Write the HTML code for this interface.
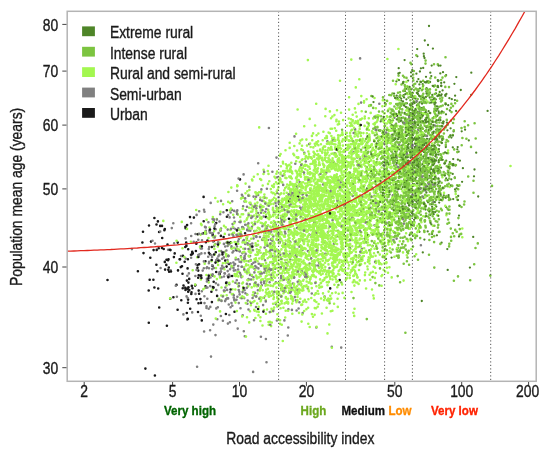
<!DOCTYPE html>
<html><head><meta charset="utf-8"><title>Road accessibility index</title>
<style>html,body{margin:0;padding:0;background:#fff}svg{display:block}</style></head>
<body>
<svg width="550" height="454" viewBox="0 0 550 454" font-family="'Liberation Sans', Arial, sans-serif">
<rect width="550" height="454" fill="#fff"/>
<g fill="none" stroke-width="2.6" stroke-linecap="round">
<path stroke="#1a1a1a" d="M177.7 242.6h0M166.9 325.7h0M225.9 314.0h0M159.1 232.0h0M198.7 290.6h0M180.1 259.3h0M156.4 264.8h0M200.5 275.7h0"/>
<path stroke="#808080" d="M260.1 206.8h0M236.0 274.6h0M263.6 216.5h0M292.9 283.5h0M386.6 222.9h0M184.3 287.6h0M270.8 239.4h0M239.6 294.4h0M257.9 290.3h0M396.6 238.6h0M405.0 159.2h0M333.9 244.0h0M188.0 287.8h0M288.4 309.2h0M309.2 144.1h0M252.0 247.2h0"/>
<path stroke="#a3f750" d="M294.5 213.9h0M314.3 260.4h0M314.8 154.3h0M340.0 269.5h0M243.0 282.5h0M328.2 196.6h0M314.8 143.8h0M330.0 208.4h0M317.2 168.9h0M336.1 177.3h0M329.9 276.7h0M285.8 254.8h0M412.4 153.2h0M427.7 114.6h0M427.5 101.6h0M347.4 205.6h0M337.4 260.1h0M383.0 133.3h0M272.6 272.9h0M217.7 262.1h0M381.9 244.3h0M316.4 302.0h0M300.8 184.0h0M333.2 219.2h0M392.6 196.3h0M340.0 80.8h0M349.3 177.2h0M321.9 313.5h0M376.4 208.6h0M275.0 277.8h0M334.6 169.0h0M318.9 262.2h0M293.3 236.3h0M344.1 192.6h0M285.7 206.1h0M342.3 208.5h0M353.7 214.7h0M305.1 164.9h0M352.7 153.8h0M301.3 304.9h0M281.5 295.7h0M374.6 168.9h0M274.6 258.0h0M361.3 257.5h0M263.6 253.3h0M314.1 199.8h0M262.2 264.3h0M322.7 225.7h0M300.5 227.7h0M289.0 247.2h0M395.4 209.3h0M367.0 181.1h0M403.7 206.6h0M318.7 156.5h0M355.9 228.2h0M328.2 192.3h0M287.4 200.3h0M319.1 163.4h0M267.9 288.9h0M383.7 269.9h0M298.4 214.6h0M298.0 226.5h0M305.8 156.6h0M349.0 246.5h0M326.2 153.8h0M300.4 245.3h0M312.0 239.6h0M347.0 179.1h0M285.8 262.9h0M324.8 219.4h0M333.9 162.7h0M305.8 286.5h0M271.6 243.5h0M315.2 218.2h0M365.4 152.1h0M348.4 144.8h0M260.4 288.3h0M356.7 177.1h0M301.0 250.0h0M313.2 190.9h0M346.7 197.2h0M340.0 145.4h0M330.9 254.5h0M355.6 238.3h0M299.0 170.3h0M329.7 209.7h0M330.1 299.0h0M308.0 172.9h0M351.5 152.5h0M402.6 161.8h0M354.0 218.8h0M300.7 238.5h0M344.4 199.1h0M327.4 235.8h0M329.0 223.4h0M328.0 168.3h0M285.3 199.8h0M289.9 242.6h0M380.2 208.2h0M322.4 239.7h0M343.3 202.2h0M280.6 154.1h0M271.0 227.5h0M343.4 201.9h0M382.6 216.9h0M387.0 180.6h0M323.6 224.6h0M393.7 197.2h0M353.2 211.4h0M305.5 268.6h0M314.1 254.3h0M341.3 187.1h0M303.0 196.8h0M379.7 169.8h0M381.0 189.5h0M220.5 211.9h0M335.4 153.2h0M339.6 184.7h0M290.9 225.6h0M352.6 259.0h0M354.9 235.3h0M370.6 221.0h0M273.0 286.1h0M304.1 174.5h0M322.4 248.4h0M299.0 280.4h0M301.5 249.9h0M359.8 201.8h0M309.2 254.7h0M327.6 260.5h0M347.3 187.7h0M382.1 237.3h0M350.5 167.9h0M306.8 219.7h0M340.3 207.5h0M256.0 296.7h0M361.5 173.7h0M322.8 254.5h0M334.0 268.0h0M290.5 194.1h0M406.1 233.2h0M449.7 187.0h0M323.9 177.4h0M314.8 219.7h0M376.1 229.1h0M389.4 183.5h0M341.3 232.4h0M343.6 159.5h0M382.2 133.0h0M320.9 232.3h0M275.5 178.1h0M285.3 243.9h0M348.3 164.8h0M322.5 217.9h0M364.1 101.1h0M277.0 210.6h0M329.4 155.5h0M385.0 206.4h0M304.9 177.2h0M276.8 250.2h0M396.3 125.9h0M327.6 211.1h0M336.2 130.7h0M338.1 178.0h0M305.4 267.0h0M357.8 222.8h0M265.7 300.0h0M358.8 144.0h0M332.5 139.3h0M302.8 171.7h0M310.3 190.6h0M310.8 230.3h0"/>
<path stroke="#7cc440" d="M367.6 178.4h0M406.3 134.7h0M427.3 172.7h0M435.1 160.5h0M433.2 170.9h0M464.7 127.1h0M414.6 256.2h0M418.4 151.6h0M400.1 108.7h0M372.6 277.1h0M423.5 97.4h0M377.2 234.8h0M402.4 104.2h0M425.7 227.4h0M383.8 200.6h0M403.4 210.0h0M411.2 196.3h0M393.3 173.5h0M404.4 140.7h0M417.1 158.6h0M436.0 153.8h0M428.7 172.2h0M410.0 121.3h0M438.9 113.5h0M443.3 187.9h0M370.5 199.8h0M369.1 106.0h0M411.6 203.0h0M410.3 161.3h0M455.6 191.4h0M413.9 225.6h0M400.5 229.2h0M426.3 131.2h0M424.9 159.3h0M412.8 93.0h0M395.0 187.9h0M423.7 141.2h0M411.3 212.0h0M407.5 157.1h0M383.3 218.7h0M419.6 204.1h0M429.4 178.0h0M420.5 131.5h0M407.0 181.9h0M367.2 137.4h0M444.1 174.9h0M423.1 114.8h0M419.9 191.9h0M397.0 133.9h0M457.1 185.2h0M406.0 130.2h0M393.6 149.3h0M415.5 149.9h0M420.8 125.2h0M407.9 224.8h0M374.9 127.9h0"/>
<path stroke="#4e8528" stroke-width="2.3" d="M430.1 82.0h0M411.1 72.4h0M433.3 162.4h0M430.3 72.7h0M411.1 89.4h0M436.9 235.3h0M425.1 113.0h0M398.8 169.1h0M417.3 112.7h0M449.4 98.2h0M417.5 171.7h0M414.3 184.4h0M431.2 180.9h0M406.2 183.8h0M386.5 174.6h0M442.3 122.9h0M406.3 107.3h0M399.3 176.3h0M417.8 150.9h0M423.9 151.7h0M448.3 209.8h0M404.0 179.7h0M395.9 202.1h0M399.0 167.5h0M412.0 198.4h0M459.9 160.7h0M409.6 87.0h0M446.4 93.9h0M423.9 134.7h0M450.6 128.3h0M405.4 183.4h0M407.5 184.1h0M430.8 147.7h0M421.6 114.9h0M415.0 179.8h0"/>
<path stroke="#1a1a1a" d="M236.6 250.3h0M258.1 309.0h0"/>
<path stroke="#808080" d="M225.9 299.4h0M185.6 238.4h0M247.0 294.5h0M384.4 156.0h0M265.3 211.7h0M197.1 366.7h0M319.3 263.0h0M191.1 257.7h0M173.3 223.3h0M216.3 308.4h0M240.9 256.3h0M254.9 292.9h0M216.7 260.4h0M259.2 250.4h0M342.6 248.8h0M420.9 245.3h0M348.7 147.8h0M188.9 273.4h0M263.1 305.1h0M271.3 231.5h0M348.4 213.0h0M377.3 185.4h0M224.8 290.7h0M264.6 247.5h0"/>
<path stroke="#a3f750" d="M346.0 139.8h0M289.7 197.6h0M300.0 265.7h0M286.7 192.7h0M305.5 230.7h0M359.6 225.6h0M327.9 222.8h0M228.3 255.6h0M318.3 154.3h0M282.3 263.4h0M329.1 247.8h0M370.1 250.6h0M342.8 242.8h0M392.2 221.5h0M395.2 178.5h0M326.9 300.1h0M409.3 170.2h0M354.5 308.8h0M337.1 244.1h0M307.9 245.5h0M388.0 150.0h0M316.4 142.3h0M387.1 185.7h0M324.5 219.8h0M367.7 127.4h0M296.2 254.7h0M340.7 225.5h0M269.9 201.9h0M304.3 223.2h0M306.4 231.3h0M356.6 223.5h0M387.7 191.8h0M310.1 172.2h0M369.4 187.5h0M391.4 241.6h0M349.7 275.3h0M437.1 215.3h0M292.9 239.2h0M341.7 160.7h0M309.7 193.1h0M314.1 156.7h0M324.7 241.2h0M325.1 138.3h0M303.1 188.2h0M314.3 222.8h0M346.3 180.8h0M330.8 163.1h0M406.8 217.6h0M332.4 228.5h0M411.6 181.2h0M348.4 194.2h0M386.3 263.1h0M315.7 282.0h0M301.2 246.3h0M257.8 227.8h0M306.6 265.2h0M309.2 226.6h0M313.8 237.0h0M296.1 253.8h0M349.5 198.2h0M310.5 201.3h0M350.2 215.2h0M259.9 264.0h0M383.5 219.2h0M339.2 236.6h0M388.3 109.9h0M315.9 277.3h0M374.0 173.5h0M405.5 134.8h0M378.2 214.2h0M343.4 253.8h0M405.0 202.0h0M393.3 138.9h0M337.0 266.7h0M250.1 267.2h0M352.8 120.4h0M381.6 189.0h0M290.0 169.6h0M311.1 157.6h0M219.6 242.9h0M332.2 225.8h0M410.1 94.0h0M375.3 212.6h0M350.8 235.1h0M278.3 254.7h0M289.2 231.1h0M274.6 243.2h0M341.4 246.9h0M308.9 207.3h0M372.2 203.5h0M274.2 223.8h0M332.5 161.7h0M348.8 140.8h0M247.1 218.4h0M384.3 173.1h0M355.9 264.7h0M255.4 318.0h0M408.0 241.3h0M345.1 184.0h0M355.4 215.0h0M238.9 235.6h0M271.3 311.6h0M417.8 138.3h0M251.2 266.0h0M317.3 260.5h0M389.5 163.8h0M359.2 198.2h0M342.2 239.9h0M310.3 247.4h0M402.4 140.2h0M349.1 109.6h0M317.8 248.0h0M265.3 243.4h0M382.3 275.0h0M220.2 230.5h0M369.2 205.4h0M357.4 235.0h0M362.9 185.7h0M261.0 191.9h0M254.5 224.4h0M330.0 242.0h0M319.4 267.9h0M335.0 140.1h0M216.8 219.1h0M355.9 240.5h0M297.5 200.7h0M348.7 155.7h0M359.9 191.0h0M271.0 255.5h0M414.9 127.2h0M333.7 227.7h0M366.0 162.4h0M384.9 184.8h0M398.0 185.4h0M314.3 186.3h0M296.3 292.7h0M263.3 201.3h0M258.7 311.9h0M305.0 179.6h0M305.7 193.2h0M285.9 297.1h0M297.5 175.9h0M238.3 286.6h0M333.0 218.6h0M341.8 227.1h0M336.2 230.7h0M256.7 276.9h0M306.8 223.4h0M274.8 265.3h0M318.9 174.7h0M297.3 289.5h0M387.5 229.8h0M362.0 141.0h0M328.9 170.4h0M323.6 164.8h0M288.8 234.5h0M367.9 261.7h0M285.4 219.7h0M293.2 249.5h0M347.8 193.1h0M308.0 185.4h0M348.5 146.4h0M300.2 167.1h0M314.6 194.1h0M287.1 202.2h0M268.1 246.0h0M345.8 209.7h0M329.4 215.3h0M340.3 184.7h0M262.7 264.2h0M286.7 268.5h0M416.2 254.3h0M281.8 324.8h0M294.3 228.8h0M370.9 186.2h0M339.5 259.7h0M302.3 269.7h0M309.0 156.5h0M302.0 185.9h0M256.1 259.8h0M285.2 256.9h0M309.5 266.0h0M357.2 282.6h0M383.0 199.7h0M301.6 321.6h0"/>
<path stroke="#7cc440" d="M409.6 162.6h0M356.8 161.4h0M431.0 184.6h0M367.1 173.4h0M409.5 205.2h0M404.1 184.5h0M398.4 162.2h0M429.2 183.8h0M398.9 188.0h0M378.5 227.0h0M376.5 138.3h0M418.9 190.0h0M384.4 100.2h0M424.2 230.7h0M403.2 82.4h0M429.7 129.5h0M410.7 192.1h0M442.0 100.4h0M433.4 151.7h0M438.1 172.1h0M425.6 206.2h0M412.3 190.0h0M420.1 200.9h0M396.8 249.3h0M416.8 116.5h0M435.4 106.4h0M434.1 117.1h0M387.5 236.2h0M388.1 156.2h0M409.3 116.8h0M420.6 135.0h0M437.3 221.8h0M438.5 192.7h0M418.0 217.7h0M415.2 238.1h0M399.3 220.8h0M411.4 226.7h0M372.7 245.8h0M406.5 77.9h0M409.2 183.0h0M403.3 241.4h0M405.1 86.6h0M418.2 173.5h0M413.2 235.8h0M358.7 227.5h0M409.2 228.8h0M413.5 129.5h0M392.0 189.5h0M392.1 147.6h0M426.0 118.1h0"/>
<path stroke="#4e8528" stroke-width="2.3" d="M447.7 269.9h0M402.5 169.4h0M435.6 177.7h0M445.6 104.3h0M411.6 201.5h0M420.9 141.4h0M434.3 159.4h0M433.4 171.5h0M423.7 198.0h0M416.2 177.4h0M412.1 175.5h0M469.9 267.6h0M426.4 91.6h0M407.8 108.4h0M422.5 97.3h0M387.0 130.0h0M408.1 198.3h0M404.3 134.8h0M415.4 144.0h0M406.8 149.1h0M412.1 122.5h0M412.0 95.2h0M431.2 188.6h0M432.1 234.0h0M410.4 96.8h0M399.8 97.2h0"/>
<path stroke="#1a1a1a" d="M203.6 196.9h0M187.6 268.4h0M183.5 285.5h0M265.9 216.9h0M226.9 216.7h0"/>
<path stroke="#808080" d="M208.7 275.0h0M323.7 242.3h0M290.5 192.1h0M290.4 259.6h0M223.7 267.6h0M357.3 157.5h0M293.6 218.9h0M297.0 228.0h0M273.3 226.5h0M204.0 209.8h0M258.0 213.1h0M409.4 121.0h0M277.2 193.0h0M281.1 288.8h0M209.3 230.8h0M396.3 165.0h0M359.4 255.6h0M235.7 259.4h0M236.7 211.9h0M200.7 248.4h0M353.7 152.0h0M242.2 227.3h0M235.6 320.6h0M280.2 254.8h0M242.4 253.3h0M354.6 191.0h0M214.1 246.1h0M298.8 284.3h0M233.5 251.1h0M272.9 263.9h0M243.8 240.1h0M195.5 293.9h0M272.5 269.3h0"/>
<path stroke="#a3f750" d="M336.7 256.7h0M364.3 211.9h0M365.7 228.3h0M301.0 187.4h0M355.7 230.2h0M262.7 290.2h0M362.7 195.9h0M290.5 193.1h0M358.2 227.8h0M372.0 131.3h0M276.3 211.9h0M318.9 267.4h0M394.1 205.0h0M345.0 156.7h0M360.8 119.6h0M348.8 194.3h0M370.7 272.8h0M303.5 279.8h0M280.1 267.6h0M390.6 239.6h0M379.3 222.3h0M322.0 160.0h0M296.4 224.8h0M372.6 234.6h0M327.7 210.4h0M254.7 310.8h0M303.1 280.7h0M305.2 158.8h0M321.2 214.1h0M303.1 273.1h0M311.0 191.7h0M354.2 192.5h0M338.1 254.4h0M331.2 146.9h0M340.0 233.7h0M308.4 226.4h0M338.0 197.7h0M324.7 187.0h0M394.2 174.9h0M289.3 282.8h0M292.4 265.1h0M399.7 160.4h0M305.3 226.2h0M214.4 248.9h0M351.9 149.7h0M371.4 225.6h0M345.5 254.6h0M301.1 214.6h0M253.3 292.3h0M281.3 258.8h0M356.6 223.5h0M243.1 214.2h0M307.5 216.2h0M354.6 180.5h0M331.9 237.3h0M389.1 205.9h0M337.7 219.0h0M319.9 272.5h0M365.2 191.6h0M417.5 165.8h0M374.4 232.4h0M377.1 225.9h0M400.6 152.6h0M285.1 210.3h0M299.1 269.5h0M313.0 316.7h0M348.3 228.5h0M346.3 185.3h0M338.0 183.5h0M336.4 237.1h0M270.5 246.1h0M357.8 262.2h0M293.9 185.5h0M257.5 221.9h0M311.8 253.9h0M259.8 297.7h0M340.2 208.9h0M332.5 224.4h0M395.2 211.7h0M310.7 204.3h0M326.4 238.0h0M302.9 233.8h0M370.2 189.5h0M328.6 291.6h0M281.4 296.8h0M376.2 115.7h0M341.5 171.0h0M356.2 233.6h0M310.0 204.1h0M339.3 170.1h0M398.6 135.1h0M299.9 265.7h0M320.1 254.3h0M321.1 177.3h0M296.9 266.5h0M240.3 273.7h0M316.3 241.0h0M329.3 198.4h0M398.0 187.4h0M330.8 166.5h0M260.1 179.0h0M331.1 198.1h0M340.1 194.5h0M255.1 199.1h0M317.6 171.6h0M338.6 249.3h0M330.7 247.8h0M361.6 166.9h0M311.3 206.6h0M345.3 224.1h0M289.9 268.5h0M315.3 197.1h0M332.2 178.2h0M312.1 198.6h0M371.2 229.6h0M403.5 158.2h0M303.0 241.2h0M359.3 164.0h0M346.5 222.7h0M320.1 221.3h0M350.4 252.6h0M273.0 209.0h0M295.7 221.2h0M400.5 139.3h0M354.5 143.9h0M322.7 160.6h0M422.8 203.1h0M255.4 192.4h0M339.1 141.1h0M337.8 161.0h0M292.2 189.5h0M262.9 279.4h0M374.8 169.3h0M354.6 209.9h0M350.6 144.3h0M354.1 205.5h0M296.3 267.4h0M346.4 183.0h0M281.9 287.9h0M339.2 162.6h0M321.6 200.1h0M351.8 232.5h0M227.5 241.8h0M298.9 233.6h0M286.3 251.7h0M206.0 232.8h0M350.5 135.9h0M355.4 131.6h0M332.4 215.1h0M301.5 187.4h0M305.7 254.1h0"/>
<path stroke="#7cc440" d="M392.7 201.1h0M439.5 231.8h0M425.7 178.6h0M420.8 214.7h0M416.9 150.2h0M376.4 178.9h0M400.6 165.0h0M390.5 201.0h0M453.9 119.3h0M403.7 208.2h0M439.2 188.2h0M433.0 200.0h0M401.2 213.3h0M373.4 205.6h0M470.2 280.2h0M399.7 208.0h0M415.5 180.6h0M401.0 164.3h0M381.0 116.2h0M395.5 222.0h0M424.0 166.4h0M433.5 212.1h0M407.1 125.0h0M399.7 107.6h0M427.2 200.7h0M395.3 177.6h0M438.7 168.9h0M424.7 125.8h0M405.2 161.4h0M442.5 77.6h0M393.6 163.0h0M389.7 120.1h0M403.8 142.8h0M400.9 146.5h0M426.9 180.2h0M413.3 80.4h0M395.9 207.9h0M409.1 118.6h0M414.6 173.6h0M394.6 242.5h0M407.1 164.5h0M391.0 166.8h0M429.9 185.4h0M391.4 223.5h0M412.1 203.4h0M350.8 177.6h0M394.2 174.6h0M430.0 220.7h0M430.0 154.2h0M420.5 220.2h0M425.9 120.5h0M399.1 131.1h0M394.0 179.2h0M393.2 198.9h0M342.1 129.8h0M386.3 163.8h0M399.5 209.8h0M399.1 117.9h0M373.4 177.2h0M426.2 178.1h0M422.1 144.5h0M401.7 181.9h0M432.1 179.6h0M397.6 105.5h0M425.5 63.6h0"/>
<path stroke="#4e8528" stroke-width="2.3" d="M421.5 146.7h0M376.2 170.9h0M429.0 26.0h0M424.5 134.6h0M414.3 196.7h0M446.1 207.1h0M391.6 140.5h0M426.1 122.4h0M401.7 117.9h0M428.1 202.3h0M421.2 112.6h0M412.8 110.8h0M446.2 178.3h0M407.1 187.3h0M406.7 175.7h0M442.2 140.0h0M426.2 162.3h0M420.8 155.1h0M417.7 203.7h0M443.8 195.3h0M426.0 96.9h0M423.7 171.6h0M418.0 139.8h0M439.7 186.4h0M389.6 194.5h0M394.9 128.0h0M430.8 177.3h0M395.3 205.4h0M377.5 164.2h0M438.3 134.1h0M431.6 198.4h0M399.2 155.0h0M408.8 144.0h0"/>
<path stroke="#1a1a1a" d="M182.5 273.8h0M176.5 284.9h0M205.5 286.2h0M211.4 291.8h0M198.2 277.7h0M284.8 215.2h0"/>
<path stroke="#808080" d="M302.6 207.5h0M237.4 296.8h0M253.9 295.5h0M267.2 226.4h0M241.4 277.3h0M276.3 229.6h0M283.5 205.7h0M206.5 306.2h0M206.1 233.7h0M220.2 214.2h0M301.7 271.0h0M263.9 297.8h0M299.4 302.3h0M233.4 227.9h0M205.8 230.7h0M248.3 280.1h0M322.7 219.8h0M293.9 277.7h0M329.2 161.8h0M280.1 179.3h0M242.8 196.5h0M215.5 335.1h0M302.4 194.5h0M275.1 268.8h0M183.4 314.4h0M236.8 243.7h0M260.9 336.7h0M263.8 224.3h0M336.2 251.0h0"/>
<path stroke="#a3f750" d="M379.3 115.7h0M332.4 265.6h0M329.8 276.5h0M405.7 135.9h0M316.0 293.4h0M267.5 205.3h0M298.6 195.0h0M347.2 166.8h0M316.3 244.6h0M293.9 256.5h0M325.2 155.2h0M355.6 221.8h0M375.8 244.1h0M353.9 215.5h0M231.7 234.1h0M354.3 168.6h0M338.3 137.6h0M332.7 194.2h0M269.8 253.4h0M342.8 205.2h0M313.9 268.6h0M293.6 188.8h0M289.7 147.9h0M336.2 209.2h0M375.7 202.0h0M414.4 205.5h0M314.5 203.8h0M363.6 154.2h0M311.4 193.6h0M266.2 214.5h0M325.1 146.6h0M345.0 218.5h0M338.4 159.1h0M322.8 207.5h0M329.0 209.5h0M330.6 181.5h0M291.2 256.3h0M388.1 242.8h0M313.6 211.4h0M352.3 184.4h0M283.6 245.3h0M341.9 269.3h0M260.5 208.2h0M291.8 289.0h0M328.0 221.1h0M232.9 233.1h0M336.9 219.7h0M403.5 195.3h0M401.8 210.0h0M268.2 209.9h0M372.3 246.5h0M344.7 140.3h0M269.9 269.9h0M289.7 142.7h0M344.6 150.1h0M342.5 178.9h0M410.7 221.1h0M373.8 154.7h0M331.3 248.9h0M334.6 212.6h0M330.0 217.2h0M333.2 226.1h0M325.4 201.9h0M399.7 160.0h0M356.8 135.2h0M291.5 278.3h0M279.6 243.0h0M326.1 249.5h0M302.5 226.1h0M331.3 245.8h0M346.7 240.6h0M288.0 212.1h0M302.2 198.2h0M376.6 122.1h0M330.6 128.8h0M283.0 214.8h0M323.6 182.8h0M325.5 185.4h0M270.2 201.5h0M385.2 271.5h0M310.1 184.6h0M356.5 169.8h0M358.4 215.8h0M373.9 150.0h0M389.6 251.4h0M300.5 140.6h0M281.5 223.6h0M391.5 217.6h0M359.6 196.1h0M270.2 262.4h0M337.2 223.4h0M376.4 132.4h0M373.6 173.3h0M324.5 192.4h0M364.9 155.6h0M310.7 216.1h0M350.0 135.9h0M328.5 148.0h0M390.9 224.3h0M366.5 172.1h0M410.4 166.1h0M206.4 275.0h0M307.0 216.3h0M369.8 158.0h0M368.8 118.3h0M356.6 156.5h0M289.5 164.9h0M286.9 214.6h0M351.5 153.9h0M258.8 232.6h0M278.9 200.8h0M287.0 200.9h0M397.7 230.0h0M255.7 282.2h0M306.3 194.8h0M280.4 280.5h0M292.9 269.6h0M324.6 249.3h0M321.3 245.1h0M271.4 249.1h0M322.7 273.7h0M298.6 199.9h0M442.4 177.3h0M301.7 250.7h0M327.3 167.8h0M327.5 161.5h0M339.7 180.0h0M354.6 233.4h0M271.9 280.0h0M288.7 165.3h0M355.0 132.9h0M358.1 247.0h0M367.5 127.9h0M279.5 251.9h0M321.5 169.4h0M280.9 284.2h0M321.9 242.0h0M361.6 260.9h0M305.4 165.8h0M329.3 167.2h0M338.1 212.0h0M225.9 254.7h0M370.5 160.8h0M360.4 187.4h0M260.2 218.2h0M351.0 151.4h0M423.5 134.2h0M357.6 161.4h0M288.9 207.3h0M279.6 212.2h0M359.0 270.0h0M398.7 131.4h0M359.0 223.3h0M313.6 275.0h0M291.8 178.5h0M287.8 245.7h0M401.6 152.5h0M313.5 256.1h0M339.9 239.3h0M363.2 190.3h0M336.5 119.8h0M271.2 276.7h0M323.0 293.4h0M332.0 252.0h0M366.4 222.5h0"/>
<path stroke="#7cc440" d="M397.7 173.0h0M366.2 214.2h0M389.0 222.2h0M393.6 184.8h0M359.8 246.2h0M386.6 207.8h0M378.2 140.9h0M377.1 159.2h0M408.7 250.7h0M416.3 117.5h0M392.3 179.5h0M388.2 195.1h0M383.0 131.0h0M449.0 137.1h0M392.6 109.8h0M420.5 116.7h0M375.9 178.9h0M458.2 189.2h0M446.7 140.1h0M413.0 165.9h0M417.4 208.9h0M408.0 227.6h0M443.1 138.9h0M405.5 218.3h0M411.3 105.3h0M413.4 164.2h0M434.9 191.6h0M401.9 211.2h0M432.4 191.2h0M438.4 134.8h0M402.4 129.8h0M370.0 146.9h0M423.9 190.2h0M438.9 232.0h0M415.1 117.2h0M416.9 218.0h0M387.1 150.8h0M369.8 220.2h0M356.8 242.8h0M341.3 282.5h0M409.9 185.9h0M364.7 178.6h0M385.9 183.4h0M411.2 129.3h0M436.7 157.5h0M446.0 197.3h0M429.0 254.7h0M421.1 122.3h0M418.3 173.0h0M377.1 228.1h0M415.3 204.5h0M405.9 157.6h0M397.0 198.4h0M451.4 103.9h0M405.4 118.0h0M405.5 159.9h0M405.9 123.6h0M419.1 122.1h0M410.2 151.7h0M440.3 132.1h0M417.4 152.2h0"/>
<path stroke="#4e8528" stroke-width="2.3" d="M441.2 82.9h0M411.0 145.8h0M423.2 136.4h0M434.7 113.0h0M446.1 75.2h0M424.8 40.5h0M399.4 149.4h0M402.3 145.5h0M457.9 159.7h0M396.0 108.6h0M433.7 214.2h0M414.5 125.7h0M427.5 186.3h0M452.1 186.0h0M428.5 141.9h0M435.2 168.4h0M419.4 106.9h0M408.1 80.6h0M410.2 171.8h0M399.5 251.4h0M406.9 217.4h0M410.3 93.3h0M434.9 170.8h0M405.0 91.1h0M421.4 108.2h0M402.4 209.0h0"/>
<path stroke="#1a1a1a" d="M196.5 242.6h0M209.9 254.3h0"/>
<path stroke="#808080" d="M185.6 258.6h0M224.5 273.3h0M336.3 176.5h0M168.1 249.7h0M394.4 117.7h0M301.5 225.0h0M266.5 362.3h0M199.2 211.2h0M229.9 276.3h0M275.5 257.1h0M170.7 270.2h0M299.0 186.1h0M238.8 303.1h0M302.7 313.1h0M271.6 278.3h0M210.1 330.3h0M270.2 232.8h0M243.8 331.3h0M236.5 299.7h0M248.6 261.2h0M276.9 320.5h0M271.2 274.7h0M301.2 249.5h0M366.7 157.2h0M366.0 146.1h0M286.9 264.2h0M253.5 262.8h0M222.9 320.8h0"/>
<path stroke="#a3f750" d="M320.0 218.5h0M416.9 158.8h0M310.6 220.4h0M294.1 194.9h0M361.9 206.7h0M366.8 211.1h0M280.6 268.9h0M310.1 143.5h0M404.0 144.0h0M339.6 153.7h0M406.2 130.2h0M408.5 185.9h0M315.6 235.0h0M345.1 164.5h0M361.5 250.3h0M324.0 192.3h0M320.5 196.0h0M300.3 298.7h0M326.9 209.7h0M312.1 173.5h0M308.9 208.3h0M350.2 219.4h0M336.0 180.2h0M350.9 236.4h0M292.3 249.8h0M344.4 202.8h0M268.9 212.4h0M353.8 174.3h0M322.9 148.0h0M381.6 285.7h0M301.4 239.7h0M353.5 175.5h0M342.4 159.5h0M360.1 228.3h0M331.4 168.9h0M316.4 225.2h0M248.2 286.4h0M265.4 202.3h0M362.7 138.7h0M320.7 264.5h0M324.9 250.0h0M360.5 180.3h0M348.9 140.3h0M322.2 255.8h0M386.7 235.4h0M392.7 138.6h0M369.6 189.4h0M366.1 288.5h0M231.2 248.0h0M398.6 142.9h0M386.9 216.5h0M316.4 286.2h0M343.4 221.3h0M330.5 211.6h0M329.2 193.1h0M399.1 129.6h0M342.1 284.4h0M319.1 273.3h0M273.4 268.8h0M317.0 143.9h0M342.9 161.8h0M334.4 115.1h0M354.4 169.5h0M343.1 199.6h0M358.4 182.1h0M335.9 249.5h0M313.8 198.7h0M282.6 280.3h0M352.1 190.8h0M252.3 211.5h0M330.5 180.7h0M389.8 163.0h0M350.6 261.8h0M342.9 227.4h0M330.9 164.4h0M372.6 215.1h0M300.2 175.6h0M278.6 232.4h0M314.2 231.0h0M249.4 190.0h0M334.4 163.4h0M242.7 252.2h0M304.4 252.9h0M351.1 165.7h0M405.1 180.9h0M301.4 149.4h0M268.1 225.3h0M415.7 175.8h0M345.4 183.1h0M339.3 201.5h0M324.7 278.0h0M353.1 259.9h0M340.5 249.8h0M295.0 203.9h0M355.9 199.9h0M406.7 189.1h0M291.1 197.4h0M176.6 240.8h0M221.3 300.4h0M299.4 206.4h0M321.5 181.6h0M272.2 247.0h0M371.5 201.7h0M256.8 311.5h0M224.4 269.2h0M328.4 282.2h0M314.2 221.9h0M314.1 276.2h0M406.0 127.1h0M317.1 230.7h0M276.4 287.6h0M328.9 281.8h0M291.8 297.4h0M272.1 185.7h0M383.7 136.9h0M336.2 169.2h0M317.7 291.0h0M295.0 292.0h0M348.6 198.5h0M346.0 191.9h0M300.3 190.5h0M394.4 256.8h0M322.2 267.9h0M206.6 219.7h0M288.8 208.1h0M285.8 298.1h0M407.1 86.3h0M355.1 271.3h0M360.2 144.0h0M416.5 213.4h0M392.3 183.1h0M387.2 189.9h0M391.6 188.9h0M228.4 192.0h0M364.8 116.6h0M362.1 140.7h0M304.7 214.8h0M326.7 185.5h0M224.9 251.8h0M304.8 234.7h0M326.5 154.8h0M314.6 196.5h0M313.6 151.9h0M302.9 187.2h0M317.5 259.7h0M299.9 201.1h0M323.5 231.5h0M350.6 226.7h0M231.3 187.6h0M255.9 258.4h0M362.9 179.8h0M345.1 137.4h0M351.4 157.9h0M334.4 189.4h0M298.4 264.7h0M311.5 248.7h0M285.5 278.5h0M293.5 204.2h0M273.5 268.2h0M373.3 178.5h0M352.0 220.3h0M334.1 137.9h0"/>
<path stroke="#7cc440" d="M421.2 188.3h0M413.2 116.7h0M401.7 203.8h0M459.7 234.5h0M410.8 137.3h0M365.1 193.6h0M415.7 137.0h0M413.6 101.4h0M407.5 257.5h0M454.2 236.3h0M424.4 183.8h0M420.0 119.6h0M400.9 247.9h0M412.2 164.9h0M435.6 117.2h0M419.5 109.2h0M408.6 172.9h0M380.4 130.4h0M399.7 173.0h0M453.0 106.1h0M438.4 181.7h0M424.2 142.5h0M407.0 146.9h0M407.7 122.3h0M371.8 241.1h0M396.5 184.7h0M403.9 183.1h0M405.5 147.5h0M382.9 176.1h0M423.4 197.3h0M370.2 186.2h0M413.2 127.0h0M443.4 197.1h0M401.5 154.2h0M387.1 143.2h0M379.5 201.2h0M418.3 165.9h0M422.1 172.1h0M426.8 169.0h0M378.7 205.1h0M441.1 155.0h0M403.5 169.1h0M423.3 143.0h0M412.7 174.6h0M404.6 210.9h0M381.4 119.5h0M442.3 97.7h0M406.0 152.2h0M381.4 234.1h0M414.7 215.5h0M415.1 130.9h0M368.9 162.0h0M384.9 152.5h0M435.9 178.1h0M394.4 200.9h0M389.6 222.7h0M414.1 132.2h0M397.6 133.0h0M363.5 159.4h0M433.6 152.0h0M428.5 118.2h0M402.9 217.5h0M392.0 151.7h0M434.0 86.4h0M434.4 162.3h0M430.5 148.3h0"/>
<path stroke="#4e8528" stroke-width="2.3" d="M436.3 206.6h0M414.3 112.9h0M435.9 110.9h0M411.9 137.6h0M399.1 218.7h0M402.4 141.1h0M407.7 157.2h0M426.4 158.4h0M418.3 138.4h0M398.0 180.8h0M437.4 96.0h0M435.7 149.6h0M424.9 135.6h0M422.4 183.1h0M411.3 176.8h0M416.9 105.4h0M424.3 145.0h0M420.7 143.8h0M404.3 213.4h0M457.7 147.1h0M412.3 128.2h0M435.4 156.2h0M438.8 131.8h0M390.2 182.8h0M415.0 112.1h0M446.2 160.7h0M421.8 301.0h0M411.9 213.1h0M434.9 98.6h0"/>
<path stroke="#1a1a1a" d="M236.8 249.8h0M200.4 299.1h0M296.4 215.3h0M149.0 225.5h0M343.8 234.8h0M213.7 281.8h0M156.7 249.9h0M166.5 259.7h0M143.5 253.1h0"/>
<path stroke="#808080" d="M281.1 278.1h0M255.7 284.7h0M257.7 286.0h0M255.3 262.0h0M407.2 211.1h0M287.3 264.9h0M361.9 248.9h0M298.6 308.5h0M250.6 204.2h0M200.6 246.0h0M221.1 251.1h0M409.3 214.7h0M230.6 307.2h0M360.1 58.4h0M261.0 232.0h0M267.6 245.6h0M225.4 287.5h0M256.2 236.4h0M282.8 290.8h0M174.1 243.2h0M237.7 250.2h0M237.0 246.5h0M411.0 129.8h0"/>
<path stroke="#a3f750" d="M329.8 211.8h0M416.7 169.9h0M287.5 196.8h0M334.0 260.9h0M269.2 271.7h0M357.4 240.5h0M313.9 227.3h0M333.9 200.7h0M279.8 234.4h0M282.3 240.7h0M334.6 164.1h0M380.7 195.2h0M355.1 273.2h0M320.2 200.2h0M388.3 121.5h0M359.7 129.0h0M339.9 189.2h0M293.8 233.1h0M309.3 166.7h0M302.1 290.6h0M357.6 155.4h0M314.0 270.5h0M403.4 103.7h0M326.9 143.7h0M332.3 205.6h0M328.9 259.7h0M308.1 199.1h0M316.6 206.5h0M376.1 174.9h0M309.7 247.0h0M383.4 239.9h0M402.5 191.3h0M354.9 234.5h0M284.6 303.4h0M341.7 204.2h0M297.3 188.4h0M317.5 246.4h0M317.4 218.3h0M331.5 153.7h0M344.7 208.0h0M322.7 280.9h0M322.5 177.4h0M411.0 226.2h0M342.9 145.6h0M344.1 226.6h0M346.2 204.7h0M305.3 208.0h0M397.2 108.3h0M267.9 236.1h0M291.4 193.4h0M322.2 152.8h0M319.6 224.1h0M375.9 162.6h0M397.2 208.9h0M304.5 271.9h0M200.9 279.4h0M312.7 199.1h0M298.3 157.4h0M282.4 198.8h0M249.5 202.8h0M343.6 218.3h0M384.0 185.9h0M251.7 287.4h0M345.4 228.3h0M365.9 250.8h0M255.2 284.3h0M272.9 265.2h0M335.7 247.5h0M321.1 287.1h0M320.2 216.3h0M320.9 144.2h0M347.7 208.0h0M324.1 228.3h0M326.4 247.0h0M347.8 166.6h0M315.3 154.2h0M330.6 199.9h0M316.6 205.4h0M371.9 169.9h0M306.3 256.9h0M362.1 198.4h0M316.7 247.3h0M376.7 181.4h0M352.8 176.8h0M344.8 160.8h0M326.1 226.5h0M291.0 256.4h0M384.8 152.9h0M259.2 127.4h0M335.4 276.9h0M267.7 251.8h0M257.9 254.4h0M308.3 151.5h0M297.5 243.6h0M363.3 225.7h0M321.3 197.6h0M349.1 141.0h0M291.8 275.6h0M282.8 341.0h0M299.3 241.1h0M327.7 167.7h0M315.9 269.8h0M355.7 213.5h0M366.9 229.8h0M290.5 276.5h0M309.9 174.5h0M264.8 270.1h0M313.3 210.5h0M384.3 126.3h0M348.9 205.3h0M280.1 320.2h0M314.4 239.2h0M325.2 153.6h0M406.2 151.2h0M333.1 231.4h0M309.9 198.7h0M215.3 198.0h0M375.9 108.3h0M211.6 261.1h0M290.7 253.2h0M291.4 214.9h0M358.7 255.5h0M307.4 241.5h0M369.1 169.3h0M305.1 209.0h0M328.9 245.7h0M332.2 187.9h0M369.2 188.6h0M329.6 225.4h0M375.4 201.7h0M309.3 224.8h0M376.2 148.3h0M287.3 244.5h0M209.5 227.5h0M348.6 230.1h0M325.4 188.5h0M197.3 257.3h0M304.0 243.9h0M355.1 130.5h0M345.8 255.5h0M318.2 259.0h0M375.2 164.4h0M334.4 175.2h0M391.2 168.3h0M361.1 260.3h0M396.1 169.8h0M351.0 119.2h0M337.4 254.3h0M289.7 219.1h0M323.4 264.9h0M273.9 284.2h0M357.6 123.3h0M200.0 246.9h0M303.3 214.6h0M347.5 173.6h0M297.5 251.4h0"/>
<path stroke="#7cc440" d="M377.2 203.3h0M408.2 155.2h0M410.6 94.0h0M428.6 189.9h0M405.5 220.3h0M415.8 152.0h0M381.4 187.8h0M439.7 126.2h0M425.4 225.8h0M425.2 184.7h0M432.5 162.1h0M409.8 198.0h0M425.1 173.7h0M398.6 75.6h0M490.3 275.6h0M419.4 178.8h0M396.7 223.3h0M394.8 113.5h0M401.7 133.0h0M435.2 179.4h0M412.8 138.8h0M387.9 150.5h0M371.0 151.9h0M436.2 149.4h0M427.8 158.9h0M424.0 139.1h0M361.2 232.2h0M408.1 253.2h0M387.1 199.9h0M416.6 198.5h0M431.2 173.9h0M440.8 195.7h0M396.7 185.3h0M441.6 182.8h0M415.9 206.4h0M428.2 216.6h0M405.8 163.8h0M404.8 174.2h0M402.2 168.4h0M429.8 92.6h0M436.2 189.0h0M413.5 122.8h0M398.1 162.7h0M416.9 161.7h0M411.5 240.3h0M431.3 159.0h0M415.2 161.2h0M420.1 143.4h0M429.3 199.9h0M370.7 203.2h0M432.0 165.3h0M428.2 132.2h0M405.9 160.7h0M427.4 93.6h0M448.1 219.5h0M403.4 122.9h0M418.0 259.8h0M401.7 202.9h0M391.3 138.7h0M414.8 190.9h0M432.4 102.1h0M407.0 167.2h0M377.8 137.4h0M383.3 192.8h0M418.8 173.8h0M448.1 153.1h0M413.1 196.6h0M440.3 117.6h0M398.2 248.1h0M403.4 197.1h0M427.9 189.1h0M418.3 191.2h0M418.6 108.3h0M403.0 165.0h0M434.9 101.8h0M400.2 95.2h0M407.5 128.7h0M410.2 152.1h0M370.8 105.4h0M441.9 174.9h0"/>
<path stroke="#4e8528" stroke-width="2.3" d="M424.9 171.0h0M396.4 114.0h0M428.6 111.2h0M420.4 157.5h0M424.3 204.3h0M419.0 164.2h0M413.8 162.0h0M427.5 178.9h0M420.7 116.6h0M429.7 126.8h0M445.3 95.0h0M440.5 65.6h0M426.5 93.5h0M426.6 148.3h0M442.4 126.4h0M424.7 149.3h0M441.1 167.7h0M439.5 190.2h0M418.8 113.7h0"/>
<path stroke="#1a1a1a" d="M137.9 271.2h0M162.0 248.0h0"/>
<path stroke="#808080" d="M237.3 210.4h0M354.4 148.3h0M264.1 272.6h0M418.1 130.1h0M261.0 212.8h0M227.7 271.1h0M281.1 276.1h0M404.9 175.0h0M265.0 260.2h0M383.2 209.7h0M231.5 267.3h0M210.3 306.9h0M217.8 307.3h0M299.4 246.7h0M320.6 173.8h0M240.9 275.4h0M272.4 256.1h0M311.8 293.5h0M229.3 315.0h0M210.2 286.1h0M265.7 232.6h0M268.9 128.0h0M306.3 199.2h0M311.7 236.7h0M256.7 245.5h0M195.5 234.0h0M287.8 335.5h0M239.8 251.5h0"/>
<path stroke="#a3f750" d="M272.9 270.1h0M340.6 205.5h0M293.8 190.0h0M322.2 199.0h0M331.6 217.3h0M400.0 132.5h0M201.6 225.1h0M330.8 271.9h0M353.9 207.8h0M253.1 267.2h0M269.3 274.6h0M334.8 128.3h0M265.8 276.3h0M315.4 251.5h0M255.0 203.8h0M376.2 170.2h0M354.4 285.6h0M327.8 200.5h0M365.2 240.8h0M329.1 221.9h0M320.4 150.8h0M263.7 258.3h0M299.3 212.1h0M415.8 157.1h0M337.8 179.6h0M380.6 177.5h0M357.6 211.1h0M231.9 294.2h0M279.0 183.4h0M393.5 204.8h0M294.3 191.6h0M324.2 208.1h0M311.7 195.0h0M352.0 230.8h0M342.7 225.1h0M321.0 210.4h0M274.7 259.6h0M292.1 173.1h0M441.5 158.2h0M302.3 314.5h0M362.7 220.0h0M425.3 152.9h0M297.6 174.4h0M365.4 239.0h0M333.3 270.0h0M323.9 203.6h0M350.1 186.0h0M379.5 162.4h0M387.4 59.0h0M325.5 157.5h0M389.0 130.0h0M318.2 240.1h0M311.3 249.1h0M387.2 127.8h0M292.3 173.5h0M281.5 263.9h0M366.1 203.5h0M261.0 280.5h0M382.0 197.8h0M295.1 249.3h0M329.3 215.2h0M366.8 252.6h0M320.3 215.4h0M310.1 255.7h0M383.1 140.3h0M353.6 178.1h0M248.4 216.5h0M210.8 274.9h0M294.8 200.8h0M267.0 275.5h0M348.1 178.0h0M299.7 224.7h0M353.5 158.5h0M395.4 155.3h0M285.7 310.8h0M304.2 311.0h0M388.9 183.5h0M328.6 270.6h0M290.6 183.8h0M380.3 198.8h0M280.6 308.2h0M308.0 268.7h0M293.4 153.9h0M308.3 230.2h0M240.9 231.7h0M331.0 198.9h0M263.5 200.7h0M218.9 298.7h0M408.2 113.6h0M367.0 195.7h0M388.4 212.7h0M312.3 140.2h0M279.8 273.3h0M367.0 218.8h0M313.0 175.9h0M343.2 163.8h0M374.0 253.2h0M346.3 236.3h0M395.9 222.9h0M370.0 193.2h0M348.2 149.4h0M359.8 280.4h0M380.4 183.0h0M328.2 239.4h0M282.6 216.1h0M182.5 248.2h0M367.3 221.9h0M347.3 275.1h0M272.1 291.6h0M339.8 204.8h0M276.1 199.0h0M367.7 145.6h0M406.4 225.2h0M360.2 139.3h0M321.3 177.3h0M316.6 204.0h0M334.7 193.6h0M291.0 190.1h0M292.0 201.4h0M360.7 162.4h0M360.3 181.8h0M278.5 319.2h0M272.9 209.7h0M335.4 243.4h0M345.2 205.2h0M345.7 210.5h0M391.5 150.9h0M348.2 214.2h0M417.9 209.9h0M321.5 233.8h0M303.6 260.6h0M388.4 206.6h0M315.7 222.6h0M408.1 239.9h0M392.1 198.0h0M354.8 212.3h0M289.3 285.4h0M337.0 149.1h0M372.0 289.5h0M214.8 254.5h0M353.4 312.7h0M291.9 183.7h0M303.2 261.6h0M362.1 118.5h0M406.6 199.5h0M347.8 244.6h0M345.7 272.9h0M258.4 253.0h0M317.8 250.4h0M339.5 217.1h0M258.0 241.0h0M362.4 171.0h0M280.7 203.8h0M294.5 241.6h0M338.1 186.7h0M286.6 286.5h0M321.8 230.4h0M324.7 248.2h0M341.8 156.6h0M337.4 147.4h0"/>
<path stroke="#7cc440" d="M393.7 129.5h0M388.0 173.3h0M396.2 199.5h0M407.0 146.6h0M389.8 140.0h0M427.5 159.2h0M369.3 250.4h0M423.5 123.1h0M410.1 139.2h0M373.2 107.9h0M415.8 190.9h0M426.7 145.2h0M409.5 155.1h0M431.7 209.6h0M461.7 145.2h0M393.7 116.0h0M411.3 145.8h0M415.6 235.6h0M383.7 193.3h0M399.3 204.0h0M429.9 92.9h0M385.4 199.5h0M440.7 142.1h0M385.5 246.0h0M412.0 189.2h0M396.8 146.9h0M414.0 214.5h0M410.8 129.1h0M429.7 148.1h0M390.6 200.0h0M396.0 216.3h0M425.5 155.6h0M416.3 151.2h0M432.1 232.4h0M399.3 131.9h0M377.2 220.3h0M388.4 215.8h0M386.9 195.0h0M449.5 166.7h0M423.1 80.9h0M420.9 156.6h0M396.4 151.6h0M426.9 127.1h0M387.3 173.5h0M407.7 107.9h0M399.8 156.8h0M406.1 200.2h0M393.0 179.7h0M445.5 103.2h0M425.7 169.5h0M401.6 206.9h0M433.3 148.8h0M398.5 120.2h0M336.5 164.1h0M408.6 126.3h0M416.3 208.3h0M424.9 206.3h0M356.9 213.1h0M414.6 178.5h0M419.5 175.7h0M406.6 185.0h0"/>
<path stroke="#4e8528" stroke-width="2.3" d="M444.9 175.5h0M394.8 160.0h0M389.2 234.8h0M405.1 153.4h0M447.7 124.4h0M405.2 138.8h0M400.0 168.3h0M436.7 110.0h0M451.8 99.2h0M401.6 174.0h0M436.1 141.9h0M435.8 147.7h0M426.4 153.3h0M413.4 168.0h0M419.5 161.0h0M371.7 208.2h0M458.8 224.9h0M377.7 206.6h0M436.2 129.7h0M432.1 206.8h0M418.4 153.7h0M409.6 200.2h0M416.8 92.8h0M410.8 157.0h0M487.6 110.9h0M410.4 152.1h0M450.8 185.4h0M406.2 114.4h0M378.9 130.4h0M406.0 163.3h0M410.9 178.8h0M415.5 199.9h0M409.9 104.4h0M414.8 138.1h0M441.2 85.7h0M380.1 180.6h0"/>
<path stroke="#1a1a1a" d="M159.2 307.5h0M148.8 322.8h0M212.7 275.4h0M156.5 224.5h0M339.7 280.1h0M188.4 282.6h0M219.7 273.9h0"/>
<path stroke="#808080" d="M201.9 248.5h0M303.0 193.7h0M301.2 209.8h0M241.2 235.0h0M286.0 254.9h0M244.5 201.5h0M318.1 265.5h0M248.4 223.4h0M216.3 290.0h0M202.7 270.6h0M275.9 282.3h0M431.4 158.9h0M221.0 228.6h0M213.9 268.0h0M288.7 229.7h0M285.8 263.0h0M385.0 138.3h0M305.3 272.8h0M327.4 141.2h0M245.2 244.0h0M296.2 188.7h0M281.1 296.4h0M239.5 222.0h0"/>
<path stroke="#a3f750" d="M350.2 244.1h0M298.9 259.3h0M299.9 241.5h0M354.9 186.2h0M276.5 228.0h0M356.1 122.6h0M271.1 222.6h0M292.2 246.0h0M354.1 200.8h0M403.3 171.9h0M317.5 271.5h0M318.5 225.8h0M323.7 191.5h0M337.1 194.9h0M376.8 248.6h0M294.5 191.7h0M282.5 201.7h0M266.2 284.4h0M274.2 197.8h0M342.2 195.7h0M301.5 254.6h0M305.6 211.5h0M305.2 193.2h0M270.7 279.6h0M208.4 241.4h0M269.5 215.4h0M342.4 249.3h0M288.0 245.1h0M265.1 223.5h0M337.8 170.7h0M324.7 196.1h0M301.3 256.2h0M297.0 212.8h0M243.3 197.7h0M334.9 179.9h0M336.8 198.4h0M393.8 144.6h0M332.9 250.8h0M373.2 118.4h0M290.0 184.7h0M235.3 289.5h0M380.1 210.2h0M397.8 186.3h0M265.6 203.6h0M393.3 180.4h0M290.8 176.6h0M385.0 208.6h0M359.9 174.7h0M432.4 197.7h0M329.8 205.2h0M286.3 228.9h0M296.5 274.6h0M322.6 253.1h0M380.0 200.7h0M290.7 242.3h0M320.9 158.1h0M305.7 221.9h0M348.6 165.6h0M317.0 170.5h0M268.7 236.7h0M344.9 229.2h0M243.0 290.1h0M317.4 187.1h0M283.2 276.2h0M324.3 279.7h0M290.9 177.7h0M357.9 219.9h0M256.7 286.3h0M399.8 241.2h0M339.1 124.0h0M261.4 210.1h0M357.8 215.1h0M315.1 200.4h0M241.2 257.4h0M252.4 205.7h0M232.9 226.7h0M329.5 165.2h0M308.0 214.7h0M347.7 183.3h0M295.3 217.0h0M364.9 220.0h0M283.7 207.7h0M334.0 162.2h0M319.9 271.3h0M256.0 208.6h0M425.4 180.1h0M254.8 259.1h0M355.9 224.7h0M247.0 317.2h0M378.0 178.9h0M313.3 147.4h0M253.2 224.7h0M375.8 192.9h0M273.9 297.3h0M354.0 153.0h0M323.1 238.5h0M309.1 193.0h0M278.7 243.0h0M347.6 234.7h0M317.4 183.7h0M322.0 194.6h0M321.3 172.3h0M265.0 242.3h0M239.0 271.8h0M329.3 241.7h0M350.7 227.0h0M347.8 195.9h0M337.4 221.9h0M355.1 171.6h0M282.2 259.3h0M349.3 221.4h0M304.2 248.1h0M410.9 155.5h0M273.5 258.1h0M290.2 261.4h0M334.2 163.3h0M357.3 228.1h0M314.0 192.8h0M349.8 239.2h0M341.6 172.7h0M403.1 164.7h0M311.2 191.3h0M417.1 188.2h0M290.7 189.2h0M247.9 269.5h0M347.3 253.3h0M396.5 99.3h0M384.6 113.2h0M360.3 264.5h0M336.4 121.3h0M317.4 183.5h0M363.0 176.8h0M319.8 233.4h0M364.8 172.2h0M328.7 182.9h0M320.1 149.5h0M301.0 247.2h0M287.4 206.0h0M377.9 243.2h0M337.6 298.8h0M342.2 261.1h0M348.1 174.2h0M330.3 278.9h0M266.9 232.8h0M244.3 251.9h0M276.9 268.1h0M300.9 272.0h0M373.5 124.0h0M313.8 210.7h0M295.3 190.3h0M368.1 213.0h0M304.5 204.5h0M328.8 193.5h0M299.8 171.5h0M337.8 161.8h0M307.8 198.7h0M333.1 234.9h0M391.4 140.4h0M352.0 183.1h0M260.8 210.7h0M269.3 181.3h0M321.1 259.2h0M333.0 258.3h0M303.2 226.2h0M302.8 217.7h0M312.7 225.1h0M269.5 279.0h0M432.1 128.4h0M315.7 246.5h0M391.7 223.4h0M345.3 162.3h0M335.7 292.6h0M276.1 260.9h0M232.2 266.9h0M344.4 200.5h0M253.9 236.3h0M331.6 141.2h0"/>
<path stroke="#7cc440" d="M368.7 157.1h0M405.1 186.1h0M395.2 182.1h0M412.6 177.2h0M417.8 116.1h0M418.7 105.5h0M371.5 178.5h0M404.5 103.8h0M391.4 151.3h0M424.5 102.5h0M393.3 201.0h0M411.7 108.8h0M411.0 223.8h0M401.1 128.7h0M427.7 165.5h0M367.2 222.3h0M377.8 194.4h0M407.7 139.9h0M415.4 126.0h0M406.9 173.0h0M440.4 154.5h0M442.2 200.3h0M376.5 201.9h0M398.6 255.5h0M435.6 166.5h0M396.4 196.2h0M435.1 138.1h0M419.1 165.9h0M372.0 215.8h0M393.4 134.9h0M425.2 184.6h0M408.1 168.7h0M420.4 138.6h0M426.3 102.9h0M436.1 148.5h0M404.2 221.5h0M418.2 150.3h0M437.5 128.7h0M393.5 174.0h0M419.0 224.1h0M431.0 124.3h0M405.0 119.0h0M426.5 89.1h0M448.3 196.6h0M394.4 106.5h0M390.9 143.3h0M420.5 193.2h0M377.5 173.0h0M449.4 206.5h0M415.8 228.4h0M408.5 193.3h0M378.5 232.6h0M433.3 208.7h0M377.6 233.7h0M451.2 240.7h0M421.1 199.8h0M375.5 127.2h0M391.5 159.2h0"/>
<path stroke="#4e8528" stroke-width="2.3" d="M396.7 95.7h0M413.4 173.5h0M418.8 145.1h0M443.3 188.2h0M437.8 168.4h0M408.0 195.7h0M417.2 49.1h0M419.5 102.5h0M410.3 215.6h0M433.4 85.9h0M429.5 175.9h0M429.7 97.5h0M409.0 209.3h0M417.9 112.1h0M445.8 147.0h0M404.8 142.4h0M419.1 95.7h0M404.3 161.9h0M376.5 130.0h0M425.1 119.9h0M392.5 154.3h0M389.6 204.1h0"/>
<path stroke="#1a1a1a" d="M107.5 280.0h0M229.8 243.3h0M216.2 272.0h0M198.2 270.6h0M199.1 264.3h0M198.5 303.3h0M229.1 264.0h0"/>
<path stroke="#808080" d="M253.6 196.6h0M305.8 161.5h0M239.0 286.0h0M208.2 256.8h0M250.8 260.0h0M265.8 270.7h0M273.1 294.6h0M318.1 228.4h0M365.6 222.5h0M238.3 228.2h0M307.8 288.5h0M323.2 184.5h0M213.3 324.6h0M218.6 233.1h0M193.7 241.7h0M291.9 309.9h0M253.5 238.5h0M237.1 190.8h0M353.4 206.7h0M370.7 207.8h0M397.8 189.2h0M282.8 216.6h0M294.8 297.1h0M290.9 291.6h0"/>
<path stroke="#a3f750" d="M343.1 151.5h0M290.1 211.8h0M377.4 224.3h0M315.7 293.3h0M274.5 250.7h0M339.0 158.2h0M361.7 236.0h0M354.1 269.7h0M377.7 217.5h0M321.6 188.3h0M208.5 238.0h0M366.3 212.4h0M394.4 149.0h0M421.3 156.3h0M341.6 216.4h0M297.1 272.2h0M287.2 184.5h0M403.7 192.9h0M336.5 168.2h0M315.8 257.3h0M321.1 282.8h0M305.4 264.0h0M294.1 249.9h0M313.2 173.8h0M277.4 217.3h0M337.4 256.6h0M357.7 148.2h0M309.7 327.0h0M296.4 218.9h0M394.7 126.8h0M421.4 222.2h0M265.8 227.2h0M286.3 200.7h0M342.1 261.9h0M370.5 224.5h0M258.7 220.5h0M314.8 266.9h0M368.7 195.6h0M218.3 300.2h0M288.4 293.0h0M299.5 276.6h0M291.9 265.3h0M336.8 255.0h0M384.5 238.2h0M332.4 116.5h0M354.7 221.6h0M371.2 169.4h0M369.6 263.5h0M341.0 112.7h0M292.7 203.2h0M349.4 213.2h0M345.8 279.8h0M243.3 248.8h0M382.9 195.5h0M326.0 260.4h0M332.5 250.1h0M263.5 206.8h0M314.8 169.5h0M216.7 261.7h0M337.9 181.3h0M323.8 223.5h0M313.3 217.6h0M255.6 245.5h0M269.1 219.3h0M355.9 251.9h0M347.9 212.7h0M346.6 223.4h0M326.6 191.6h0M353.6 250.4h0M192.7 270.3h0M254.2 215.6h0M328.4 213.6h0M364.1 197.3h0M343.4 220.3h0M326.2 209.2h0M273.2 216.1h0M300.6 232.5h0M325.0 246.3h0M355.8 206.8h0M388.6 174.4h0M308.8 241.6h0M367.0 194.9h0M363.5 227.0h0M212.6 289.4h0M296.0 202.1h0M392.3 220.4h0M323.0 170.8h0M349.4 177.4h0M322.7 237.0h0M360.6 165.6h0M329.8 224.1h0M332.6 270.8h0M364.9 280.4h0M286.3 250.9h0M333.6 140.2h0M315.6 246.8h0M303.0 301.5h0M292.8 216.6h0M309.0 269.5h0M292.5 254.6h0M356.9 275.2h0M326.3 161.3h0M284.5 175.1h0M358.7 148.5h0M280.6 222.5h0M325.2 215.3h0M276.9 236.2h0M346.2 259.5h0M260.7 252.7h0M349.4 209.5h0M299.4 174.1h0M340.9 187.0h0M333.5 197.4h0M282.1 262.5h0M356.5 257.2h0M278.4 210.0h0M302.0 246.9h0M351.0 164.3h0M357.7 178.7h0M326.7 253.9h0M309.5 222.0h0M326.3 235.2h0M282.7 253.5h0M298.7 288.8h0M413.9 167.4h0M273.4 275.2h0M347.7 219.0h0M335.3 235.8h0M339.7 254.8h0M387.8 206.5h0M428.9 124.7h0M281.2 193.4h0M263.9 310.0h0M332.6 231.4h0M354.4 145.4h0M356.6 154.0h0M312.2 261.4h0M341.0 236.5h0M256.4 211.1h0M292.9 253.7h0M343.8 177.2h0M354.6 198.7h0M269.3 291.9h0M355.0 145.3h0M285.2 317.5h0M299.6 196.9h0M237.2 186.3h0M298.3 259.2h0M357.5 171.1h0M257.4 293.5h0M270.2 226.6h0M375.8 213.1h0M414.3 151.9h0M323.4 258.3h0M360.7 208.9h0M277.6 263.0h0M312.8 205.0h0M278.6 212.3h0M284.1 246.3h0M313.5 198.8h0M389.6 108.6h0M341.7 211.2h0M386.5 192.2h0M352.0 215.9h0M323.6 195.4h0M310.7 277.4h0M372.2 150.4h0M291.0 211.5h0M248.5 194.8h0M382.6 220.3h0M343.1 174.8h0M240.2 216.9h0M333.9 262.2h0M384.0 222.2h0M323.6 175.3h0"/>
<path stroke="#7cc440" d="M405.1 134.8h0M446.8 119.9h0M385.1 207.8h0M381.6 136.8h0M434.1 193.0h0M427.1 135.7h0M403.3 202.5h0M396.1 153.3h0M364.8 161.3h0M400.4 196.9h0M402.8 164.6h0M377.1 154.7h0M410.2 141.4h0M423.4 158.3h0M406.5 166.5h0M404.7 85.1h0M435.5 182.7h0M400.3 126.7h0M382.5 196.4h0M382.5 143.9h0M449.0 164.6h0M422.5 171.5h0M449.3 243.7h0M400.9 226.5h0M419.1 150.6h0M412.9 164.5h0M418.4 128.0h0M396.9 236.1h0M406.2 147.1h0M429.8 171.3h0M376.5 188.2h0M403.7 138.3h0M447.4 223.8h0M420.5 219.5h0M420.7 151.6h0M451.8 164.4h0M443.9 133.5h0M428.9 120.8h0M398.4 257.8h0M402.0 148.5h0M411.2 128.3h0M414.3 222.1h0M415.9 175.8h0M387.8 216.6h0M438.8 160.9h0M468.2 176.5h0M398.4 222.1h0M415.9 110.2h0M388.3 182.2h0M418.5 148.9h0M398.0 212.7h0M338.4 285.0h0M384.2 230.4h0M400.8 195.5h0M403.2 198.5h0M383.2 189.9h0M398.5 132.7h0M417.0 235.9h0M383.4 133.1h0M419.4 185.8h0"/>
<path stroke="#4e8528" stroke-width="2.3" d="M404.1 105.5h0M454.8 177.5h0M439.6 199.8h0M429.1 210.9h0M408.5 148.4h0M432.7 162.9h0M407.0 124.7h0M426.6 88.2h0M375.1 216.6h0M412.9 139.2h0M418.8 198.4h0M415.2 143.3h0M432.5 209.3h0M415.3 193.2h0M441.9 143.0h0M411.2 224.8h0M439.4 170.4h0M405.7 106.8h0M446.9 122.6h0M437.5 115.6h0M438.5 120.0h0"/>
<path stroke="#1a1a1a" d="M216.2 223.0h0M157.9 221.4h0M186.9 280.6h0M212.5 265.9h0M179.6 259.3h0M215.8 252.2h0M185.6 228.2h0"/>
<path stroke="#808080" d="M250.1 256.1h0M266.5 280.6h0M329.5 268.0h0M232.7 234.5h0M213.9 221.1h0M374.4 195.7h0M187.2 319.6h0M252.3 243.5h0M160.6 268.0h0M219.6 260.7h0M240.5 308.3h0M403.8 223.7h0M212.8 275.2h0M288.0 282.3h0M212.4 235.6h0M212.2 265.2h0M241.6 266.7h0M309.1 234.7h0M414.2 124.5h0M230.1 292.3h0M204.5 303.1h0"/>
<path stroke="#a3f750" d="M332.3 138.2h0M358.7 257.6h0M260.7 222.7h0M283.9 270.5h0M327.4 244.2h0M322.4 196.7h0M301.8 170.3h0M326.9 138.1h0M326.2 187.7h0M247.1 273.4h0M395.4 192.1h0M330.3 176.8h0M251.0 211.8h0M307.4 192.3h0M329.6 187.2h0M262.3 206.2h0M370.7 189.8h0M347.7 210.2h0M288.6 197.1h0M335.4 262.2h0M334.2 214.7h0M364.0 155.2h0M345.4 256.2h0M297.5 270.8h0M288.1 302.4h0M377.8 230.6h0M370.0 211.2h0M233.0 294.0h0M303.2 186.8h0M314.9 245.7h0M322.5 239.5h0M288.1 310.8h0M411.1 107.7h0M263.0 297.8h0M358.9 196.6h0M288.0 202.4h0M276.8 228.4h0M293.1 198.2h0M314.9 178.2h0M316.0 172.2h0M308.3 276.6h0M321.2 266.3h0M356.2 265.2h0M317.3 222.6h0M366.2 191.1h0M400.7 147.2h0M325.9 199.2h0M325.0 225.7h0M406.8 255.3h0M351.0 209.1h0M308.4 180.9h0M334.8 206.3h0M386.8 205.8h0M262.5 325.5h0M417.4 107.1h0M337.8 124.5h0M373.6 157.3h0M315.6 223.1h0M314.8 308.1h0M294.8 195.4h0M332.0 149.6h0M317.2 252.8h0M234.7 274.1h0M353.7 165.4h0M335.3 261.4h0M408.2 182.4h0M322.2 238.1h0M200.6 234.6h0M371.1 183.6h0M296.8 251.0h0M343.1 164.1h0M345.9 195.6h0M383.3 172.4h0M364.7 252.2h0M292.3 313.8h0M335.2 147.4h0M298.7 180.0h0M342.9 232.4h0M355.5 282.2h0M321.4 254.3h0M364.1 178.2h0M301.3 239.4h0M287.6 246.3h0M317.6 186.4h0M376.3 181.1h0M388.7 182.1h0M404.6 177.9h0M349.1 97.2h0M318.0 230.0h0M287.6 170.5h0M372.8 271.9h0M399.1 132.3h0M294.5 206.9h0M302.0 145.7h0M212.9 222.1h0M389.7 180.7h0M301.9 164.0h0M342.9 219.7h0M322.2 227.9h0M277.1 171.6h0M296.1 258.3h0M301.9 171.6h0M288.9 238.3h0M332.6 279.5h0M313.6 224.1h0M380.1 152.0h0M276.9 231.8h0M334.3 256.2h0M384.0 219.3h0M308.5 178.4h0M291.0 264.0h0M310.8 283.5h0M293.4 186.5h0M410.7 144.2h0M306.9 220.0h0M291.9 247.2h0M275.9 260.2h0M306.6 278.3h0M292.8 225.9h0M386.9 170.7h0M334.8 178.6h0M273.5 261.7h0M392.1 177.7h0M346.7 148.2h0M252.7 295.1h0M238.3 276.4h0M293.8 252.2h0M320.2 156.0h0M392.2 146.6h0M376.1 216.7h0M330.6 181.9h0M307.0 268.0h0M309.5 196.4h0M304.7 225.6h0M291.2 214.4h0M240.6 237.7h0M284.8 246.6h0M328.5 264.4h0M285.7 240.6h0M336.2 227.4h0M317.6 207.9h0M318.6 159.7h0M320.8 231.3h0M354.1 171.6h0M368.8 156.3h0M292.1 250.2h0M356.2 230.0h0M305.5 257.7h0M336.7 205.4h0M378.1 194.0h0M214.1 231.2h0M315.3 222.0h0M356.0 273.7h0M322.2 224.6h0M254.6 259.4h0M405.0 149.8h0M279.6 228.2h0M297.0 206.5h0M377.4 233.3h0M313.9 226.2h0M356.6 152.2h0M360.4 225.3h0M348.7 189.5h0M318.3 190.6h0M349.4 174.7h0M294.4 271.1h0M317.8 214.8h0M299.2 261.1h0M341.9 265.2h0M309.5 180.1h0M446.4 215.3h0M296.0 178.3h0M350.5 248.9h0"/>
<path stroke="#7cc440" d="M406.3 218.1h0M338.1 230.7h0M361.5 188.1h0M384.2 250.6h0M414.0 118.6h0M419.1 151.2h0M392.6 188.5h0M448.8 183.7h0M434.0 64.3h0M405.3 124.5h0M391.9 114.2h0M445.4 161.6h0M419.7 183.0h0M439.1 167.1h0M417.7 144.7h0M403.0 196.4h0M399.0 197.1h0M395.4 142.7h0M404.8 204.1h0M439.4 170.9h0M426.9 177.8h0M392.5 146.0h0M419.9 199.7h0M375.7 192.5h0M407.4 126.8h0M389.0 223.9h0M379.4 196.7h0M411.9 122.9h0M413.8 96.6h0M440.2 192.9h0M391.3 186.6h0M375.7 226.0h0M417.6 90.6h0M413.6 167.7h0M401.5 184.3h0M391.9 208.7h0M435.4 205.1h0M375.5 199.2h0M449.0 87.1h0M375.0 215.3h0M412.3 206.1h0M423.7 176.0h0M386.8 153.2h0M407.8 210.7h0M414.8 165.2h0M421.6 116.3h0M446.8 166.2h0M410.7 151.1h0M404.0 214.7h0M432.4 154.1h0M411.6 195.8h0M432.9 189.5h0M426.8 188.7h0M384.8 159.7h0M404.7 141.3h0"/>
<path stroke="#4e8528" stroke-width="2.3" d="M434.8 139.4h0M439.7 91.9h0M434.1 163.7h0M419.7 121.9h0M405.3 119.3h0M404.8 167.3h0M377.9 235.7h0M419.4 163.4h0M432.6 135.2h0M432.5 132.6h0M417.4 56.3h0M422.3 108.2h0M432.7 211.9h0M427.5 146.9h0M439.9 159.8h0M403.7 95.1h0M404.1 175.2h0M405.2 208.6h0M389.4 179.0h0M406.3 88.8h0M392.2 204.1h0M430.9 173.2h0M440.0 185.8h0M435.8 99.4h0M422.9 86.3h0M415.0 96.6h0M418.4 158.6h0M422.5 89.4h0M424.7 162.8h0M437.5 185.1h0M399.3 185.3h0"/>
<path stroke="#1a1a1a" d="M211.8 247.0h0M241.1 235.5h0M185.3 247.0h0M234.5 311.7h0M203.5 233.2h0M201.9 246.2h0M191.8 285.9h0M197.5 265.1h0M174.7 253.4h0M188.5 287.2h0M178.0 270.4h0"/>
<path stroke="#808080" d="M309.6 263.6h0M246.9 239.1h0M305.3 219.4h0M250.2 274.8h0M341.2 347.6h0M215.2 224.3h0M388.1 207.7h0M288.3 327.5h0M242.0 266.8h0M252.6 298.0h0M332.5 220.2h0M232.0 210.0h0M310.2 189.1h0M307.9 251.1h0M266.9 188.7h0M256.4 208.2h0M247.4 303.7h0M277.1 293.6h0M268.9 268.5h0M235.1 264.0h0"/>
<path stroke="#a3f750" d="M361.2 165.1h0M314.3 254.2h0M301.5 261.9h0M336.8 183.5h0M319.3 287.8h0M290.7 170.2h0M422.5 134.8h0M381.9 138.5h0M305.6 249.1h0M308.3 230.0h0M316.4 237.7h0M371.1 249.3h0M297.3 191.7h0M296.5 302.3h0M342.2 186.2h0M294.7 257.3h0M288.2 278.2h0M216.0 268.1h0M313.5 243.9h0M313.2 204.0h0M282.0 204.6h0M322.1 267.8h0M298.0 158.0h0M361.9 238.7h0M261.2 179.9h0M292.0 171.5h0M359.7 159.8h0M268.0 183.9h0M336.3 149.8h0M278.9 260.1h0M406.1 110.5h0M293.3 274.6h0M405.0 195.6h0M319.7 229.1h0M254.2 286.1h0M401.1 216.2h0M346.2 239.1h0M315.1 214.4h0M410.8 132.1h0M363.0 156.7h0M294.5 230.9h0M273.6 186.9h0M316.8 191.2h0M358.2 145.5h0M383.8 214.3h0M325.3 150.3h0M328.0 209.6h0M309.0 182.0h0M325.3 203.2h0M273.9 212.5h0M249.3 195.8h0M292.1 202.7h0M239.4 229.8h0M387.6 117.0h0M417.6 218.1h0M345.5 196.2h0M335.2 140.9h0M350.2 185.6h0M402.8 212.5h0M329.4 223.4h0M294.6 273.8h0M243.7 228.9h0M323.0 227.4h0M349.1 172.2h0M270.8 243.7h0M391.2 140.8h0M304.1 286.1h0M352.8 267.7h0M372.7 157.9h0M297.0 191.7h0M347.5 256.2h0M374.5 98.0h0M327.0 179.4h0M301.5 190.5h0M240.5 297.9h0M375.0 123.0h0M296.6 177.4h0M323.3 280.2h0M289.9 244.9h0M296.7 223.1h0M354.2 315.9h0M360.8 246.5h0M307.8 173.6h0M301.4 168.0h0M351.0 194.4h0M345.8 206.9h0M296.4 289.4h0M365.6 234.8h0M353.9 148.6h0M411.0 188.0h0M237.3 283.8h0M324.8 159.4h0M432.5 159.4h0M361.4 243.1h0M339.9 233.2h0M353.1 161.8h0M274.3 292.2h0M414.5 234.4h0M367.6 237.3h0M355.0 255.7h0M361.7 218.4h0M289.1 200.3h0M409.9 228.8h0M291.7 219.9h0M346.3 219.6h0M327.7 199.4h0M324.1 257.2h0M308.3 210.9h0M412.4 185.2h0M358.5 151.4h0M426.7 140.5h0M253.1 209.5h0M383.4 198.1h0M335.7 219.4h0M333.1 230.6h0M418.8 144.6h0M241.7 214.3h0M390.1 224.3h0M305.0 266.9h0M372.5 132.9h0M282.3 209.7h0M314.6 261.8h0M374.2 210.9h0M323.2 164.5h0M308.9 291.2h0M340.8 267.1h0M308.7 178.0h0M322.6 195.1h0M290.5 202.2h0M297.5 190.4h0M341.0 178.9h0M377.9 115.3h0M350.5 272.6h0M247.3 191.2h0M402.1 225.8h0M260.6 217.9h0M330.1 245.1h0M375.7 144.6h0M423.5 185.1h0M375.7 260.9h0M309.7 172.9h0M320.2 190.5h0M326.1 274.2h0M309.1 220.3h0M277.6 268.0h0M357.9 189.0h0M277.4 275.1h0M381.2 219.6h0M296.2 240.5h0M363.9 252.6h0M358.4 133.6h0M327.7 152.6h0M341.7 226.4h0M351.2 138.1h0M273.8 241.7h0M385.6 196.2h0M434.9 112.4h0M398.2 168.3h0M325.7 183.2h0M422.0 196.5h0M283.7 220.2h0M335.6 251.8h0M333.5 254.6h0M314.6 191.1h0M421.6 132.8h0M302.6 229.5h0M250.0 311.2h0M364.2 243.0h0M315.3 162.6h0M382.0 200.2h0M297.1 150.5h0M364.7 118.5h0M319.1 162.4h0M345.0 254.1h0M274.2 225.6h0M283.2 225.4h0M358.5 155.2h0"/>
<path stroke="#7cc440" d="M384.8 169.0h0M407.0 188.8h0M451.5 112.1h0M420.9 220.3h0M432.4 121.2h0M422.7 146.7h0M389.9 237.4h0M432.6 155.2h0M411.0 163.2h0M379.9 171.5h0M379.6 174.5h0M420.4 147.4h0M428.5 81.4h0M398.7 168.1h0M402.8 247.6h0M399.4 187.4h0M391.4 126.3h0M380.0 164.0h0M429.5 181.9h0M414.5 195.9h0M371.0 187.0h0M386.8 160.9h0M439.4 199.5h0M435.3 175.9h0M423.8 166.0h0M387.6 197.1h0M401.4 181.3h0M407.3 211.0h0M450.1 135.8h0M402.9 96.0h0M409.7 91.7h0M421.2 202.6h0M473.5 192.8h0M447.9 170.8h0M410.6 211.6h0M359.3 261.1h0M417.7 115.7h0M432.4 202.5h0M437.2 130.2h0M353.3 183.9h0M390.1 160.3h0M376.3 234.1h0M434.5 108.9h0M403.7 263.7h0M408.5 97.6h0M403.4 165.6h0M431.7 161.4h0M384.3 206.2h0M430.0 89.4h0M422.4 150.5h0M390.4 120.9h0M403.3 229.6h0M366.4 242.4h0M412.2 216.3h0M429.1 161.2h0M438.5 179.3h0M406.4 184.7h0"/>
<path stroke="#4e8528" stroke-width="2.3" d="M439.3 145.6h0M451.4 137.6h0M397.4 171.1h0M416.6 201.8h0M419.4 84.4h0M410.7 93.8h0M445.5 95.9h0M441.2 159.8h0M449.8 162.1h0M392.4 180.2h0M442.7 197.6h0M413.7 184.5h0M394.3 114.6h0M373.5 102.1h0M416.1 157.9h0M388.5 182.2h0M431.7 149.9h0M434.6 104.4h0M426.0 119.6h0M441.6 242.7h0M456.6 188.3h0M421.9 139.0h0"/>
<path stroke="#1a1a1a" d="M205.4 261.3h0M157.4 271.3h0M191.5 292.2h0M186.8 313.0h0M396.9 115.6h0M182.0 266.3h0M185.5 290.0h0M168.5 259.3h0"/>
<path stroke="#808080" d="M256.4 236.9h0M186.6 296.4h0M261.8 285.3h0M203.9 261.4h0M248.6 230.5h0M210.6 232.8h0M238.2 266.1h0M243.6 174.4h0M291.5 195.5h0M236.8 280.2h0M316.3 327.5h0M238.8 239.2h0M281.1 258.8h0M304.3 152.7h0M288.5 279.4h0M269.3 268.6h0M224.9 273.5h0M283.8 279.8h0M265.5 229.7h0M294.5 136.4h0M249.8 284.2h0M196.6 269.9h0M269.8 312.1h0M302.7 249.8h0M334.5 153.6h0"/>
<path stroke="#a3f750" d="M372.4 170.9h0M282.0 273.4h0M387.7 141.2h0M264.6 253.2h0M311.1 188.5h0M261.2 272.3h0M364.9 275.1h0M333.1 181.6h0M390.6 225.3h0M327.3 206.2h0M316.5 218.5h0M411.7 178.3h0M387.0 116.3h0M226.4 256.5h0M355.4 198.2h0M275.0 283.5h0M389.1 142.8h0M336.3 276.0h0M259.9 290.6h0M324.6 234.6h0M235.9 276.1h0M355.6 242.0h0M348.2 262.6h0M284.4 235.5h0M353.8 280.3h0M398.5 198.4h0M333.0 240.7h0M445.3 205.9h0M292.7 184.2h0M382.8 100.2h0M320.9 232.2h0M384.5 208.9h0M313.8 170.4h0M369.6 105.2h0M328.1 204.9h0M298.9 239.6h0M240.5 220.9h0M356.2 168.7h0M310.4 279.1h0M283.1 163.5h0M273.1 303.7h0M220.0 277.4h0M297.9 233.3h0M280.8 257.3h0M377.0 164.1h0M380.2 164.6h0M370.9 255.5h0M397.1 248.0h0M334.5 224.2h0M389.2 203.2h0M307.3 183.3h0M352.8 282.3h0M420.9 132.5h0M339.1 195.9h0M385.9 161.5h0M356.3 215.1h0M277.0 228.7h0M371.1 256.7h0M307.8 276.7h0M314.5 295.0h0M339.9 184.8h0M369.3 222.4h0M321.5 169.9h0M382.4 202.6h0M307.5 170.6h0M357.2 151.9h0M346.6 245.3h0M281.1 239.0h0M317.7 238.0h0M331.3 188.5h0M385.1 193.0h0M381.4 184.2h0M340.4 214.2h0M284.2 244.8h0M385.8 143.7h0M334.9 217.5h0M294.5 192.2h0M288.6 231.7h0M309.8 168.7h0M287.0 265.0h0M285.4 177.9h0M349.2 222.3h0M232.5 289.3h0M331.0 188.9h0M400.2 219.5h0M407.5 189.5h0M283.5 214.8h0M338.4 232.5h0M360.3 140.9h0M415.4 111.1h0M309.3 200.5h0M382.6 179.2h0M353.8 208.2h0M438.8 94.4h0M395.7 166.6h0M298.9 274.4h0M268.7 324.8h0M370.6 212.4h0M332.0 202.0h0M298.6 211.4h0M317.0 227.1h0M283.4 278.0h0M306.2 156.4h0M392.4 158.5h0M408.9 131.9h0M396.9 251.4h0M331.4 142.4h0M281.7 300.9h0M305.3 216.7h0M283.5 243.1h0M310.5 157.4h0M284.7 198.3h0M368.6 148.3h0M392.2 220.6h0M338.7 270.9h0M333.0 213.4h0M319.8 263.0h0M327.8 177.0h0M318.8 219.9h0M313.2 161.5h0M360.4 203.6h0M316.4 256.6h0M327.3 162.3h0M301.4 193.1h0M329.7 195.7h0M334.4 257.1h0M307.6 211.8h0M333.3 273.0h0M316.1 232.9h0M267.2 243.4h0M412.7 151.9h0M367.8 174.3h0M303.8 243.2h0M250.1 249.3h0M333.8 246.6h0M346.4 139.1h0M286.4 202.3h0M386.7 166.6h0M353.7 178.2h0M382.4 106.2h0M419.6 153.8h0M405.5 140.2h0M326.6 136.0h0M237.5 272.1h0M353.8 258.3h0M240.8 247.0h0M308.2 206.3h0M281.0 261.7h0M306.6 231.9h0M284.1 288.6h0M248.9 279.7h0M345.8 209.3h0M277.0 207.5h0M339.8 224.0h0M289.3 261.9h0M349.4 216.9h0M383.8 200.7h0M301.1 252.8h0M370.3 217.0h0M304.9 235.4h0M218.1 265.0h0M315.5 256.5h0M325.3 200.9h0M308.6 205.8h0M362.7 143.3h0"/>
<path stroke="#7cc440" d="M425.0 173.6h0M430.9 99.8h0M383.4 152.5h0M393.1 156.7h0M387.0 162.8h0M403.4 159.7h0M433.2 121.9h0M378.6 148.9h0M399.3 223.5h0M391.9 157.7h0M398.7 203.4h0M394.0 205.4h0M370.8 180.1h0M387.8 149.1h0M386.2 176.6h0M407.3 199.2h0M386.5 139.4h0M398.8 134.0h0M429.6 102.7h0M419.6 202.1h0M422.5 168.2h0M421.6 182.4h0M329.6 303.2h0M394.3 219.8h0M407.6 132.0h0M417.7 104.5h0M431.5 191.2h0M358.3 177.7h0M376.5 210.7h0M379.8 187.6h0M420.5 130.0h0M399.1 119.4h0M374.1 242.7h0M393.5 153.9h0M399.1 136.2h0M409.1 127.9h0M452.8 135.0h0M394.1 114.4h0M432.5 96.6h0M410.4 233.4h0M425.3 216.6h0M398.9 227.9h0M400.8 167.1h0M406.3 151.4h0M397.6 182.1h0M397.1 192.0h0M440.9 106.3h0M377.2 172.8h0M399.8 135.1h0M461.2 233.9h0M397.5 134.7h0M394.7 148.8h0M415.7 205.0h0"/>
<path stroke="#4e8528" stroke-width="2.3" d="M434.5 146.8h0M426.0 76.8h0M425.4 177.1h0M419.9 166.0h0M410.4 171.7h0M419.5 231.8h0M399.7 72.8h0M454.4 83.8h0M425.0 220.5h0M425.2 130.8h0M448.3 172.4h0M432.4 149.6h0M412.5 157.4h0M391.6 128.0h0M439.7 181.3h0M397.3 160.6h0M474.5 169.5h0M422.8 252.4h0M414.7 121.5h0M404.7 209.8h0M415.0 179.1h0M431.0 129.2h0M425.5 160.6h0M448.6 195.1h0M429.2 145.1h0M465.1 129.7h0M396.4 81.4h0M415.2 200.6h0M459.0 236.5h0M438.6 183.2h0M425.5 209.5h0M408.1 201.7h0M414.6 103.0h0M451.3 179.3h0M396.1 123.6h0M426.2 216.1h0"/>
<path stroke="#1a1a1a" d="M168.3 269.8h0M169.1 271.7h0M195.9 251.0h0M213.8 241.1h0M217.1 295.9h0M230.6 289.5h0M177.6 309.8h0M187.3 288.8h0M198.4 256.9h0M208.8 276.0h0M220.9 235.9h0"/>
<path stroke="#808080" d="M278.3 240.3h0M290.6 204.5h0M242.4 227.1h0M216.2 260.2h0M176.9 296.8h0M340.3 202.2h0M419.2 111.7h0M408.7 190.1h0M313.2 232.2h0M299.7 182.0h0M247.0 206.8h0M242.7 315.3h0M251.9 264.3h0M248.5 309.5h0M415.0 172.1h0M263.5 254.7h0M232.2 201.2h0M131.9 249.1h0M258.7 263.8h0"/>
<path stroke="#a3f750" d="M322.8 233.5h0M379.5 179.2h0M286.8 254.4h0M346.7 132.9h0M337.1 156.2h0M337.5 178.8h0M351.3 140.8h0M410.8 200.3h0M300.4 217.6h0M356.1 260.0h0M304.4 228.2h0M322.2 151.8h0M237.2 185.4h0M322.7 237.6h0M383.0 255.9h0M276.9 264.2h0M313.4 193.4h0M313.4 161.9h0M398.5 114.3h0M369.9 105.4h0M256.3 213.6h0M362.7 208.9h0M349.8 249.7h0M283.5 293.2h0M354.1 275.6h0M318.0 193.2h0M340.2 135.6h0M378.8 208.9h0M340.2 236.3h0M320.6 187.2h0M350.2 232.7h0M422.1 207.8h0M330.8 226.6h0M387.4 140.4h0M297.6 211.0h0M293.3 290.3h0M429.8 172.3h0M350.8 166.4h0M371.4 178.5h0M350.7 210.5h0M320.3 185.1h0M319.0 156.7h0M377.1 248.2h0M261.5 279.6h0M400.3 210.9h0M373.3 295.5h0M284.7 273.1h0M312.1 229.8h0M418.1 124.6h0M302.2 304.6h0M351.6 155.1h0M300.2 184.0h0M413.2 159.4h0M261.8 207.4h0M361.8 225.5h0M354.8 129.3h0M275.3 214.5h0M364.3 153.4h0M302.4 226.4h0M310.7 249.7h0M372.3 207.7h0M326.2 222.9h0M376.1 165.2h0M267.3 268.6h0M332.2 248.2h0M355.0 242.4h0M359.4 176.3h0M312.0 265.1h0M279.7 177.7h0M342.6 292.9h0M270.6 269.4h0M268.8 233.7h0M293.6 186.8h0M317.0 158.6h0M234.8 275.7h0M252.4 266.6h0M390.5 130.8h0M327.3 190.2h0M262.0 259.1h0M282.2 205.7h0M337.8 139.6h0M287.9 201.7h0M315.5 203.1h0M360.9 136.0h0M315.6 238.6h0M383.0 135.8h0M332.9 202.9h0M258.5 315.2h0M376.7 220.2h0M351.8 215.7h0M283.4 219.7h0M306.4 187.3h0M306.5 285.3h0M294.6 244.1h0M366.4 147.4h0M313.2 272.3h0M276.4 227.1h0M340.4 252.1h0M338.9 222.9h0M318.5 180.8h0M342.3 163.1h0M286.7 256.3h0M303.9 268.1h0M294.2 155.3h0M262.7 185.5h0M291.7 202.2h0M437.4 214.9h0M276.6 233.6h0M332.9 212.4h0M414.3 167.9h0M303.8 208.4h0M284.8 229.3h0M328.6 228.4h0M388.5 157.8h0M396.6 108.8h0M365.5 202.3h0M338.7 202.5h0M311.4 178.3h0M335.7 156.7h0M312.5 236.7h0M379.3 263.9h0M416.6 133.8h0M335.4 267.1h0M307.6 177.2h0M379.6 213.9h0M252.0 179.5h0M368.1 211.2h0M277.3 298.0h0M342.9 139.4h0M348.8 203.3h0M362.9 211.7h0M324.1 219.8h0M386.3 182.3h0M344.4 192.6h0M336.3 187.7h0M244.9 200.9h0M287.0 272.4h0M369.7 182.4h0M308.0 179.7h0M385.9 170.0h0M346.8 161.7h0M279.3 252.8h0M371.6 178.0h0M311.3 298.0h0M310.7 147.0h0M395.8 145.9h0M362.0 181.2h0M181.8 221.9h0M352.7 258.1h0M282.3 265.7h0M317.4 195.4h0M391.2 218.1h0M416.9 186.0h0M402.2 215.4h0M301.5 184.3h0M320.7 235.6h0M326.0 183.8h0M365.5 152.9h0M339.1 167.9h0M334.8 180.7h0M249.3 241.0h0M297.0 171.9h0M299.6 143.4h0"/>
<path stroke="#7cc440" d="M415.6 158.5h0M417.9 152.8h0M389.8 183.9h0M441.0 101.4h0M380.8 192.3h0M410.9 92.8h0M425.6 60.6h0M411.4 197.8h0M390.3 217.0h0M421.7 158.7h0M438.1 173.3h0M438.6 130.9h0M383.4 234.0h0M440.4 158.3h0M425.3 160.1h0M401.5 84.5h0M432.1 139.0h0M432.7 163.2h0M404.7 113.7h0M393.9 232.0h0M420.0 167.4h0M409.5 218.6h0M418.6 174.2h0M447.0 109.0h0M387.6 171.9h0M405.1 183.2h0M408.7 138.4h0M423.6 183.2h0M401.5 140.3h0M433.0 162.2h0M407.2 119.5h0M419.1 121.3h0M394.4 125.5h0M429.8 119.8h0M365.8 111.7h0M387.1 100.9h0M395.9 168.1h0M406.5 155.6h0M418.1 115.3h0M376.2 205.6h0M409.3 210.5h0M398.0 136.4h0M396.4 196.8h0M408.4 192.4h0M375.2 155.3h0M412.0 178.5h0M407.8 110.2h0M416.9 162.6h0M426.1 213.5h0M452.8 233.3h0M367.4 142.5h0M405.4 146.1h0M394.8 114.1h0M433.1 158.5h0M421.1 99.1h0M403.0 136.2h0M424.4 109.1h0M408.3 202.2h0M445.5 127.5h0M416.4 149.6h0M425.7 135.8h0M416.6 160.2h0M406.3 121.0h0M409.7 162.7h0M382.6 221.2h0"/>
<path stroke="#4e8528" stroke-width="2.3" d="M411.3 189.1h0M432.9 48.6h0M399.0 137.6h0M432.4 213.3h0M392.2 134.6h0M452.8 147.3h0M430.8 159.4h0M420.5 160.3h0M430.9 127.4h0M413.5 170.7h0M407.6 134.7h0M412.3 112.9h0M432.4 121.9h0M438.9 151.4h0M408.1 144.8h0M455.1 95.7h0M426.0 162.9h0M422.7 84.2h0M424.7 189.3h0M381.9 145.2h0M406.4 99.3h0M406.9 213.9h0M454.9 100.1h0M424.2 143.3h0M410.3 218.5h0M405.4 192.4h0M409.5 127.3h0M458.3 185.9h0M426.2 186.3h0"/>
<path stroke="#1a1a1a" d="M207.4 240.6h0M182.7 288.2h0M164.4 230.2h0M188.2 249.3h0M198.7 275.2h0"/>
<path stroke="#808080" d="M204.5 211.7h0M374.5 225.3h0M235.4 229.0h0M226.7 282.4h0M293.8 211.5h0M320.3 216.7h0M229.1 274.5h0M362.0 220.0h0M227.6 245.9h0M215.7 229.3h0M220.9 316.0h0M247.2 229.5h0M215.5 244.0h0M208.4 222.3h0M258.1 195.0h0M213.1 241.6h0M392.9 195.4h0M246.7 287.9h0M244.8 336.3h0M415.2 147.9h0M265.3 203.5h0M220.9 268.6h0M251.3 218.0h0M209.0 268.3h0M358.7 165.2h0M405.8 206.7h0M272.4 171.8h0M244.8 258.5h0M235.6 248.8h0"/>
<path stroke="#a3f750" d="M316.8 233.2h0M237.9 214.8h0M271.6 222.8h0M351.9 213.9h0M337.5 181.2h0M386.7 190.8h0M401.4 218.7h0M379.8 240.2h0M276.4 217.4h0M384.6 123.1h0M316.7 193.5h0M390.1 206.1h0M298.1 263.7h0M389.1 121.6h0M404.8 151.7h0M329.3 324.5h0M327.5 214.4h0M259.3 258.5h0M259.7 274.2h0M388.4 164.6h0M295.3 198.3h0M373.4 230.4h0M352.1 139.1h0M321.3 219.8h0M365.4 159.0h0M351.5 220.3h0M385.1 141.2h0M390.8 103.3h0M337.5 224.3h0M333.9 230.0h0M310.5 227.1h0M266.0 262.8h0M383.2 216.1h0M265.9 313.8h0M331.4 202.0h0M322.9 163.6h0M300.2 193.6h0M340.1 224.2h0M280.7 268.5h0M363.8 256.0h0M295.9 196.1h0M294.0 287.4h0M337.1 194.3h0M346.1 214.6h0M292.4 252.4h0M333.8 218.0h0M343.1 264.3h0M369.8 228.8h0M300.5 281.6h0M332.3 160.4h0M425.4 197.2h0M333.5 206.9h0M318.6 185.3h0M382.1 235.5h0M342.6 191.5h0M388.1 229.1h0M315.1 125.5h0M373.2 154.3h0M350.5 226.7h0M306.4 274.2h0M334.2 144.2h0M302.6 159.2h0M347.6 196.6h0M328.7 197.6h0M322.7 232.7h0M339.4 211.5h0M321.0 264.4h0M333.4 266.0h0M235.7 242.4h0M335.4 149.1h0M339.0 166.9h0M333.5 165.1h0M277.8 222.1h0M318.8 193.6h0M310.2 218.5h0M334.5 251.5h0M341.1 207.7h0M337.3 193.9h0M300.4 290.1h0M273.8 211.5h0M342.3 246.1h0M333.1 255.6h0M267.3 270.4h0M333.5 255.0h0M348.0 200.6h0M300.8 202.4h0M346.9 260.8h0M336.2 267.0h0M286.2 199.6h0M365.0 263.2h0M263.9 256.1h0M307.8 236.4h0M280.6 228.6h0M318.0 217.1h0M271.1 326.1h0M269.7 202.7h0M276.6 249.3h0M358.5 232.6h0M400.6 209.7h0M281.5 221.0h0M329.0 162.1h0M290.5 234.3h0M324.0 205.3h0M343.6 213.7h0M298.0 212.7h0M333.5 180.7h0M331.2 298.6h0M308.3 323.7h0M330.4 238.1h0M321.0 274.8h0M427.6 143.2h0M274.8 267.1h0M306.1 229.6h0M330.9 216.0h0M321.8 188.4h0M321.0 250.7h0M331.5 196.3h0M403.6 280.6h0M237.4 213.7h0M294.2 237.6h0M297.4 300.3h0M346.2 145.0h0M368.1 163.0h0M327.5 285.2h0M323.8 190.5h0M265.8 222.2h0M295.3 259.1h0M318.1 179.7h0M360.7 225.3h0M326.9 136.9h0M373.7 209.4h0M347.9 165.9h0M301.7 247.6h0M223.1 204.3h0M313.3 264.0h0M226.6 285.4h0M375.7 179.9h0M362.0 218.9h0M267.8 293.7h0M336.5 196.6h0M265.9 292.3h0M389.9 229.4h0M315.9 244.3h0M272.1 239.9h0M303.1 288.2h0M325.8 243.5h0M296.3 177.8h0M298.5 228.9h0M283.3 266.0h0M380.2 214.8h0M278.8 291.8h0M323.6 205.5h0M319.0 228.7h0M364.4 229.6h0M386.9 267.8h0M329.9 133.2h0M303.3 226.3h0M329.8 187.2h0M264.1 197.2h0M247.4 236.7h0M296.8 263.6h0M357.7 213.5h0M258.9 277.4h0M323.9 237.7h0M348.5 195.8h0M268.5 173.9h0"/>
<path stroke="#7cc440" d="M418.3 104.4h0M369.6 194.6h0M392.3 216.8h0M422.6 142.3h0M412.2 200.7h0M434.9 186.6h0M402.0 103.6h0M410.3 136.5h0M374.9 135.3h0M408.7 197.3h0M430.7 210.0h0M414.8 207.0h0M403.5 173.0h0M441.2 80.0h0M401.3 223.6h0M427.2 161.9h0M405.4 332.8h0M439.2 198.3h0M464.5 201.5h0M395.0 214.1h0M353.3 143.6h0M389.5 119.8h0M438.9 211.6h0M406.3 195.2h0M412.0 116.1h0M413.7 191.1h0M397.1 188.3h0M406.8 216.9h0M379.2 143.4h0M386.9 134.5h0M407.8 183.5h0M421.6 117.4h0M446.0 197.3h0M390.3 207.1h0M416.7 190.4h0M430.2 113.0h0M415.3 127.6h0M412.2 172.8h0M436.6 196.8h0M437.1 166.1h0M434.6 99.1h0M424.4 231.9h0M434.3 267.6h0M371.0 105.0h0M445.5 173.5h0M391.1 95.3h0M364.9 178.5h0M381.4 177.5h0M390.2 214.7h0M404.8 160.5h0M410.4 100.2h0M366.9 129.4h0M361.3 175.4h0M393.3 200.0h0M425.8 167.8h0M423.3 93.7h0M414.0 191.7h0M359.3 214.5h0M411.3 103.4h0M439.6 118.2h0M407.3 114.8h0M369.2 185.3h0M437.5 86.7h0M431.7 97.0h0"/>
<path stroke="#4e8528" stroke-width="2.3" d="M438.9 112.8h0M427.0 138.8h0M381.5 136.6h0M410.6 157.8h0M389.5 190.7h0M441.6 94.4h0M409.6 235.1h0M385.7 212.2h0M462.9 168.2h0M410.7 153.5h0M406.4 172.9h0M395.8 187.6h0M393.5 200.9h0M449.5 168.5h0M442.7 159.8h0M396.1 195.1h0M384.9 103.2h0M409.4 185.4h0M419.0 137.9h0M429.2 150.0h0M401.3 120.4h0M453.2 164.3h0M430.3 215.0h0"/>
<path stroke="#1a1a1a" d="M166.3 264.9h0M245.1 233.2h0M222.5 254.4h0"/>
<path stroke="#808080" d="M250.2 244.6h0M237.7 328.6h0M272.3 240.6h0M277.4 306.3h0M362.0 196.5h0M239.0 283.2h0M275.8 224.9h0M274.7 230.0h0M264.9 197.8h0M247.7 300.6h0M276.5 157.6h0M260.5 273.4h0M223.9 243.9h0M329.9 226.4h0M223.8 252.4h0M253.5 277.3h0M187.3 275.7h0M265.0 266.0h0M206.9 278.9h0M275.5 202.9h0M331.8 346.8h0M282.6 175.8h0M239.3 291.7h0M175.8 285.7h0M423.8 162.4h0"/>
<path stroke="#a3f750" d="M287.1 209.7h0M312.5 271.0h0M368.7 217.8h0M344.1 233.3h0M328.3 298.6h0M356.4 143.4h0M277.0 208.5h0M364.2 204.4h0M325.9 219.5h0M340.2 155.3h0M357.5 220.4h0M306.7 281.5h0M348.7 118.6h0M369.4 223.6h0M297.0 211.9h0M268.2 266.5h0M375.8 164.4h0M234.1 247.7h0M355.7 151.6h0M215.2 236.1h0M348.9 157.5h0M332.8 222.5h0M324.0 300.1h0M341.2 177.8h0M290.3 168.6h0M318.5 255.3h0M285.9 269.6h0M433.7 182.8h0M325.3 243.2h0M351.8 202.4h0M328.1 201.7h0M357.2 197.5h0M395.3 228.0h0M310.0 188.6h0M357.8 203.9h0M426.0 99.7h0M382.4 174.4h0M373.7 205.7h0M305.3 178.6h0M357.9 165.1h0M253.1 250.0h0M326.5 154.0h0M335.2 188.0h0M317.1 232.8h0M349.5 229.4h0M349.9 244.6h0M355.8 246.4h0M345.9 194.3h0M333.1 182.2h0M288.0 298.7h0M328.0 161.5h0M325.4 237.6h0M286.0 215.9h0M345.5 190.1h0M413.0 197.8h0M345.2 201.2h0M337.8 199.7h0M343.4 230.2h0M256.7 255.0h0M394.2 168.6h0M330.5 224.7h0M349.4 152.9h0M365.2 236.2h0M356.5 206.2h0M260.6 301.2h0M331.0 118.2h0M297.3 222.8h0M224.0 225.9h0M343.2 261.2h0M387.3 148.4h0M365.0 157.2h0M363.3 219.0h0M304.8 166.0h0M409.9 217.7h0M351.5 238.2h0M326.5 255.2h0M368.3 236.1h0M280.6 231.7h0M313.2 162.1h0M380.3 221.5h0M328.1 271.9h0M323.9 167.2h0M336.3 257.1h0M315.1 206.0h0M269.4 200.5h0M357.3 203.8h0M282.2 220.0h0M384.4 176.4h0M305.1 204.0h0M273.4 262.3h0M323.8 235.3h0M269.6 244.8h0M308.0 166.6h0M388.0 180.9h0M256.3 192.7h0M366.8 178.9h0M398.4 49.0h0M323.5 218.0h0M319.8 164.9h0M301.5 234.1h0M348.2 145.9h0M274.8 272.4h0M187.0 228.9h0M311.9 248.5h0M434.8 208.2h0M288.9 211.5h0M315.6 161.8h0M349.0 265.4h0M237.4 248.8h0M266.1 244.9h0M434.8 184.6h0M377.5 164.3h0M281.8 224.2h0M313.5 228.6h0M221.5 287.5h0M310.2 180.6h0M350.8 162.0h0M390.4 225.3h0M354.9 108.4h0M281.2 290.1h0M279.8 155.8h0M298.9 239.4h0M351.9 229.0h0M327.8 143.7h0M318.4 212.0h0M328.9 217.3h0M274.3 272.3h0M271.2 248.1h0M405.5 159.9h0M377.2 162.9h0M313.2 190.6h0M307.2 204.0h0M288.3 278.2h0M328.1 300.7h0M390.0 248.2h0M307.3 255.6h0M369.9 209.5h0M331.0 230.9h0M315.9 252.8h0M366.9 233.0h0M367.8 159.3h0M319.4 201.6h0M303.1 182.3h0M342.3 184.5h0M267.9 279.4h0M274.5 176.7h0M288.4 235.7h0M314.2 270.6h0M296.9 212.5h0M318.7 236.0h0M322.4 201.5h0M389.3 159.4h0M384.1 113.3h0M393.9 155.3h0M355.5 227.8h0M351.3 144.1h0M346.3 244.3h0M312.8 234.9h0M307.7 200.2h0M250.0 301.8h0M314.6 314.8h0M285.6 263.7h0M398.9 163.0h0M382.6 196.1h0M273.5 309.5h0M294.8 186.2h0M300.3 197.9h0M258.3 233.7h0M323.0 257.6h0M334.3 176.4h0"/>
<path stroke="#7cc440" d="M401.2 230.6h0M457.5 199.7h0M403.8 210.8h0M390.4 173.3h0M410.2 170.9h0M434.8 161.3h0M375.4 283.1h0M436.1 132.4h0M429.4 214.5h0M408.5 150.5h0M395.2 236.0h0M401.6 155.2h0M416.6 197.3h0M414.6 207.1h0M405.3 207.6h0M418.8 180.9h0M449.0 222.8h0M407.3 208.8h0M381.6 146.5h0M433.8 169.1h0M428.9 208.6h0M398.5 216.6h0M423.2 181.3h0M400.4 155.9h0M424.1 189.3h0M411.7 233.6h0M423.3 108.7h0M406.6 187.1h0M369.4 139.4h0M425.5 131.5h0M397.6 210.0h0M439.9 171.7h0M420.3 81.7h0M447.6 186.3h0M427.3 90.7h0M387.6 218.5h0M435.4 114.3h0M432.9 204.3h0M410.5 88.5h0M422.6 143.2h0M423.5 140.7h0M391.8 224.9h0M420.9 96.6h0M492.0 185.9h0M391.3 191.2h0M438.2 136.2h0M415.3 113.5h0M386.9 228.9h0M436.0 126.2h0M409.1 264.8h0M409.4 216.2h0M446.7 213.6h0M404.9 88.9h0M426.4 129.9h0M417.3 142.7h0M445.1 186.2h0M425.5 152.5h0M401.3 189.0h0M373.4 189.5h0M402.8 186.8h0M421.9 145.3h0M407.2 124.4h0M387.4 232.5h0"/>
<path stroke="#4e8528" stroke-width="2.3" d="M418.6 91.0h0M425.9 166.0h0M407.0 103.3h0M409.9 128.6h0M399.0 134.4h0M438.9 160.1h0M364.6 238.7h0M451.0 120.7h0M435.5 122.0h0M366.9 188.3h0M402.6 162.9h0M391.6 257.6h0M400.6 121.1h0M431.9 135.8h0M367.6 136.1h0M423.9 151.9h0M438.1 81.2h0M429.4 211.7h0M414.2 199.4h0M416.6 101.8h0M422.8 115.8h0M423.6 166.7h0M414.3 115.3h0M401.2 100.6h0M412.4 163.4h0M414.5 160.2h0"/>
<path stroke="#1a1a1a" d="M164.8 261.9h0M226.6 266.6h0M187.9 302.7h0M225.2 260.6h0M145.4 368.6h0M190.2 308.8h0M201.8 320.4h0M154.9 375.5h0M205.9 242.3h0"/>
<path stroke="#808080" d="M247.9 244.7h0M360.0 230.8h0M409.9 163.2h0M260.1 206.6h0M244.6 290.2h0M221.5 300.9h0M251.9 275.8h0M325.3 253.7h0M261.1 282.6h0M254.0 206.9h0M315.6 265.6h0M228.3 255.9h0M247.4 224.7h0M208.8 249.1h0M288.6 211.9h0M300.9 216.2h0M379.3 103.7h0M297.2 186.3h0M315.6 231.4h0M171.8 228.1h0M243.1 206.3h0M303.7 240.3h0M355.1 129.3h0M234.7 221.8h0M425.4 190.4h0M360.2 158.2h0"/>
<path stroke="#a3f750" d="M340.2 176.0h0M351.3 157.0h0M360.2 202.7h0M302.2 139.5h0M292.2 303.6h0M447.4 152.9h0M269.8 256.6h0M354.5 207.8h0M367.3 162.8h0M363.5 200.1h0M275.0 211.7h0M256.7 216.0h0M303.2 249.3h0M361.8 250.1h0M317.6 192.6h0M328.4 157.7h0M321.6 204.8h0M393.5 187.2h0M327.1 212.8h0M371.3 196.1h0M356.5 193.1h0M311.9 242.9h0M323.0 235.4h0M355.8 228.8h0M374.4 168.3h0M318.4 188.5h0M356.3 149.5h0M373.7 161.0h0M359.4 189.4h0M257.0 205.7h0M387.8 154.3h0M333.0 263.3h0M347.8 179.9h0M349.9 184.5h0M315.5 183.5h0M290.1 281.0h0M261.6 257.4h0M325.5 219.9h0M356.2 215.4h0M333.3 214.0h0M425.4 205.0h0M357.3 277.3h0M357.1 262.3h0M351.7 233.1h0M370.0 175.7h0M350.4 230.9h0M370.1 252.3h0M301.5 236.4h0M356.0 140.2h0M314.8 174.3h0M280.3 178.9h0M341.9 221.2h0M378.2 184.7h0M359.7 210.0h0M317.6 195.9h0M367.2 122.5h0M384.5 263.4h0M349.8 136.3h0M416.4 205.7h0M319.7 217.7h0M335.5 144.5h0M317.2 155.0h0M299.2 264.6h0M302.3 187.7h0M276.6 208.6h0M255.8 218.5h0M366.4 176.9h0M363.7 187.7h0M307.4 179.8h0M310.4 225.5h0M361.9 144.3h0M392.2 214.4h0M367.4 236.1h0M285.6 253.3h0M385.1 203.9h0M244.2 270.3h0M225.5 263.1h0M363.2 252.8h0M271.3 253.6h0M347.5 196.4h0M247.6 270.3h0M357.1 204.9h0M279.4 295.1h0M358.5 103.9h0M420.6 141.9h0M343.2 158.8h0M334.2 166.9h0M293.4 194.0h0M295.4 290.5h0M279.9 194.5h0M231.0 208.5h0M338.9 233.6h0M214.7 244.5h0M330.8 311.3h0M300.1 251.8h0M360.2 220.0h0M339.8 218.5h0M285.2 199.3h0M330.6 206.2h0M381.9 144.9h0M380.6 187.4h0M352.3 246.3h0M303.7 197.6h0M286.6 269.9h0M390.6 179.8h0M332.6 191.1h0M330.7 186.1h0M287.7 171.2h0M389.9 103.4h0M321.2 229.4h0M201.0 223.9h0M248.0 244.8h0M319.8 273.1h0M379.7 152.9h0M250.9 215.7h0M222.9 263.2h0M291.3 192.0h0M330.6 254.9h0M246.0 336.6h0M307.7 206.7h0M332.0 263.5h0M328.8 235.7h0M354.2 181.4h0M316.9 238.4h0M306.5 186.0h0M288.4 272.7h0M249.2 228.8h0M368.9 130.0h0M328.5 199.5h0M263.7 213.0h0M278.4 187.4h0M349.7 206.5h0M355.4 240.1h0M338.4 252.9h0M337.5 248.6h0M381.7 189.7h0M357.1 228.6h0M360.3 263.8h0M338.8 143.0h0M368.5 199.7h0M328.8 246.4h0M320.4 215.0h0M291.7 215.8h0M397.7 233.0h0M330.6 214.6h0M371.3 165.4h0M279.1 202.5h0M339.7 202.8h0M363.9 191.3h0M321.8 225.0h0M376.7 223.4h0M368.2 259.8h0M312.4 271.1h0M353.0 234.9h0M330.5 196.4h0M388.7 154.1h0M424.4 123.4h0M344.7 227.6h0M260.4 317.3h0M313.5 160.9h0M295.9 198.3h0M380.8 158.6h0M372.7 200.4h0M302.3 229.9h0M348.0 201.6h0M251.8 222.7h0M343.0 271.0h0M340.9 242.4h0M381.5 276.1h0M279.3 285.6h0M368.7 257.3h0M352.8 217.8h0M284.0 290.8h0"/>
<path stroke="#7cc440" d="M422.3 132.5h0M395.0 214.4h0M378.4 185.8h0M426.8 142.5h0M438.7 141.6h0M395.3 144.6h0M386.7 133.9h0M422.0 179.4h0M387.8 135.2h0M360.2 166.2h0M442.7 105.5h0M459.8 229.1h0M424.9 207.6h0M433.5 196.9h0M418.2 136.3h0M415.2 83.7h0M419.0 197.4h0M429.2 201.2h0M396.1 199.7h0M366.9 167.2h0M390.7 116.5h0M352.3 187.7h0M404.7 236.9h0M437.8 144.6h0M438.1 152.0h0M403.4 165.7h0M383.1 162.0h0M424.8 175.7h0M383.8 196.4h0M452.2 185.9h0M386.7 173.4h0M408.4 183.7h0M397.7 104.6h0M473.5 180.8h0M433.2 118.0h0M366.0 150.1h0M379.6 139.7h0M457.1 100.8h0M400.8 184.5h0M398.2 103.8h0M386.3 181.9h0M392.9 120.2h0M409.8 178.9h0M384.5 205.3h0M434.9 151.7h0M399.3 172.2h0M438.2 193.6h0M411.4 142.3h0M398.5 172.5h0M410.9 127.2h0M433.9 153.3h0M428.1 210.1h0M401.9 112.6h0M464.1 204.5h0M420.3 160.1h0"/>
<path stroke="#4e8528" stroke-width="2.3" d="M428.0 189.2h0M420.8 122.3h0M428.6 171.3h0M430.0 113.1h0M410.6 175.7h0M431.7 187.7h0M386.0 258.9h0M420.3 172.9h0M384.7 181.7h0M411.1 76.3h0M421.0 154.5h0M447.7 180.2h0M431.8 137.7h0M424.6 101.9h0M374.5 116.6h0M408.9 133.2h0M445.4 197.6h0M427.0 117.5h0M462.1 181.8h0M424.5 58.0h0M421.6 173.6h0M410.6 120.7h0M441.3 189.6h0M417.9 94.1h0"/>
<path stroke="#1a1a1a" d="M173.4 297.2h0M181.3 300.3h0M195.2 285.0h0M191.3 294.0h0M162.2 238.0h0M163.7 249.0h0"/>
<path stroke="#808080" d="M234.5 300.4h0M238.1 241.4h0M232.6 224.1h0M352.3 218.1h0M234.0 217.5h0M253.1 371.9h0M262.5 210.3h0M294.3 247.3h0M233.5 236.3h0M422.7 196.6h0M230.0 269.3h0M221.0 200.9h0M250.0 275.0h0M340.7 182.2h0M284.2 209.9h0M314.3 222.8h0M285.4 233.5h0M214.6 226.2h0M281.0 218.0h0M289.4 241.0h0M315.4 283.0h0M243.0 241.3h0"/>
<path stroke="#a3f750" d="M329.2 206.3h0M289.6 251.5h0M331.4 136.0h0M390.8 228.5h0M295.7 170.7h0M319.3 221.3h0M343.0 270.8h0M338.5 165.3h0M311.1 197.0h0M316.4 219.1h0M346.8 212.1h0M398.4 203.5h0M221.2 295.5h0M402.7 170.7h0M388.2 240.3h0M436.1 170.9h0M388.6 206.6h0M362.7 256.6h0M347.4 237.2h0M330.4 164.1h0M346.5 236.2h0M339.8 147.9h0M311.0 206.4h0M357.7 140.3h0M339.7 253.7h0M294.0 263.9h0M351.9 252.3h0M312.0 234.4h0M294.3 146.0h0M274.1 307.5h0M397.6 236.1h0M332.6 168.1h0M294.9 261.9h0M254.8 221.7h0M374.1 206.0h0M328.7 158.9h0M411.4 197.8h0M280.6 174.2h0M380.2 153.7h0M419.0 228.1h0M322.3 189.8h0M230.4 230.0h0M266.3 237.5h0M262.1 239.9h0M420.9 227.4h0M364.7 152.0h0M347.2 221.0h0M291.4 233.0h0M392.1 149.7h0M316.1 308.3h0M309.2 213.9h0M351.3 207.2h0M320.3 208.4h0M375.8 196.6h0M302.3 269.1h0M353.1 205.1h0M374.4 183.3h0M372.9 256.6h0M251.9 275.1h0M288.9 288.4h0M363.9 214.7h0M389.7 137.9h0M234.2 223.2h0M277.4 217.3h0M376.9 201.1h0M303.8 230.8h0M370.0 225.3h0M242.2 316.4h0M302.8 167.9h0M352.7 218.7h0M299.1 191.6h0M344.2 230.1h0M302.0 273.4h0M323.1 244.3h0M314.1 231.5h0M344.8 221.2h0M329.1 165.4h0M347.4 156.5h0M396.8 207.6h0M325.0 152.6h0M300.0 229.7h0M316.1 200.3h0M246.2 264.3h0M365.4 181.6h0M301.4 254.7h0M394.1 158.7h0M337.7 159.8h0M329.6 235.3h0M329.6 185.7h0M378.2 230.2h0M328.0 181.9h0M302.8 224.9h0M325.3 236.7h0M301.2 200.0h0M290.9 295.8h0M259.1 192.3h0M264.4 194.6h0M338.5 151.6h0M362.8 177.8h0M347.0 256.3h0M382.0 222.5h0M323.8 146.6h0M325.5 171.8h0M297.7 294.5h0M292.2 220.3h0M350.5 207.9h0M332.6 158.2h0M265.5 285.7h0M312.0 199.2h0M383.0 233.0h0M292.1 272.6h0M304.2 126.3h0M312.0 178.2h0M232.9 281.5h0M332.8 163.6h0M353.1 186.5h0M355.1 169.1h0M369.7 140.5h0M326.8 169.5h0M358.5 242.7h0M291.9 296.7h0M277.8 227.0h0M395.7 84.2h0M354.8 158.8h0M293.5 265.8h0M412.0 222.4h0M344.2 238.9h0M252.4 180.5h0M289.8 227.0h0M304.5 262.8h0M259.3 228.3h0M319.8 176.9h0M303.7 235.4h0M260.6 288.1h0M403.1 175.6h0M368.8 207.8h0M384.6 242.8h0M425.1 220.8h0M357.4 231.0h0M332.3 226.3h0M248.6 255.9h0M306.7 165.2h0M339.9 209.8h0M217.8 201.6h0M213.4 237.3h0M272.8 280.1h0M327.2 169.0h0M338.1 147.7h0M316.0 187.5h0M319.2 285.4h0M366.5 197.4h0M387.2 196.1h0M234.7 242.0h0M323.9 240.9h0M292.9 207.0h0M290.0 206.1h0M343.2 202.7h0M322.2 232.9h0M287.6 277.4h0M224.8 233.9h0M261.3 217.3h0M377.5 120.4h0M313.7 236.9h0M261.7 265.5h0M315.3 145.8h0M339.4 274.8h0M348.8 176.5h0M297.2 234.9h0M277.5 301.9h0M367.8 239.8h0M309.2 200.3h0M284.7 227.6h0M296.1 133.7h0M323.9 270.0h0M291.1 298.6h0M278.5 257.3h0M318.6 304.0h0"/>
<path stroke="#7cc440" d="M448.2 174.2h0M381.8 163.3h0M411.3 162.5h0M361.3 212.1h0M398.2 202.4h0M409.0 111.3h0M440.5 129.1h0M382.4 207.5h0M394.2 232.4h0M421.8 122.3h0M422.6 146.4h0M386.9 250.2h0M419.3 206.3h0M425.9 147.9h0M422.5 191.2h0M406.7 192.0h0M410.5 62.9h0M395.9 210.5h0M389.3 95.0h0M440.8 188.9h0M443.3 121.7h0M405.0 120.6h0M373.3 128.7h0M382.6 111.5h0M416.2 190.2h0M396.8 150.6h0M402.2 109.4h0M425.7 206.3h0M396.5 184.9h0M418.3 190.1h0M421.8 90.2h0M375.9 209.1h0M398.2 185.7h0M394.8 161.4h0M419.0 172.7h0M471.0 146.9h0M393.6 173.8h0M388.7 234.9h0M410.2 108.9h0M400.1 132.1h0M414.2 102.0h0M355.8 255.5h0M405.4 146.0h0M383.0 97.4h0M413.3 162.2h0M399.1 111.4h0M393.9 146.8h0M399.7 107.8h0M398.3 118.0h0M396.6 141.5h0M441.5 126.1h0M430.5 177.2h0M361.1 209.6h0M419.6 205.5h0M409.1 204.0h0M419.6 183.2h0M389.1 241.4h0M399.2 233.8h0"/>
<path stroke="#4e8528" stroke-width="2.3" d="M431.3 76.1h0M411.5 97.0h0M455.3 165.5h0M426.4 127.2h0M426.9 165.6h0M419.9 88.4h0M429.5 157.9h0M404.1 97.4h0M440.4 120.2h0M441.0 199.9h0M420.0 113.3h0M413.8 139.6h0M417.7 147.3h0M422.2 103.6h0M447.4 130.3h0M419.9 71.5h0M414.1 219.8h0M375.3 181.5h0M436.1 154.8h0M424.5 204.1h0M420.1 188.5h0M438.1 87.2h0M422.4 164.2h0M412.6 104.1h0"/>
<path stroke="#1a1a1a" d="M165.1 269.6h0M298.0 196.8h0M168.8 267.5h0M167.5 244.6h0M150.3 257.8h0M288.9 218.8h0M153.6 250.1h0M208.2 280.5h0M201.2 275.5h0M187.6 289.1h0M214.0 254.5h0M192.5 288.3h0M184.7 261.8h0M171.0 271.5h0M188.1 299.6h0"/>
<path stroke="#808080" d="M252.7 250.2h0M278.8 203.5h0M241.3 235.5h0M276.6 229.7h0M327.9 232.2h0M210.7 202.9h0M295.8 255.5h0M224.0 276.5h0M245.4 293.2h0M239.6 261.8h0M237.2 235.5h0M202.2 233.7h0M204.4 296.3h0M227.1 289.9h0M225.1 301.1h0M295.8 300.2h0M245.2 224.8h0M262.0 200.7h0M212.6 219.1h0M270.4 250.2h0M246.5 271.8h0M269.8 251.5h0M266.0 267.5h0M297.7 281.7h0"/>
<path stroke="#a3f750" d="M304.8 299.9h0M404.5 189.8h0M265.9 238.1h0M301.5 201.3h0M283.6 199.8h0M335.1 206.1h0M378.6 237.2h0M380.8 188.1h0M320.4 236.8h0M309.3 211.8h0M320.1 279.4h0M249.2 207.7h0M330.5 213.6h0M342.3 225.9h0M242.3 283.5h0M266.8 240.5h0M367.9 141.5h0M350.5 205.3h0M290.2 222.0h0M318.7 244.5h0M366.3 237.4h0M294.4 245.6h0M308.4 264.5h0M278.4 254.5h0M328.1 181.3h0M373.9 192.4h0M363.0 147.6h0M300.5 275.2h0M302.2 224.6h0M341.3 187.8h0M329.4 301.3h0M336.5 220.2h0M244.6 221.5h0M333.1 266.3h0M295.2 214.6h0M345.8 176.2h0M296.1 188.9h0M293.5 184.6h0M341.1 241.6h0M347.7 211.9h0M304.3 209.8h0M382.2 171.5h0M295.1 184.4h0M304.5 241.5h0M344.1 230.9h0M315.1 178.9h0M376.0 189.5h0M367.8 152.2h0M345.7 221.1h0M296.4 293.4h0M296.9 172.8h0M361.5 214.7h0M345.2 230.2h0M315.5 209.8h0M289.3 176.6h0M407.8 94.2h0M311.1 258.9h0M377.4 204.5h0M376.2 206.1h0M250.1 246.7h0M302.6 210.1h0M361.1 243.5h0M328.4 204.7h0M338.0 221.4h0M311.9 314.1h0M256.9 278.5h0M274.1 250.2h0M247.4 294.8h0M296.2 161.2h0M314.4 266.6h0M365.6 197.5h0M312.7 232.5h0M351.0 123.4h0M374.9 153.6h0M296.7 242.5h0M314.6 176.4h0M318.3 217.4h0M305.5 187.3h0M365.2 146.2h0M388.3 225.9h0M286.5 254.8h0M281.0 210.9h0M305.1 183.5h0M380.3 196.3h0M345.1 269.2h0M366.9 133.3h0M350.6 201.6h0M385.1 227.7h0M405.6 176.5h0M382.0 151.1h0M274.1 260.9h0M349.7 251.5h0M330.7 148.0h0M423.2 216.3h0M408.9 192.5h0M387.1 137.3h0M302.5 287.4h0M323.0 188.4h0M293.7 277.1h0M312.8 216.1h0M312.3 234.8h0M296.6 244.1h0M403.8 137.7h0M362.2 187.0h0M324.7 204.5h0M314.2 201.2h0M306.3 206.5h0M275.1 222.1h0M321.0 201.4h0M335.2 180.7h0M329.7 171.5h0M361.3 151.7h0M316.4 189.4h0M341.3 209.7h0M364.5 200.8h0M371.1 145.5h0M284.1 217.7h0M321.1 270.2h0M270.4 285.5h0M305.3 169.2h0M336.8 174.3h0M306.2 177.0h0M337.5 264.8h0M273.3 259.3h0M310.7 181.5h0M377.7 156.8h0M345.5 223.4h0M328.5 142.0h0M362.7 206.6h0M368.8 212.6h0M372.7 148.4h0M363.3 216.9h0M332.4 310.7h0M241.0 198.6h0M411.5 161.4h0M295.1 251.9h0M337.6 202.4h0M277.9 300.6h0M295.1 260.6h0M329.9 111.4h0M351.1 258.8h0M340.5 202.9h0M387.5 167.1h0M396.8 182.9h0M314.5 165.6h0M347.0 278.2h0M234.1 232.9h0M334.9 185.6h0M346.7 243.9h0M386.6 210.0h0M356.5 155.0h0M246.0 265.4h0M229.8 210.3h0M385.3 105.5h0M302.0 220.2h0M322.7 216.6h0M369.0 199.1h0M357.2 176.6h0M343.5 236.3h0M363.4 133.1h0M356.7 116.6h0M299.5 292.7h0"/>
<path stroke="#7cc440" d="M393.0 178.3h0M395.3 210.9h0M387.2 137.1h0M413.2 98.2h0M438.9 219.3h0M448.1 141.2h0M420.1 127.8h0M440.0 190.6h0M413.0 246.6h0M407.4 228.0h0M396.2 135.5h0M402.6 149.8h0M409.1 109.7h0M408.2 161.1h0M381.4 158.4h0M378.0 252.3h0M385.7 177.6h0M420.6 165.3h0M370.7 176.7h0M417.7 99.1h0M392.3 111.0h0M348.9 249.0h0M401.0 182.2h0M411.6 119.0h0M403.9 159.9h0M418.2 175.4h0M427.5 91.7h0M454.8 178.0h0M416.9 150.3h0M430.2 157.8h0M402.8 157.7h0M391.4 109.6h0M401.9 148.2h0M376.6 225.7h0M434.0 152.3h0M412.9 111.0h0M412.9 210.7h0M423.9 202.5h0M384.1 168.5h0M428.9 120.1h0M442.9 198.7h0M436.7 210.7h0M404.2 167.6h0M406.7 195.4h0M363.9 186.2h0M420.8 176.1h0M474.6 123.3h0M396.2 147.8h0M403.1 153.4h0M398.5 234.1h0M427.5 82.0h0M379.7 235.4h0M426.2 157.2h0M389.6 236.1h0M412.0 168.6h0M450.5 173.0h0M436.2 137.2h0M413.6 84.6h0M393.4 148.7h0M420.2 227.4h0M436.6 120.3h0M405.8 187.3h0M409.8 115.5h0"/>
<path stroke="#4e8528" stroke-width="2.3" d="M453.2 199.1h0M411.4 169.7h0M446.7 153.2h0M414.2 162.5h0M432.1 160.1h0M365.4 147.9h0M453.2 159.1h0M473.2 236.9h0M416.4 139.4h0M410.5 178.1h0M418.0 125.1h0M395.6 114.9h0M438.4 191.6h0M409.0 129.6h0M404.6 60.1h0M441.0 95.7h0M412.8 201.9h0M435.0 152.3h0M405.7 157.2h0M408.9 123.4h0M438.6 95.5h0M436.1 160.5h0M380.7 121.4h0"/>
<path stroke="#1a1a1a" d="M182.9 255.9h0M186.2 242.6h0M185.4 226.8h0M197.5 267.8h0"/>
<path stroke="#808080" d="M277.3 177.3h0M192.2 312.4h0M245.1 248.8h0M245.7 210.3h0M337.4 200.7h0M311.2 258.3h0M244.2 298.1h0M245.2 198.4h0M333.1 161.5h0M259.9 237.0h0M227.7 275.7h0M213.8 219.4h0M256.0 307.0h0M268.8 205.8h0M244.1 259.6h0M227.7 229.6h0M228.1 215.0h0M412.6 194.7h0M251.1 303.2h0M219.4 272.2h0M155.0 243.5h0M266.3 209.0h0M248.0 226.4h0M426.9 136.0h0M220.7 230.5h0M241.8 298.3h0M268.5 270.6h0M254.4 272.4h0M324.6 296.6h0M212.6 274.2h0M410.1 161.8h0M416.6 101.0h0"/>
<path stroke="#a3f750" d="M365.1 232.9h0M279.6 304.4h0M361.1 264.2h0M428.8 195.2h0M389.8 158.5h0M361.3 96.1h0M350.3 147.1h0M411.6 140.2h0M355.6 151.1h0M352.7 149.2h0M345.5 196.9h0M263.6 169.7h0M371.4 186.3h0M318.4 293.8h0M373.8 298.4h0M289.1 185.5h0M313.4 256.0h0M288.4 194.5h0M261.5 218.6h0M429.7 167.5h0M382.6 174.8h0M351.5 292.0h0M336.3 175.6h0M324.7 183.9h0M364.0 102.6h0M344.8 200.1h0M410.1 131.4h0M420.6 173.5h0M297.1 250.3h0M330.7 195.0h0M359.0 221.4h0M329.0 194.8h0M310.2 196.0h0M320.1 211.0h0M292.2 245.7h0M343.1 120.1h0M260.6 247.4h0M311.0 206.2h0M260.4 197.6h0M352.0 129.8h0M350.7 209.6h0M383.0 183.8h0M306.3 276.0h0M334.5 183.1h0M390.9 141.3h0M368.8 146.4h0M354.6 256.2h0M316.8 214.2h0M313.3 240.1h0M330.5 202.3h0M351.5 228.8h0M266.6 198.1h0M357.5 221.0h0M368.0 146.4h0M336.3 259.0h0M325.1 269.7h0M371.2 165.9h0M322.4 236.6h0M317.0 222.6h0M375.1 267.7h0M330.2 166.9h0M313.9 229.7h0M364.7 141.4h0M318.8 158.4h0M327.5 167.8h0M307.0 145.6h0M386.1 151.8h0M409.8 168.9h0M309.7 118.9h0M249.5 251.2h0M257.2 303.5h0M345.8 170.7h0M360.7 222.6h0M300.4 214.3h0M317.9 214.7h0M286.8 165.5h0M386.8 217.7h0M368.8 125.6h0M300.4 264.3h0M390.7 126.5h0M295.6 266.8h0M398.3 229.9h0M275.8 235.2h0M364.6 125.9h0M331.9 347.7h0M295.4 260.7h0M279.8 181.3h0M359.1 200.7h0M333.9 189.5h0M393.2 190.6h0M357.7 210.2h0M304.9 210.5h0M390.1 205.8h0M333.5 206.6h0M278.6 201.1h0M350.1 132.9h0M377.6 222.3h0M338.1 135.4h0M349.1 183.1h0M327.6 271.1h0M339.1 183.9h0M198.0 234.1h0M263.9 255.1h0M282.7 210.6h0M308.4 299.3h0M348.6 211.5h0M302.9 150.2h0M354.4 148.0h0M419.5 134.7h0M326.9 182.7h0M242.8 208.8h0M395.0 215.3h0M248.4 270.4h0M348.7 227.7h0M267.0 309.5h0M411.3 249.1h0M322.7 140.2h0M318.7 165.1h0M377.9 118.8h0M295.6 270.3h0M290.9 166.9h0M296.5 257.1h0M351.0 214.1h0M309.0 208.2h0M286.0 203.5h0M403.1 126.7h0M343.5 187.5h0M413.9 154.3h0M327.0 208.9h0M385.1 180.4h0M367.7 269.3h0M334.9 140.1h0M282.5 287.8h0M355.0 234.9h0M283.6 269.3h0M259.2 215.4h0M370.7 112.9h0M327.3 192.3h0M342.2 158.0h0M394.2 193.1h0M337.8 177.2h0M326.7 170.2h0M340.7 196.2h0M385.1 223.4h0M333.0 153.5h0M316.6 135.2h0M355.7 112.5h0M324.7 233.5h0M308.4 289.5h0M367.3 158.1h0M420.6 153.3h0M286.6 287.0h0M416.8 131.5h0M254.3 283.8h0M322.5 271.3h0M318.5 192.1h0M348.1 191.3h0M313.8 228.1h0M386.5 214.3h0M325.1 262.7h0M306.3 302.0h0M313.4 265.8h0M262.7 231.6h0"/>
<path stroke="#7cc440" d="M420.1 116.8h0M412.2 149.4h0M397.4 181.5h0M412.9 154.2h0M443.5 153.4h0M431.3 138.4h0M387.1 189.5h0M461.5 128.1h0M394.1 165.6h0M386.9 234.5h0M413.5 86.6h0M429.2 94.0h0M408.6 165.2h0M418.8 212.9h0M421.4 218.6h0M379.3 285.4h0M430.9 152.7h0M406.6 147.2h0M416.3 164.0h0M406.5 152.2h0M402.2 244.1h0M404.5 214.1h0M432.5 132.9h0M371.4 96.0h0M415.6 124.2h0M421.6 137.4h0M387.0 143.1h0M394.1 115.0h0M356.1 234.8h0M403.0 228.9h0M425.1 194.7h0M420.0 198.8h0M407.2 141.6h0M455.1 103.3h0M423.0 171.2h0M405.2 215.9h0M389.6 218.0h0M468.1 125.2h0M394.3 237.1h0M474.2 264.2h0M429.2 123.4h0M419.3 140.9h0M413.9 154.8h0M391.0 252.5h0M361.1 149.8h0M401.1 223.5h0M392.6 249.5h0M445.9 142.5h0M395.1 191.2h0M404.4 168.4h0M388.4 163.4h0M385.0 125.8h0M411.1 143.4h0M411.7 138.1h0M383.3 119.1h0M434.4 145.8h0M415.8 215.5h0M401.9 139.9h0"/>
<path stroke="#4e8528" stroke-width="2.3" d="M411.6 155.8h0M401.8 131.8h0M436.7 120.6h0M392.8 126.1h0M430.7 128.3h0M395.2 151.4h0M413.0 119.2h0M415.0 123.0h0M382.5 187.1h0M423.7 53.7h0M371.0 171.2h0M391.8 125.2h0M471.2 94.8h0M424.4 166.7h0M415.3 154.0h0M446.0 114.3h0M401.6 157.6h0M401.2 98.6h0M409.0 125.7h0M407.9 178.7h0M453.0 165.4h0M418.2 122.5h0M391.8 158.2h0M397.3 97.9h0M412.0 201.1h0M398.7 68.2h0M424.4 239.6h0M430.8 154.3h0M402.9 83.2h0M415.6 207.6h0"/>
<path stroke="#1a1a1a" d="M228.3 277.3h0M173.9 257.1h0M190.0 217.1h0M211.7 260.0h0M237.0 230.4h0M330.2 288.4h0M230.5 242.4h0M336.9 205.4h0"/>
<path stroke="#808080" d="M291.6 287.8h0M433.0 184.6h0M216.9 219.5h0M275.0 223.5h0M249.3 186.9h0M278.6 197.3h0M251.1 279.5h0M242.6 292.1h0M218.1 242.4h0M261.4 189.4h0M375.1 262.0h0M267.0 245.5h0M271.2 269.6h0M267.6 265.8h0M284.4 320.4h0M292.9 196.0h0M393.4 240.0h0M208.7 308.7h0M268.0 240.0h0"/>
<path stroke="#a3f750" d="M264.4 224.0h0M355.4 147.5h0M346.7 199.2h0M383.2 120.8h0M322.2 247.3h0M286.7 245.3h0M280.3 238.6h0M395.4 148.9h0M322.7 190.3h0M401.1 131.6h0M335.3 189.5h0M383.2 243.2h0M334.0 212.8h0M321.9 191.0h0M364.1 229.9h0M343.4 200.4h0M318.4 133.5h0M345.8 173.5h0M341.6 227.2h0M297.9 251.8h0M390.2 167.5h0M387.9 152.7h0M305.7 188.7h0M315.6 217.1h0M296.4 210.2h0M314.7 260.6h0M358.3 189.8h0M341.9 245.4h0M318.2 204.2h0M274.3 231.4h0M272.9 193.2h0M266.0 250.0h0M319.6 199.2h0M287.5 269.3h0M338.3 231.6h0M334.4 276.9h0M296.4 200.3h0M350.7 253.0h0M273.5 299.0h0M349.5 223.7h0M260.0 289.0h0M374.7 234.2h0M343.0 181.9h0M388.1 213.5h0M409.3 210.7h0M391.1 213.4h0M392.7 118.8h0M331.7 213.0h0M217.8 246.4h0M323.4 256.6h0M358.0 165.7h0M363.0 208.6h0M292.1 250.9h0M326.2 243.3h0M318.1 195.9h0M397.5 147.0h0M322.4 191.6h0M386.2 140.7h0M313.5 181.3h0M361.7 227.8h0M299.6 184.9h0M314.8 300.9h0M407.0 110.3h0M344.0 171.5h0M279.6 207.8h0M342.3 175.1h0M349.0 255.9h0M361.2 171.5h0M262.6 264.4h0M313.7 180.2h0M241.0 261.8h0M366.8 216.6h0M321.6 195.0h0M370.7 217.7h0M396.9 215.7h0M286.4 302.4h0M410.6 136.0h0M288.1 255.6h0M340.2 223.2h0M339.3 262.7h0M409.0 173.8h0M288.5 242.1h0M319.2 209.3h0M219.3 251.0h0M294.6 212.8h0M184.4 257.1h0M274.1 184.4h0M317.3 271.4h0M252.2 267.2h0M307.8 256.0h0M343.3 233.6h0M276.4 173.7h0M292.1 266.7h0M396.5 130.2h0M336.7 164.2h0M381.5 264.2h0M260.4 321.0h0M334.6 238.8h0M302.8 288.0h0M340.5 152.1h0M316.6 189.7h0M318.3 202.5h0M400.1 182.8h0M386.2 138.7h0M299.7 168.5h0M279.0 305.1h0M313.2 248.4h0M318.0 201.6h0M363.6 207.7h0M345.0 214.5h0M380.3 144.6h0M266.7 293.9h0M245.5 193.3h0M300.0 289.7h0M303.0 254.3h0M306.3 256.6h0M342.4 245.4h0M375.5 152.3h0M329.5 208.1h0M426.3 166.0h0M253.9 176.8h0M225.7 227.4h0M322.6 176.1h0M353.3 275.9h0M358.0 163.7h0M336.4 184.1h0M338.5 186.6h0M362.3 206.7h0M335.8 240.7h0M320.6 217.1h0M230.1 203.0h0M338.1 197.4h0M333.6 207.0h0M334.7 260.2h0M208.7 282.4h0M385.6 188.8h0M296.5 249.5h0M365.9 176.2h0M369.8 169.5h0M391.7 148.3h0M332.0 128.8h0M307.2 273.8h0M273.6 193.0h0M321.7 177.2h0M300.3 250.9h0M343.1 162.2h0M322.1 195.2h0M380.7 242.5h0M361.6 222.1h0M368.6 205.7h0M239.6 235.0h0M309.7 226.3h0M318.4 145.2h0M287.2 259.8h0M337.9 281.1h0M361.3 214.8h0M303.5 301.8h0M255.6 243.3h0M375.0 141.2h0M438.5 198.7h0M231.7 248.7h0M402.4 126.8h0M320.2 212.7h0M391.8 143.8h0M284.5 254.8h0M265.8 236.7h0M333.2 245.8h0M317.0 235.4h0M246.6 219.7h0M295.2 197.2h0M334.3 249.6h0M364.2 248.2h0M313.1 133.4h0M278.7 227.6h0M311.7 185.2h0M278.0 236.5h0M374.0 203.9h0M296.8 216.0h0M400.8 169.0h0M360.5 234.9h0M235.9 274.8h0M320.6 216.2h0M270.0 252.8h0M360.6 171.7h0M349.8 277.9h0"/>
<path stroke="#7cc440" d="M386.7 146.6h0M393.2 207.5h0M410.3 139.7h0M379.8 184.0h0M359.9 140.4h0M459.4 205.6h0M406.9 216.5h0M416.2 110.4h0M406.7 238.9h0M425.4 188.4h0M380.0 268.4h0M389.2 148.5h0M391.9 173.6h0M432.8 145.8h0M409.6 138.0h0M444.0 129.4h0M425.5 140.0h0M419.7 184.5h0M396.6 205.0h0M416.2 174.4h0M385.7 164.8h0M429.6 162.1h0M369.3 137.5h0M418.2 164.6h0M425.0 150.8h0M411.6 190.3h0M441.4 136.3h0M407.6 208.0h0M419.2 165.6h0M438.6 195.9h0M414.4 180.3h0M401.8 152.6h0M416.3 137.0h0M415.1 98.0h0M427.5 113.9h0M403.3 138.3h0M395.8 198.7h0M429.4 240.0h0M441.9 210.2h0M405.8 227.8h0M425.8 110.2h0M384.2 186.9h0M411.5 94.9h0M438.3 224.9h0M429.9 191.7h0M380.3 185.4h0M377.9 117.3h0M403.2 117.6h0M404.3 154.3h0M416.8 181.0h0M439.5 137.6h0"/>
<path stroke="#4e8528" stroke-width="2.3" d="M403.2 209.4h0M395.1 195.7h0M388.9 164.4h0M410.4 114.3h0M458.2 196.0h0M434.0 102.7h0M423.2 67.9h0M413.0 139.8h0M431.4 224.4h0M410.2 113.1h0M393.5 180.5h0M417.1 81.6h0M430.5 126.8h0M407.8 147.2h0M450.5 135.5h0M408.5 175.2h0M421.8 103.3h0M397.7 147.5h0M400.2 177.3h0M417.6 132.7h0M414.2 167.4h0M435.6 102.8h0M448.2 105.2h0M426.7 152.8h0"/>
<path stroke="#1a1a1a" d="M189.3 290.0h0M214.4 228.6h0M180.8 267.1h0M211.9 302.1h0M197.7 234.2h0"/>
<path stroke="#808080" d="M229.9 322.3h0M230.6 212.5h0M271.4 239.7h0M248.5 279.0h0M181.0 256.1h0M275.3 251.5h0M365.0 222.0h0M270.4 269.9h0M295.4 241.6h0M281.6 219.7h0M244.3 257.8h0M279.9 242.3h0M420.2 188.8h0M284.9 231.7h0M264.2 283.3h0M390.7 136.1h0M264.8 267.0h0M364.7 156.1h0M219.2 299.9h0M285.0 243.9h0M230.6 263.2h0M186.3 244.5h0M274.2 211.7h0M434.4 185.0h0M375.8 203.0h0M233.5 268.1h0M273.3 245.8h0M295.3 163.7h0M223.4 212.3h0M272.2 250.0h0M257.3 216.8h0M296.4 256.4h0"/>
<path stroke="#a3f750" d="M357.3 165.1h0M307.6 231.6h0M289.8 223.4h0M322.9 230.6h0M355.6 210.4h0M309.1 153.9h0M361.8 199.8h0M352.9 144.1h0M305.9 269.9h0M345.0 171.3h0M351.2 188.8h0M279.2 242.9h0M294.1 283.8h0M275.2 194.4h0M279.1 264.5h0M344.9 236.2h0M362.2 220.6h0M369.5 274.7h0M385.6 189.9h0M328.6 179.5h0M314.4 220.4h0M290.0 276.0h0M366.4 176.2h0M196.2 210.0h0M391.5 177.3h0M246.4 261.0h0M277.2 306.3h0M283.3 228.3h0M429.1 158.8h0M297.9 292.6h0M277.6 189.8h0M303.2 204.6h0M348.3 173.7h0M327.7 171.5h0M303.2 219.5h0M334.7 192.2h0M373.1 233.3h0M311.8 288.1h0M370.0 179.7h0M300.8 226.6h0M291.6 231.9h0M269.6 217.4h0M287.0 202.1h0M369.1 226.3h0M343.4 212.8h0M346.4 181.8h0M259.3 250.3h0M342.2 190.2h0M371.9 144.4h0M344.9 185.2h0M321.2 197.6h0M401.1 173.5h0M352.0 269.9h0M366.6 99.2h0M323.4 227.5h0M269.9 321.9h0M349.0 206.8h0M334.0 167.5h0M311.3 178.1h0M288.7 246.2h0M316.6 234.9h0M327.8 238.1h0M283.4 256.3h0M345.0 207.6h0M387.0 253.9h0M375.8 146.3h0M336.5 166.1h0M235.8 257.8h0M335.6 194.7h0M308.1 158.5h0M371.1 160.2h0M272.5 246.7h0M386.4 192.0h0M341.8 134.6h0M286.4 214.8h0M319.9 180.9h0M364.0 159.7h0M333.5 274.0h0M250.3 252.8h0M268.2 212.8h0M312.1 163.7h0M302.7 235.7h0M367.3 191.8h0M375.6 151.1h0M383.8 205.1h0M399.0 161.7h0M332.8 179.0h0M377.4 126.7h0M346.2 157.7h0M333.3 179.7h0M308.6 282.7h0M388.9 122.2h0M376.8 236.2h0M285.6 253.6h0M374.1 171.5h0M266.1 231.0h0M283.1 206.9h0M362.8 181.8h0M360.1 195.0h0M391.7 202.3h0M377.1 188.6h0M242.0 260.0h0M374.6 199.7h0M266.9 280.1h0M416.7 182.6h0M336.5 281.9h0M298.7 283.7h0M332.1 293.3h0M333.1 160.9h0M311.9 251.1h0M393.9 196.5h0M281.5 200.6h0M285.9 286.1h0M395.7 157.5h0M275.6 201.0h0M273.5 187.0h0M318.0 196.0h0M317.3 205.4h0M315.3 214.5h0M289.3 275.2h0M392.8 188.4h0M406.7 143.0h0M301.8 160.1h0M321.1 298.5h0M278.2 255.8h0M364.2 221.0h0M277.5 319.0h0M388.9 130.9h0M382.4 240.0h0M258.7 306.8h0M314.1 152.7h0M288.0 282.2h0M417.6 211.9h0M302.7 212.2h0M337.4 218.9h0M324.5 271.4h0M224.3 291.7h0M308.1 270.1h0M284.1 265.7h0M407.9 167.0h0M377.2 155.9h0M333.2 258.9h0M331.9 236.7h0M358.0 123.7h0M297.7 198.7h0M356.9 195.6h0M237.0 274.3h0M299.6 255.5h0M390.5 187.0h0M388.5 121.3h0M352.5 232.4h0M314.1 235.9h0M348.3 162.4h0M258.3 252.7h0M333.7 241.7h0M313.8 250.8h0M327.7 251.5h0M353.3 219.8h0M270.4 204.2h0M260.7 192.3h0"/>
<path stroke="#7cc440" d="M392.6 171.8h0M418.4 195.4h0M392.8 139.6h0M359.6 265.2h0M419.1 192.6h0M416.2 171.1h0M407.9 131.5h0M455.9 165.1h0M376.0 184.5h0M369.5 227.7h0M424.8 221.6h0M399.8 186.1h0M349.7 192.6h0M364.7 230.1h0M419.8 108.2h0M388.7 218.3h0M349.6 219.5h0M417.6 119.6h0M383.4 133.9h0M401.5 130.7h0M436.6 122.8h0M407.1 123.5h0M408.6 185.1h0M376.7 162.2h0M430.4 221.5h0M408.7 195.4h0M409.3 135.0h0M409.2 222.2h0M386.3 150.7h0M429.0 127.5h0M412.2 113.2h0M390.7 112.8h0M392.5 93.5h0M400.4 118.5h0M411.5 64.2h0M433.6 151.8h0M409.5 192.3h0M367.8 175.6h0M401.1 105.7h0M406.0 103.3h0M374.1 169.6h0M395.5 232.9h0M373.1 217.4h0M399.8 103.2h0M434.3 98.6h0M416.1 154.0h0M432.8 154.8h0M449.4 213.6h0M415.0 217.2h0M412.3 122.8h0M392.6 137.3h0M420.6 144.4h0M410.3 190.5h0M422.1 109.5h0M430.4 78.2h0M361.1 172.7h0M418.3 155.3h0M414.6 184.7h0M405.6 185.7h0M432.9 231.0h0M417.4 89.5h0M426.2 149.7h0M400.0 92.3h0M430.9 167.0h0M392.9 174.2h0M432.0 175.8h0M410.2 202.6h0M402.5 226.1h0"/>
<path stroke="#4e8528" stroke-width="2.3" d="M420.6 128.3h0M459.6 205.8h0M409.8 109.4h0M432.0 182.4h0M452.7 173.9h0M410.9 197.3h0M450.4 199.4h0M408.4 129.9h0M418.3 149.4h0M408.0 217.1h0M434.3 161.0h0M436.7 115.8h0M438.7 162.3h0M417.8 169.3h0M411.8 147.7h0M428.0 45.0h0M436.4 138.6h0M394.1 93.6h0M424.9 82.2h0M441.3 86.0h0M433.2 169.8h0M433.5 133.1h0"/>
<path stroke="#1a1a1a" d="M212.9 287.1h0M187.1 225.1h0M143.0 231.8h0M196.3 243.7h0M160.2 225.9h0M154.4 218.0h0"/>
<path stroke="#808080" d="M384.2 165.5h0M263.6 237.9h0M264.5 230.9h0M282.1 224.2h0M270.2 324.7h0M433.7 202.0h0M270.3 243.6h0M239.9 233.7h0M326.0 190.7h0M258.4 268.4h0M281.6 207.1h0M235.4 270.2h0M338.2 180.7h0M209.1 261.8h0M191.2 236.0h0M205.0 226.9h0M214.7 237.4h0M248.4 195.8h0M239.3 250.7h0M276.1 256.8h0M333.4 140.2h0M232.5 252.5h0M198.3 255.0h0"/>
<path stroke="#a3f750" d="M343.5 255.7h0M339.9 237.7h0M330.1 183.8h0M342.6 134.3h0M299.9 252.1h0M425.2 113.8h0M404.7 179.3h0M311.9 275.4h0M247.4 280.1h0M249.2 256.6h0M396.0 184.1h0M344.5 206.1h0M216.9 279.1h0M383.7 221.6h0M296.6 157.3h0M383.8 156.2h0M346.0 215.4h0M244.1 267.2h0M312.0 219.5h0M276.7 191.5h0M286.4 215.2h0M389.8 212.0h0M286.2 288.1h0M271.5 192.3h0M383.0 144.0h0M296.9 286.2h0M305.6 190.1h0M350.9 183.2h0M270.0 247.5h0M336.8 259.9h0M379.1 201.7h0M271.8 322.5h0M299.8 162.0h0M320.4 204.8h0M251.5 208.1h0M223.3 295.8h0M257.7 174.3h0M252.7 302.3h0M318.8 216.7h0M318.1 232.5h0M334.9 205.2h0M305.5 222.9h0M340.1 189.8h0M282.6 263.3h0M226.3 254.0h0M300.7 259.5h0M300.9 223.8h0M212.9 217.0h0M337.4 186.3h0M276.3 257.5h0M401.4 151.9h0M319.8 227.1h0M268.3 266.3h0M354.5 201.7h0M313.3 212.1h0M260.7 297.4h0M344.2 257.0h0M300.9 176.7h0M243.9 242.2h0M277.4 314.2h0M344.5 297.9h0M289.5 238.1h0M432.4 136.5h0M311.8 242.2h0M325.4 258.1h0M323.9 257.3h0M308.0 208.7h0M290.8 285.7h0M354.2 226.5h0M352.8 159.0h0M285.1 171.8h0M330.4 187.4h0M326.5 200.3h0M315.5 171.8h0M388.7 138.6h0M412.9 192.8h0M361.1 141.8h0M293.6 275.7h0M349.5 247.4h0M344.4 261.3h0M332.5 166.1h0M377.2 229.0h0M390.0 230.7h0M307.9 244.2h0M405.1 190.0h0M335.4 226.0h0M381.1 197.9h0M358.7 168.2h0M384.3 226.7h0M266.2 252.1h0M292.1 267.7h0M315.6 198.4h0M373.9 162.1h0M355.1 169.9h0M289.1 187.7h0M281.2 215.8h0M287.2 299.4h0M315.8 184.3h0M341.9 238.0h0M397.3 185.8h0M368.3 228.2h0M301.9 226.2h0M510.5 166.0h0M325.0 185.4h0M409.5 155.0h0M295.9 233.2h0M362.4 191.6h0M351.5 239.9h0M354.1 127.7h0M349.6 200.0h0M297.0 252.1h0M295.5 294.2h0M335.3 204.1h0M284.0 288.9h0M371.6 156.6h0M355.9 176.0h0M347.1 206.5h0M307.4 210.0h0M417.3 232.2h0M294.2 210.2h0M326.5 276.9h0M359.7 244.2h0M342.8 270.3h0M366.5 168.8h0M304.9 206.0h0M356.3 244.2h0M334.0 206.6h0M330.9 186.1h0M296.8 182.2h0M376.4 200.5h0M317.3 228.2h0M312.9 274.8h0M238.3 233.7h0M287.1 201.4h0M316.3 218.0h0M390.0 162.3h0M322.6 220.8h0M397.6 79.5h0M304.7 207.6h0M332.1 165.9h0M391.3 147.9h0M243.1 287.1h0M403.0 252.4h0M355.2 147.1h0M270.7 216.7h0M322.6 197.4h0M347.2 125.7h0M373.3 182.5h0M355.9 194.4h0M330.6 258.3h0M345.4 186.1h0M279.3 283.0h0M326.0 178.7h0M330.7 182.6h0M375.3 191.2h0M280.6 181.3h0M332.2 161.6h0M386.8 189.5h0"/>
<path stroke="#7cc440" d="M435.1 148.5h0M424.4 173.2h0M372.6 156.0h0M435.2 77.5h0M407.8 171.4h0M406.8 93.1h0M345.5 150.3h0M445.5 57.2h0M456.5 197.2h0M408.6 89.4h0M410.3 150.1h0M396.7 158.2h0M458.0 276.4h0M411.4 232.6h0M406.9 225.9h0M441.3 113.3h0M411.3 174.9h0M383.2 157.8h0M394.2 96.0h0M390.2 204.0h0M397.8 194.3h0M445.8 145.1h0M453.9 280.7h0M434.2 111.4h0M403.0 197.6h0M440.0 189.9h0M405.8 142.7h0M407.2 251.9h0M410.2 189.9h0M447.5 208.6h0M395.6 168.9h0M437.8 64.4h0M422.2 121.1h0M430.5 186.4h0M399.2 181.6h0M430.9 148.1h0M411.9 142.9h0M388.4 133.9h0M384.0 153.1h0M431.7 213.6h0M391.1 179.9h0M418.4 149.3h0M436.7 170.9h0M417.0 192.3h0M417.1 137.9h0M403.3 90.9h0M418.0 164.7h0M405.0 89.6h0M406.4 207.7h0M374.2 176.8h0M477.8 243.4h0M419.4 198.4h0M428.6 132.9h0M393.2 160.8h0M400.5 199.9h0M416.3 55.2h0M433.8 186.8h0M402.4 134.4h0M388.6 215.3h0M462.4 138.0h0M374.1 217.9h0M365.9 139.1h0M424.7 220.2h0M397.7 276.1h0M410.5 139.8h0M413.4 149.6h0"/>
<path stroke="#4e8528" stroke-width="2.3" d="M443.0 72.2h0M404.3 182.0h0M438.8 135.0h0M442.6 90.4h0M415.4 98.5h0M423.4 156.4h0M437.2 139.5h0M436.0 93.4h0M457.9 200.1h0M418.8 163.5h0M440.3 73.4h0M395.2 138.7h0M433.8 131.6h0M415.8 143.1h0M447.3 249.1h0M438.2 171.1h0M452.9 135.6h0M456.1 110.9h0M443.5 121.6h0M456.3 77.1h0M427.7 231.4h0M434.9 183.5h0M415.6 172.5h0M387.4 162.0h0M380.1 202.0h0M458.6 151.7h0M405.3 94.2h0M399.2 145.4h0M460.8 90.0h0M410.3 130.3h0M380.6 181.2h0M459.0 215.6h0M395.1 98.0h0M435.2 212.1h0"/>
<path stroke="#1a1a1a" d="M243.6 288.1h0M162.0 225.9h0M336.9 149.4h0M158.2 288.5h0M170.5 250.1h0"/>
<path stroke="#808080" d="M255.3 282.7h0M304.0 172.6h0M308.6 179.9h0M202.0 240.2h0M227.6 263.1h0M288.8 194.4h0M386.1 132.6h0M264.1 171.9h0M366.4 190.0h0M217.3 319.2h0M199.5 254.4h0M337.1 236.0h0M300.3 207.7h0M352.7 195.9h0M218.4 256.2h0M236.5 234.7h0M258.2 284.7h0M199.1 233.8h0M252.0 226.7h0M425.6 186.7h0M395.6 203.9h0M393.7 161.5h0M265.9 339.0h0M208.9 263.3h0M210.5 277.5h0M297.8 290.3h0M227.2 298.2h0M349.8 240.3h0"/>
<path stroke="#a3f750" d="M353.4 174.0h0M333.5 238.4h0M310.8 245.0h0M363.0 177.8h0M363.7 212.3h0M273.2 294.7h0M367.4 224.3h0M362.2 214.2h0M397.6 223.7h0M255.5 254.8h0M379.1 173.0h0M264.0 235.6h0M354.6 136.5h0M384.7 242.9h0M352.1 263.7h0M385.1 220.8h0M378.8 136.6h0M291.3 162.8h0M355.8 87.4h0M324.1 206.7h0M268.8 264.9h0M369.5 136.2h0M254.2 309.8h0M334.7 259.0h0M347.1 214.9h0M313.0 275.2h0M319.6 198.4h0M309.4 200.6h0M378.2 181.3h0M309.8 218.4h0M335.8 251.4h0M444.0 192.9h0M288.8 241.2h0M412.1 181.6h0M327.0 216.0h0M231.5 265.8h0M205.2 233.7h0M266.3 235.6h0M248.0 225.8h0M297.3 199.3h0M287.6 201.0h0M301.1 224.2h0M310.8 237.3h0M326.9 250.2h0M276.5 239.7h0M273.8 228.4h0M296.7 250.0h0M462.3 228.5h0M286.6 279.7h0M364.6 189.8h0M317.7 306.8h0M365.1 159.3h0M322.3 179.4h0M278.9 180.0h0M344.6 167.1h0M359.3 79.2h0M262.2 223.4h0M297.4 254.9h0M301.5 213.7h0M355.9 234.6h0M294.0 285.0h0M321.2 225.8h0M424.4 163.1h0M334.8 178.4h0M347.1 166.3h0M254.4 301.1h0M327.0 219.6h0M276.0 182.3h0M333.9 228.3h0M266.6 281.6h0M337.4 170.1h0M289.5 221.7h0M363.6 204.6h0M360.1 133.0h0M302.5 253.4h0M285.1 250.5h0M393.9 172.7h0M429.5 162.6h0M321.7 215.3h0M277.6 291.5h0M316.5 231.4h0M379.8 138.6h0M340.1 214.6h0M356.7 150.8h0M344.2 150.2h0M310.7 173.0h0M251.2 238.8h0M279.7 233.7h0M293.5 247.6h0M256.8 249.2h0M339.8 143.2h0M309.8 196.9h0M286.5 178.1h0M294.3 235.1h0M325.0 298.0h0M338.1 177.6h0M326.6 307.7h0M333.2 232.9h0M386.7 149.2h0M263.8 266.4h0M241.9 236.1h0M354.5 123.2h0M407.0 169.2h0M316.6 195.5h0M359.3 221.4h0M263.4 239.9h0M260.8 286.2h0M304.2 275.0h0M268.5 322.0h0M246.1 201.6h0M280.6 172.6h0M342.2 268.7h0M298.8 290.5h0M381.4 153.9h0M290.1 225.9h0M333.2 186.7h0M315.1 245.8h0M306.4 309.2h0M282.2 182.4h0M351.3 130.5h0M326.7 277.1h0M326.5 221.8h0M352.7 176.7h0M290.2 189.9h0M346.7 253.8h0M286.6 186.7h0M333.4 191.6h0M368.3 141.6h0M377.4 195.5h0M358.0 231.8h0M304.7 202.4h0M377.2 225.2h0M266.3 254.5h0M397.2 233.1h0M342.3 233.9h0M419.4 173.7h0M360.9 200.3h0M352.8 240.2h0M283.1 171.0h0M349.9 244.1h0M314.4 300.2h0M370.2 216.8h0M270.9 216.8h0M357.9 136.4h0M374.6 248.8h0M336.3 216.0h0M250.3 251.7h0M290.6 276.0h0M410.6 186.3h0M373.6 132.9h0M362.7 206.1h0M348.4 200.9h0M342.0 154.8h0M348.8 179.8h0M338.8 202.2h0M339.6 160.3h0M359.5 197.0h0M305.3 248.6h0M329.7 183.2h0M292.7 271.8h0M341.4 260.5h0M347.5 224.0h0M289.1 269.9h0"/>
<path stroke="#7cc440" d="M418.9 207.5h0M388.8 138.2h0M368.6 123.6h0M423.4 109.9h0M431.2 210.5h0M390.6 230.1h0M385.1 249.1h0M391.2 121.3h0M378.6 203.5h0M396.8 255.8h0M421.8 127.6h0M433.2 145.4h0M420.7 168.9h0M400.5 126.3h0M424.3 123.1h0M388.6 196.7h0M404.6 180.7h0M372.6 234.6h0M428.1 89.7h0M427.7 95.7h0M437.9 227.6h0M412.1 155.0h0M403.2 156.1h0M411.8 114.6h0M421.3 208.5h0M387.5 201.6h0M361.3 205.1h0M408.6 191.2h0M411.5 154.1h0M407.6 178.1h0M355.2 133.5h0M418.6 230.6h0M390.2 116.8h0M388.8 188.0h0M443.7 172.1h0M404.3 77.3h0M399.0 220.3h0M441.7 157.1h0M420.5 211.4h0M411.2 134.8h0M434.5 194.4h0M385.7 104.1h0M435.0 85.6h0M429.3 218.3h0M405.8 193.0h0M398.7 257.2h0M439.9 171.4h0M422.3 128.5h0M353.3 141.2h0M386.1 187.4h0M435.4 198.6h0M423.5 167.7h0M430.5 120.5h0M436.6 150.0h0M433.1 127.0h0M450.8 228.6h0M415.8 168.3h0M420.2 238.1h0M431.2 186.5h0M397.5 207.1h0M408.9 223.1h0M407.8 226.1h0M416.2 145.8h0M420.0 163.0h0M413.2 77.8h0M439.4 122.5h0M422.3 134.6h0M428.4 151.7h0M428.2 182.8h0M415.9 140.2h0M400.2 172.1h0M403.6 142.0h0M390.5 123.2h0M393.6 111.2h0"/>
<path stroke="#4e8528" stroke-width="2.3" d="M443.2 123.5h0M412.2 70.1h0M395.9 184.1h0M373.1 201.2h0M453.6 131.4h0M403.0 101.4h0M429.8 130.0h0M406.4 135.9h0M439.4 136.3h0M430.8 172.8h0M419.7 96.3h0M375.5 117.5h0M382.9 193.0h0M416.6 139.7h0M417.6 93.2h0M395.9 157.1h0M442.3 138.6h0"/>
<path stroke="#1a1a1a" d="M158.7 248.2h0M223.6 237.1h0M208.9 252.8h0M186.4 245.9h0M212.8 234.4h0M203.7 221.2h0M151.0 241.6h0M210.0 229.6h0M263.4 311.6h0"/>
<path stroke="#808080" d="M316.1 232.8h0M273.2 311.1h0M290.2 199.4h0M203.8 268.2h0M259.3 298.8h0M222.1 268.5h0M309.4 234.8h0M361.1 102.6h0M344.5 206.0h0M220.9 271.6h0M332.9 196.9h0M226.5 242.8h0M345.1 218.5h0M212.2 269.1h0M269.6 282.2h0M421.7 176.7h0M206.5 307.9h0M284.1 221.5h0M370.3 214.7h0M205.8 227.4h0M207.3 298.8h0M284.5 291.4h0M211.0 356.6h0M200.8 315.7h0M227.4 260.0h0M275.8 304.1h0M191.1 223.3h0M219.5 221.5h0M278.7 202.0h0M195.9 264.3h0M278.4 233.9h0M187.7 298.0h0M221.6 277.3h0"/>
<path stroke="#a3f750" d="M267.9 285.3h0M307.9 60.1h0M330.3 251.1h0M299.1 241.8h0M260.7 276.2h0M214.5 276.4h0M405.6 152.0h0M312.8 270.9h0M262.1 256.1h0M277.7 251.5h0M362.7 155.9h0M348.2 240.6h0M382.5 197.0h0M220.1 311.4h0M313.8 163.5h0M249.1 272.6h0M292.8 275.0h0M355.2 170.7h0M346.1 166.9h0M375.6 255.8h0M268.8 271.3h0M321.0 205.5h0M347.6 273.3h0M334.4 284.8h0M439.9 165.0h0M287.5 198.6h0M286.4 196.4h0M244.4 261.4h0M344.0 220.7h0M358.1 122.3h0M323.1 209.5h0M348.4 204.0h0M338.3 224.5h0M381.6 209.6h0M334.2 154.6h0M402.4 153.8h0M345.9 183.4h0M268.8 296.6h0M304.1 239.9h0M339.2 225.5h0M344.3 195.5h0M264.1 232.7h0M333.0 197.7h0M353.7 207.4h0M205.1 231.7h0M250.9 305.3h0M390.8 148.2h0M331.4 213.3h0M335.6 208.1h0M322.0 286.8h0M300.1 198.5h0M285.0 213.5h0M289.5 275.7h0M393.2 148.2h0M246.8 240.1h0M327.0 184.1h0M337.8 306.9h0M257.4 202.6h0M358.5 131.6h0M350.8 200.9h0M340.6 199.3h0M351.6 194.6h0M294.1 263.0h0M343.9 231.6h0M301.3 182.6h0M323.3 171.9h0M308.1 307.7h0M340.1 189.6h0M390.1 233.3h0M287.1 201.3h0M314.4 223.5h0M285.5 150.3h0M327.5 333.4h0M285.4 228.1h0M293.0 211.8h0M322.8 260.7h0M343.6 265.8h0M368.8 208.8h0M339.3 236.9h0M352.0 228.7h0M310.0 279.6h0M286.2 206.7h0M382.0 173.2h0M314.9 197.1h0M355.1 143.2h0M303.4 290.3h0M352.4 125.7h0M385.6 135.6h0M315.3 166.4h0M314.4 262.2h0M323.0 216.8h0M257.7 193.4h0M428.2 159.0h0M383.7 121.9h0M364.8 163.1h0M294.8 257.2h0M361.2 182.6h0M329.2 143.3h0M348.4 218.1h0M227.8 261.8h0M382.4 250.7h0M284.2 205.1h0M345.4 253.0h0M335.4 170.1h0M318.5 191.6h0M360.1 260.5h0M273.1 214.7h0M304.3 153.9h0M314.6 233.4h0M342.4 244.6h0M410.3 116.0h0M332.9 187.9h0M393.8 182.1h0M292.8 251.6h0M415.4 96.6h0M289.8 257.9h0M332.3 143.6h0M273.9 242.5h0M289.8 177.3h0M333.2 192.4h0M350.3 126.0h0M277.1 305.6h0M351.8 270.9h0M291.4 247.7h0M287.8 211.2h0M358.8 178.9h0M342.5 135.0h0M341.5 179.4h0M332.6 201.5h0M363.7 221.7h0M411.3 171.5h0M383.2 183.5h0M291.7 210.5h0M385.8 174.0h0M271.9 262.1h0M269.4 257.0h0M297.4 249.0h0M357.8 157.1h0M339.3 187.8h0M284.1 173.8h0M228.7 244.5h0M286.8 254.0h0M238.9 249.6h0M263.7 238.8h0M291.0 223.9h0M330.8 192.8h0M396.0 172.8h0M248.6 213.5h0M293.5 220.4h0M297.6 266.5h0M338.2 225.0h0M416.7 136.0h0M377.2 223.6h0M361.5 202.9h0M298.0 245.1h0M285.8 291.6h0M346.4 195.8h0M442.7 187.8h0M259.6 229.4h0M327.7 166.2h0M400.1 199.0h0M391.2 219.3h0M308.6 259.6h0M334.4 188.0h0"/>
<path stroke="#7cc440" d="M428.2 116.1h0M466.4 138.7h0M438.6 172.7h0M418.9 153.0h0M413.5 179.1h0M413.2 74.5h0M416.3 145.8h0M418.7 141.7h0M413.4 151.1h0M382.0 222.3h0M415.5 152.9h0M404.6 184.2h0M403.7 162.7h0M425.9 89.1h0M428.2 133.5h0M355.0 148.3h0M423.8 187.7h0M430.6 124.2h0M440.4 243.9h0M422.5 95.5h0M360.6 132.9h0M429.1 169.2h0M417.2 156.0h0M428.9 150.8h0M396.4 199.4h0M421.5 109.4h0M420.7 131.0h0M402.4 201.4h0M459.4 185.4h0M410.3 122.7h0M431.1 197.0h0M394.6 129.2h0M350.0 172.7h0M377.4 127.4h0M370.6 215.0h0M424.0 142.1h0M440.3 172.4h0M386.1 223.9h0M414.0 153.1h0M430.8 200.2h0M401.0 137.1h0M437.5 125.9h0M405.4 245.4h0M432.7 216.3h0M391.5 236.9h0M404.0 247.6h0M414.1 90.1h0M419.9 225.9h0M410.5 147.0h0M412.6 126.0h0"/>
<path stroke="#4e8528" stroke-width="2.3" d="M431.1 102.6h0M437.8 80.2h0M461.7 131.3h0M402.0 217.7h0M398.4 73.5h0M418.2 160.6h0M426.7 170.4h0M403.5 81.8h0M388.6 174.7h0M385.2 211.5h0M412.5 213.5h0M424.1 203.5h0M428.9 163.8h0M410.3 139.2h0M411.9 121.8h0M448.6 197.3h0M424.0 162.2h0M426.0 143.1h0M478.2 196.5h0M434.9 176.8h0M393.9 157.6h0M444.3 163.5h0M427.2 148.9h0M420.5 170.8h0M468.8 140.4h0M384.2 176.6h0M399.1 133.1h0M405.9 142.0h0M403.0 187.3h0M382.9 189.6h0M438.6 111.3h0"/>
<path stroke="#1a1a1a" d="M188.2 291.8h0M195.1 285.4h0M154.4 287.5h0M218.1 244.6h0M208.5 278.2h0M192.8 253.2h0M199.1 293.7h0M169.7 249.8h0M289.3 201.0h0M232.1 276.0h0M189.2 278.9h0M218.4 260.6h0M153.4 279.8h0"/>
<path stroke="#808080" d="M254.6 269.0h0M241.9 194.8h0M227.9 323.6h0M428.7 184.0h0M209.8 232.5h0M260.2 199.9h0M330.5 191.1h0M349.7 247.7h0M285.5 268.1h0M215.9 283.3h0M207.5 287.5h0M196.6 214.9h0M262.5 239.5h0M434.7 125.5h0M250.3 230.8h0M228.8 304.5h0M195.4 276.0h0M201.8 291.3h0M238.7 290.1h0M212.1 256.9h0M226.4 250.5h0M228.5 256.1h0M294.2 277.4h0M403.0 219.3h0M258.2 163.3h0M289.3 205.5h0M248.5 249.0h0M198.3 239.7h0M397.9 167.0h0M306.8 195.5h0"/>
<path stroke="#a3f750" d="M338.9 121.6h0M342.0 165.5h0M422.7 87.7h0M249.2 322.4h0M265.4 229.1h0M220.4 229.6h0M338.9 158.8h0M316.3 239.2h0M369.7 183.2h0M286.7 198.5h0M330.8 238.7h0M390.1 135.8h0M295.7 270.3h0M291.1 289.8h0M330.0 195.5h0M346.4 257.5h0M379.8 254.6h0M363.6 152.3h0M378.9 213.5h0M298.7 184.4h0M395.7 204.1h0M352.9 208.6h0M364.9 163.0h0M271.8 238.6h0M290.0 192.2h0M368.6 139.3h0M307.0 226.1h0M393.0 231.0h0M314.9 269.3h0M360.6 133.4h0M253.3 235.0h0M349.2 254.2h0M282.9 161.9h0M408.9 186.5h0M297.0 180.3h0M349.0 248.7h0M248.6 268.9h0M346.2 183.7h0M307.5 215.9h0M339.3 262.4h0M287.2 166.6h0M391.6 237.4h0M365.5 195.2h0M339.8 232.1h0M357.5 277.4h0M251.8 228.6h0M282.1 245.8h0M331.7 254.1h0M418.5 193.7h0M360.8 197.5h0M288.2 239.5h0M292.9 273.0h0M346.1 149.8h0M422.5 132.9h0M256.5 194.8h0M340.2 162.5h0M324.1 237.3h0M327.7 260.9h0M316.0 190.7h0M242.5 242.5h0M345.8 242.1h0M339.5 194.1h0M366.6 202.1h0M381.8 242.5h0M297.6 109.5h0M397.3 204.2h0M371.6 197.0h0M338.0 181.8h0M378.8 261.9h0M308.9 196.4h0M269.6 234.3h0M317.3 151.0h0M245.8 242.6h0M380.8 219.2h0M331.4 216.6h0M325.1 158.1h0M274.9 247.1h0M275.0 255.3h0M340.2 151.5h0M415.9 141.8h0M330.3 180.6h0M365.2 207.4h0M273.4 203.9h0M397.8 154.8h0M392.8 213.1h0M375.2 225.7h0M226.7 295.3h0M306.7 272.5h0M432.9 225.7h0M281.7 303.4h0M241.0 233.5h0M321.7 172.1h0M249.2 251.4h0M324.4 165.8h0M291.7 232.9h0M397.0 126.7h0M297.1 231.8h0M283.9 193.5h0M358.6 283.9h0M374.8 277.9h0M398.9 145.8h0M271.3 255.8h0M352.4 163.9h0M383.3 143.5h0M280.7 203.3h0M345.9 175.6h0M330.0 149.6h0M284.9 288.6h0M361.4 185.4h0M292.9 301.1h0M285.2 188.1h0M297.1 300.4h0M343.2 197.3h0M287.6 206.3h0M371.1 232.8h0M326.8 242.5h0M233.2 214.8h0M301.1 254.1h0M314.0 269.4h0M289.2 171.2h0M359.8 124.7h0M316.3 193.7h0M345.5 207.1h0M359.8 126.5h0M421.7 148.8h0M271.1 295.7h0M285.6 247.8h0M382.0 147.9h0M287.8 226.6h0M326.8 271.4h0M303.0 229.9h0M365.7 230.4h0M359.2 173.5h0M418.0 231.1h0M391.8 130.5h0M281.2 301.2h0M370.0 167.1h0M332.1 188.1h0M342.4 214.5h0M288.9 257.0h0M325.2 191.3h0M385.4 255.6h0M362.5 260.3h0M251.1 252.5h0M376.9 144.9h0M345.5 259.8h0M373.7 266.7h0M309.2 228.5h0M300.5 282.0h0M404.1 201.2h0M462.3 237.2h0M336.0 236.8h0M320.2 262.0h0M325.1 241.0h0M417.3 225.9h0M370.0 245.1h0"/>
<path stroke="#7cc440" d="M418.8 202.8h0M382.9 202.0h0M395.3 196.4h0M393.0 202.4h0M417.1 122.2h0M400.3 153.6h0M415.4 204.2h0M430.9 151.5h0M411.9 109.9h0M418.4 112.8h0M409.8 170.5h0M395.2 235.9h0M350.6 234.6h0M434.2 236.1h0M397.9 149.1h0M418.8 122.6h0M423.2 85.5h0M397.7 235.4h0M421.7 144.4h0M399.3 206.8h0M455.2 229.9h0M432.6 118.4h0M415.7 157.3h0M406.1 175.2h0M404.1 192.7h0M475.7 138.5h0M448.4 167.6h0M404.4 184.6h0M376.1 191.2h0M395.1 130.7h0M413.6 204.3h0M397.6 229.5h0M395.8 124.2h0M368.3 151.7h0M445.3 86.9h0M386.3 136.7h0M355.1 178.6h0M408.8 177.4h0M389.8 213.4h0M409.2 191.5h0M454.2 149.4h0M412.8 170.4h0M393.3 127.7h0M403.9 139.7h0M418.7 116.6h0M408.9 202.9h0M445.5 180.3h0M352.9 262.2h0M387.1 185.8h0M392.9 155.0h0M418.3 89.6h0M402.8 237.8h0M399.4 222.0h0M418.4 188.2h0M404.9 152.3h0M453.8 130.4h0M401.3 151.1h0M387.6 129.8h0M422.7 141.2h0M396.1 223.0h0"/>
<path stroke="#4e8528" stroke-width="2.3" d="M414.5 110.7h0M444.2 82.3h0M437.2 197.1h0M398.0 139.2h0M399.1 174.1h0M404.5 170.9h0M410.0 180.1h0M396.0 155.5h0M420.2 169.1h0M410.5 152.1h0M455.0 189.3h0M416.7 138.9h0M434.5 145.7h0M418.4 167.0h0M438.2 154.6h0M445.0 163.4h0M421.5 148.3h0M474.0 176.3h0M439.2 95.3h0M416.4 73.7h0M396.5 163.0h0M436.6 140.6h0M438.7 65.7h0M372.7 96.5h0M420.3 197.4h0M433.3 125.1h0M429.4 139.1h0M440.8 158.8h0"/>
<path stroke="#1a1a1a" d="M185.4 287.9h0M196.6 299.3h0M187.9 259.2h0M142.4 242.5h0"/>
<path stroke="#808080" d="M297.9 271.6h0M222.8 296.5h0M231.5 303.1h0M299.8 228.7h0M204.1 331.5h0M341.6 226.2h0M422.3 176.6h0M264.1 281.6h0M416.1 146.2h0M229.1 234.8h0M296.6 310.5h0M212.7 233.2h0M220.9 271.5h0M206.6 268.1h0M299.1 192.6h0M378.8 211.4h0M375.7 129.9h0M256.3 296.4h0M296.0 214.6h0M264.6 268.8h0M217.3 258.5h0M234.2 210.9h0M232.3 305.7h0"/>
<path stroke="#a3f750" d="M392.1 244.3h0M303.8 200.4h0M324.1 170.5h0M285.0 216.4h0M334.7 216.7h0M354.7 213.6h0M277.5 183.7h0M332.4 262.6h0M421.4 143.3h0M275.8 226.3h0M292.5 200.0h0M407.2 201.2h0M246.3 237.8h0M280.1 323.9h0M312.5 227.2h0M376.8 191.3h0M256.6 230.5h0M313.8 240.1h0M319.1 189.0h0M290.8 214.0h0M327.3 217.6h0M342.9 156.2h0M433.0 136.7h0M297.3 199.0h0M344.5 186.1h0M389.2 192.8h0M300.8 250.1h0M343.6 229.9h0M204.7 263.8h0M300.6 236.0h0M314.3 195.7h0M323.7 233.0h0M298.8 261.3h0M313.5 253.4h0M310.0 249.4h0M355.0 179.3h0M385.8 157.0h0M377.7 144.8h0M387.8 176.3h0M423.9 163.1h0M368.2 195.5h0M333.5 167.2h0M352.6 188.4h0M307.3 211.6h0M321.4 266.6h0M379.8 145.1h0M285.2 171.0h0M380.8 152.2h0M355.8 199.2h0M435.2 117.3h0M300.1 190.4h0M374.6 241.3h0M313.0 276.0h0M281.4 285.2h0M353.5 159.7h0M331.8 233.5h0M290.3 254.5h0M326.0 226.0h0M314.8 224.4h0M372.3 230.5h0M349.3 204.9h0M282.1 234.5h0M364.6 185.3h0M299.5 268.0h0M266.8 239.9h0M373.6 216.9h0M341.1 251.9h0M314.2 188.4h0M325.3 116.2h0M339.8 193.6h0M337.6 178.2h0M281.8 222.6h0M417.8 197.4h0M310.5 164.0h0M355.3 143.9h0M353.7 192.8h0M362.5 140.1h0M283.5 243.4h0M342.2 168.3h0M311.7 216.2h0M280.9 166.3h0M271.9 247.5h0M353.0 162.1h0M329.0 273.1h0M289.1 291.1h0M334.7 191.5h0M357.6 172.5h0M370.1 254.3h0M275.4 258.9h0M395.1 194.1h0M369.7 258.4h0M307.4 237.2h0M306.7 215.5h0M368.9 138.8h0M329.1 244.2h0M371.4 219.0h0M323.0 175.5h0M298.6 268.6h0M274.1 245.2h0M337.0 110.2h0M364.4 178.4h0M355.0 188.0h0M341.2 166.6h0M374.7 124.6h0M370.3 279.8h0M341.2 148.7h0M270.8 189.1h0M313.7 156.0h0M319.5 206.1h0M328.1 180.0h0M388.4 244.5h0M369.4 139.1h0M381.5 142.1h0M314.0 194.3h0M345.4 158.3h0M299.3 239.2h0M301.3 285.5h0M290.6 283.8h0M310.4 269.0h0M359.6 239.6h0M330.7 271.7h0M354.1 144.1h0M250.9 260.7h0M321.9 178.1h0M326.3 192.9h0M334.8 178.3h0M359.1 213.0h0M278.2 215.4h0M404.7 210.7h0M314.2 263.1h0M355.1 249.0h0M245.8 303.1h0M360.5 252.6h0M305.9 201.9h0M315.7 276.8h0M280.8 239.4h0M326.6 223.0h0M328.6 132.6h0M292.0 184.6h0M242.3 296.4h0M273.1 225.3h0M248.7 251.3h0M322.7 265.0h0M281.7 217.6h0M390.4 163.7h0M346.2 238.7h0M322.9 149.6h0M354.1 187.3h0M281.4 249.4h0M351.4 124.2h0M335.5 204.5h0M271.4 200.6h0M368.5 169.7h0M372.1 183.6h0M353.3 225.7h0M342.2 141.4h0M356.6 195.7h0M334.3 140.7h0M325.8 227.9h0M294.3 218.7h0M248.3 265.3h0M410.6 175.2h0M310.3 226.8h0M344.5 219.8h0"/>
<path stroke="#7cc440" d="M372.5 174.9h0M379.9 130.8h0M436.0 89.9h0M428.9 158.8h0M398.1 99.3h0M381.8 206.9h0M412.5 132.4h0M399.8 250.4h0M398.2 205.7h0M420.1 172.9h0M388.5 202.8h0M380.7 148.1h0M415.3 195.3h0M461.5 207.0h0M423.6 170.0h0M427.2 126.1h0M420.0 126.7h0M361.6 258.8h0M417.2 216.5h0M377.7 220.6h0M371.8 155.2h0M440.7 112.5h0M419.3 142.0h0M428.8 94.8h0M428.8 170.8h0M428.6 82.8h0M380.9 152.3h0M418.8 169.6h0M434.4 225.8h0M409.1 138.6h0M427.1 162.4h0M403.9 175.2h0M427.2 174.5h0M402.7 136.3h0M385.4 181.5h0M402.4 130.6h0M424.0 101.8h0M389.7 213.0h0M410.7 114.3h0M409.6 191.1h0M395.8 186.3h0M450.5 163.6h0M421.3 101.8h0M431.3 178.4h0M408.3 188.2h0M403.1 154.3h0M417.7 119.0h0M409.0 210.0h0M429.7 149.7h0M451.0 236.9h0M412.8 114.4h0M420.8 179.9h0M424.2 102.6h0M377.0 248.6h0M409.1 126.3h0M425.3 140.6h0M406.6 122.4h0M401.4 159.6h0M429.4 234.3h0M403.0 212.8h0M402.4 133.5h0M412.1 199.6h0M405.0 170.4h0M448.3 171.1h0M464.7 121.2h0M443.6 112.4h0"/>
<path stroke="#4e8528" stroke-width="2.3" d="M408.1 160.6h0M415.5 108.9h0M425.5 189.6h0M417.1 183.5h0M408.5 209.8h0M445.7 104.2h0M419.7 150.2h0M432.8 100.2h0M411.4 196.8h0M402.8 122.3h0M396.8 119.4h0M393.4 114.7h0M412.2 146.3h0M399.0 80.1h0M457.3 149.3h0M384.5 129.5h0M431.7 145.7h0M376.2 146.7h0M402.9 159.4h0M412.9 186.1h0M425.8 122.1h0M431.1 169.2h0M424.2 98.5h0M438.4 178.4h0M381.6 214.4h0M371.2 154.1h0M433.7 179.0h0M421.0 82.0h0M433.2 165.0h0M383.4 165.4h0"/>
<path stroke="#1a1a1a" d="M226.8 210.3h0M215.5 262.6h0M191.0 254.7h0M240.0 179.4h0M222.5 252.5h0"/>
<path stroke="#808080" d="M339.9 187.3h0M160.2 231.5h0M281.6 224.7h0M305.9 274.5h0M248.7 215.0h0M283.2 184.9h0M237.5 235.5h0M244.3 269.4h0M231.5 246.4h0M255.0 223.8h0M299.1 199.7h0M251.6 246.4h0M289.7 254.5h0M228.1 298.4h0M415.0 147.4h0M265.8 301.4h0M222.1 265.8h0M237.1 213.9h0M234.1 265.2h0M229.3 284.2h0M222.1 258.8h0M268.8 231.5h0M243.2 227.8h0M273.3 236.4h0M326.2 173.0h0M384.4 143.6h0M397.5 156.5h0M223.8 257.4h0M225.2 246.5h0M412.3 146.3h0M280.8 267.2h0M218.2 284.9h0"/>
<path stroke="#a3f750" d="M333.4 230.2h0M365.7 182.5h0M297.5 297.0h0M288.7 235.2h0M335.8 156.4h0M301.3 215.1h0M387.2 148.6h0M294.2 213.2h0M315.1 160.4h0M294.3 234.1h0M396.9 169.0h0M365.7 238.9h0M325.6 254.8h0M396.4 174.1h0M308.1 182.2h0M338.2 145.5h0M260.4 271.8h0M370.4 254.2h0M346.0 133.3h0M340.9 189.9h0M316.1 165.4h0M336.0 176.0h0M308.3 225.3h0M314.2 253.2h0M265.6 266.3h0M324.6 159.9h0M380.7 220.8h0M325.7 174.4h0M434.3 175.0h0M275.8 230.9h0M290.8 284.5h0M292.5 196.2h0M326.6 203.9h0M312.6 243.4h0M381.8 196.8h0M243.7 297.4h0M264.9 225.2h0M267.4 266.3h0M359.5 208.7h0M295.5 287.6h0M242.5 228.9h0M300.0 202.1h0M314.8 200.8h0M311.8 264.1h0M386.4 262.2h0M276.9 275.1h0M346.1 161.0h0M270.8 285.7h0M315.4 179.3h0M367.3 148.0h0M373.8 196.6h0M385.5 119.0h0M359.9 157.2h0M290.1 247.9h0M336.0 216.5h0M277.2 283.0h0M379.7 147.0h0M396.5 149.9h0M205.0 287.9h0M282.9 271.2h0M317.0 192.1h0M284.0 243.3h0M328.7 231.4h0M352.5 201.0h0M324.0 195.1h0M370.9 211.8h0M268.6 295.5h0M370.2 189.6h0M309.7 211.6h0M358.9 198.9h0M359.2 145.9h0M307.2 268.2h0M423.0 113.2h0M343.8 151.9h0M351.4 270.0h0M320.7 178.0h0M295.4 230.8h0M353.8 178.4h0M308.7 192.6h0M315.9 190.9h0M277.2 294.2h0M320.1 229.8h0M334.9 191.7h0M393.0 186.7h0M338.0 191.2h0M290.8 221.6h0M300.9 228.5h0M309.3 240.6h0M297.0 233.8h0M320.5 187.5h0M297.3 260.2h0M311.2 202.4h0M343.4 248.3h0M332.2 143.8h0M330.3 198.3h0M347.0 228.3h0M322.3 157.9h0M249.6 228.0h0M284.1 267.3h0M335.1 255.1h0M360.9 213.4h0M328.2 253.6h0M285.2 287.8h0M303.8 165.7h0M432.1 143.5h0M330.2 242.6h0M314.4 265.2h0M365.4 230.6h0M305.9 255.7h0M315.6 182.7h0M307.6 157.6h0M286.7 302.6h0M417.5 195.5h0M338.3 139.3h0M295.8 184.7h0M290.0 171.8h0M303.5 207.7h0M355.8 225.3h0M345.2 231.4h0M268.4 203.3h0M329.8 159.9h0M344.3 232.0h0M288.2 262.4h0M341.5 180.5h0M291.2 226.4h0M346.5 186.5h0M351.2 184.2h0M337.3 256.0h0M307.1 239.1h0M253.3 279.5h0M270.7 203.9h0M260.6 204.9h0M300.4 211.0h0M393.8 218.0h0M294.9 234.1h0M384.6 257.7h0M273.0 207.8h0M314.2 197.5h0M379.7 143.3h0M402.5 181.7h0M367.4 266.5h0M316.3 209.9h0M382.9 219.7h0M318.8 186.7h0M333.3 225.8h0M351.9 180.7h0M318.7 259.5h0M290.2 182.1h0M389.9 149.5h0M352.5 230.3h0M332.5 273.6h0M297.2 198.3h0M312.6 220.4h0M380.0 263.1h0M386.9 214.9h0M301.4 221.4h0M323.1 216.2h0M311.6 283.5h0M356.9 140.8h0M306.1 198.5h0M354.3 280.5h0M264.8 240.6h0M351.3 59.6h0M367.9 245.2h0M314.7 210.2h0"/>
<path stroke="#7cc440" d="M414.6 150.1h0M446.4 196.0h0M413.2 166.2h0M427.1 195.7h0M404.0 148.8h0M411.0 123.7h0M386.7 160.7h0M410.8 180.0h0M398.5 225.0h0M427.1 176.0h0M407.7 163.5h0M402.4 165.7h0M417.1 132.9h0M386.7 168.7h0M434.8 142.8h0M445.4 76.1h0M394.0 179.2h0M410.1 129.2h0M379.8 234.3h0M419.5 205.7h0M395.3 194.4h0M368.9 208.5h0M419.0 115.7h0M401.5 176.9h0M380.5 241.4h0M373.8 166.8h0M392.3 139.0h0M422.8 150.5h0M434.8 136.7h0M436.1 199.9h0M402.9 144.7h0M419.7 109.8h0M382.7 247.4h0M407.7 171.2h0M449.0 199.9h0M382.4 156.6h0M404.8 175.7h0M423.7 208.9h0M457.3 152.1h0M413.0 223.5h0M397.2 221.6h0M425.1 184.5h0M436.9 109.2h0M343.1 184.9h0M400.5 105.1h0M415.8 200.0h0M415.8 88.6h0M412.8 107.2h0M438.0 186.1h0M410.9 96.1h0M372.2 187.3h0M442.8 136.9h0M426.1 156.1h0M393.6 172.6h0M411.0 173.6h0M413.8 71.0h0M435.9 109.1h0M427.9 168.0h0M404.1 217.1h0"/>
<path stroke="#4e8528" stroke-width="2.3" d="M445.1 152.4h0M420.3 118.1h0M403.9 154.8h0M426.0 82.5h0M416.0 139.8h0M438.3 215.8h0M399.9 171.4h0M415.1 147.2h0M441.9 126.2h0M389.7 225.4h0M425.8 112.2h0M432.3 94.8h0M383.6 117.0h0M413.2 180.9h0M476.2 152.7h0M433.8 98.6h0M425.7 206.2h0M409.3 116.1h0M406.8 180.6h0M439.3 130.1h0M417.6 165.3h0M409.2 189.9h0M384.4 162.5h0M393.8 140.2h0M431.3 204.3h0"/>
<path stroke="#1a1a1a" d="M201.0 302.9h0M236.0 244.3h0M192.2 251.9h0M226.1 282.9h0M187.8 318.9h0M213.6 287.6h0M330.0 213.4h0"/>
<path stroke="#808080" d="M412.6 144.9h0M256.5 267.4h0M285.0 288.0h0M206.9 281.4h0M296.3 219.4h0M409.1 117.0h0M201.4 253.4h0M238.1 269.5h0M255.3 266.0h0M233.8 270.6h0M233.4 262.6h0M240.5 222.1h0M287.7 211.9h0M229.6 217.4h0M252.5 216.6h0M426.4 154.7h0M254.3 231.1h0M255.4 205.8h0M306.7 276.8h0M353.7 133.0h0M256.1 196.8h0M302.6 198.4h0M283.9 253.5h0M262.4 226.3h0M266.8 228.9h0M246.9 283.9h0M371.4 196.8h0"/>
<path stroke="#a3f750" d="M291.4 225.1h0M354.1 189.4h0M437.2 133.6h0M266.0 263.3h0M342.0 157.8h0M334.4 255.8h0M357.8 174.5h0M317.4 230.9h0M323.2 216.0h0M316.5 204.4h0M370.3 186.6h0M375.8 273.0h0M300.9 269.3h0M375.1 231.1h0M349.3 197.2h0M328.5 216.7h0M414.3 223.0h0M336.1 184.9h0M320.7 283.2h0M369.3 134.5h0M267.7 258.3h0M333.3 187.4h0M348.4 147.1h0M274.4 253.4h0M361.7 111.2h0M364.2 215.9h0M377.8 178.2h0M303.4 200.0h0M362.4 160.4h0M284.9 236.6h0M257.6 261.2h0M256.0 275.5h0M325.6 108.9h0M346.8 169.4h0M311.7 220.8h0M355.6 133.6h0M298.9 212.7h0M404.4 134.7h0M349.9 122.8h0M292.4 199.8h0M314.9 198.6h0M373.9 163.2h0M290.3 266.5h0M406.8 174.5h0M333.0 192.9h0M323.1 188.9h0M365.2 272.5h0M320.3 180.1h0M384.1 130.6h0M365.3 214.6h0M326.0 246.0h0M368.4 189.7h0M279.9 207.4h0M385.9 217.9h0M290.5 230.2h0M366.6 149.0h0M286.7 168.3h0M386.1 142.6h0M328.1 272.3h0M377.6 180.5h0M265.4 245.0h0M344.4 171.5h0M384.0 149.1h0M313.9 191.1h0M407.1 125.3h0M414.4 198.0h0M355.1 221.5h0M272.4 234.9h0M390.0 233.3h0M309.4 202.6h0M335.8 279.3h0M385.4 213.5h0M327.6 150.2h0M406.4 81.9h0M399.9 174.5h0M270.7 256.9h0M378.9 235.5h0M267.6 217.9h0M362.0 253.0h0M325.3 245.7h0M324.3 256.7h0M306.3 226.3h0M353.9 174.6h0M330.0 241.8h0M332.5 249.8h0M368.3 186.0h0M373.8 217.3h0M385.4 173.7h0M327.6 203.5h0M355.1 195.2h0M448.1 150.6h0M355.2 266.9h0M343.7 226.9h0M370.3 183.2h0M290.0 200.5h0M368.9 165.1h0M348.5 175.7h0M306.7 185.8h0M280.9 223.5h0M274.4 248.9h0M323.5 235.6h0M195.2 284.6h0M338.7 293.7h0M365.3 166.1h0M352.7 114.8h0M333.5 197.5h0M306.6 270.9h0M347.0 149.7h0M378.6 260.8h0M285.9 164.2h0M416.8 153.8h0M228.2 201.9h0M362.3 258.3h0M348.3 199.0h0M356.6 140.6h0M370.1 173.0h0M306.4 265.4h0M352.5 121.5h0M279.6 204.4h0M267.8 171.0h0M278.9 292.9h0M314.9 167.9h0M356.3 201.9h0M400.0 188.5h0M272.8 199.6h0M293.8 199.0h0M345.8 246.3h0M348.7 181.4h0M249.7 261.1h0M369.3 197.0h0M281.8 285.7h0M318.1 141.4h0M315.8 225.8h0M315.8 164.5h0M308.9 234.7h0M320.3 195.1h0M337.5 199.1h0M332.3 276.1h0M310.5 203.4h0M399.3 100.2h0M348.6 180.0h0M325.5 189.7h0M269.3 214.5h0M303.6 223.8h0M366.0 144.3h0M321.5 214.6h0M363.1 212.0h0M313.8 219.7h0M333.7 177.6h0M332.1 177.7h0M388.9 203.2h0M384.9 137.5h0M334.1 303.7h0M327.8 233.4h0M336.6 257.7h0M337.7 249.9h0M324.3 297.0h0M238.3 243.7h0M311.4 249.1h0M323.4 131.7h0M334.7 213.5h0M292.8 298.7h0M279.6 229.8h0M342.8 186.7h0M389.8 181.4h0M369.4 260.7h0M278.3 271.1h0M373.0 147.8h0M257.3 251.9h0M295.1 193.1h0M363.9 176.8h0"/>
<path stroke="#7cc440" d="M413.0 150.5h0M415.7 218.0h0M408.9 180.0h0M412.2 122.2h0M353.5 298.1h0M363.4 209.4h0M411.5 192.0h0M417.0 147.2h0M399.7 164.5h0M400.6 237.8h0M426.5 162.7h0M367.5 153.3h0M392.5 140.9h0M409.5 91.8h0M430.9 137.9h0M410.5 105.0h0M382.0 157.6h0M421.3 192.8h0M372.1 212.7h0M414.9 158.4h0M392.5 201.5h0M456.7 231.7h0M378.8 155.1h0M432.3 172.9h0M395.3 137.7h0M407.5 141.8h0M398.8 205.6h0M395.1 190.5h0M406.8 214.3h0M425.7 175.9h0M408.8 213.5h0M434.8 94.0h0M400.1 282.2h0M420.3 175.1h0M372.2 173.5h0M436.9 141.7h0M403.6 123.5h0M436.2 167.9h0M397.6 185.4h0M449.5 209.7h0M423.7 161.2h0M416.7 133.1h0M426.9 115.1h0M449.4 198.5h0M449.2 175.6h0M402.0 127.5h0M389.3 149.5h0M404.2 186.9h0M424.6 179.1h0M396.2 104.0h0M376.9 134.5h0M405.1 142.2h0M378.2 238.6h0M393.0 80.7h0M420.3 177.8h0"/>
<path stroke="#4e8528" stroke-width="2.3" d="M421.9 150.9h0M419.2 147.4h0M411.0 126.9h0M406.3 152.4h0M434.9 202.1h0M405.7 127.9h0M427.0 81.3h0M439.2 202.6h0M418.2 200.4h0M442.8 187.9h0M434.6 172.8h0M423.8 189.3h0M414.1 102.4h0M440.6 194.3h0M428.2 158.0h0M428.9 130.2h0M376.7 143.5h0M432.7 85.8h0M438.5 80.6h0M449.8 110.5h0M404.6 112.8h0M423.2 121.4h0M431.7 65.6h0M418.4 79.1h0M413.1 114.1h0M420.9 68.3h0"/>
<path stroke="#1a1a1a" d="M149.7 279.7h0M360.8 125.0h0M192.1 254.2h0"/>
<path stroke="#808080" d="M358.4 165.1h0M244.7 256.1h0M240.7 234.4h0M254.0 320.2h0M276.1 205.9h0M245.6 253.9h0M233.8 295.2h0M290.2 292.8h0M206.3 287.8h0M281.1 222.3h0M231.0 228.9h0M228.6 244.2h0M360.3 251.7h0M305.1 276.7h0M247.2 230.3h0M260.9 265.8h0M219.3 254.9h0M301.2 164.9h0M204.9 253.2h0M387.7 171.1h0M209.2 247.0h0M304.1 230.6h0M247.6 243.4h0"/>
<path stroke="#a3f750" d="M317.5 181.4h0M388.4 172.4h0M391.7 167.1h0M393.7 130.6h0M319.1 187.8h0M292.3 206.8h0M342.3 132.2h0M329.1 194.8h0M338.4 207.1h0M361.1 183.1h0M336.6 240.6h0M313.4 197.1h0M343.8 164.8h0M398.9 204.5h0M296.1 206.1h0M262.3 231.0h0M265.2 296.0h0M384.1 184.3h0M176.4 262.7h0M356.9 231.6h0M296.7 259.6h0M314.5 230.5h0M332.4 195.1h0M404.7 146.4h0M295.5 222.2h0M394.2 211.0h0M352.9 188.9h0M358.6 179.5h0M344.5 211.1h0M336.3 181.2h0M341.5 197.8h0M235.5 302.6h0M285.1 260.2h0M328.8 247.0h0M348.4 268.5h0M362.5 189.1h0M295.8 194.1h0M275.5 302.7h0M360.2 119.5h0M314.7 193.2h0M310.4 220.2h0M358.0 215.2h0M311.7 208.8h0M363.5 164.5h0M415.2 174.8h0M327.1 271.9h0M342.3 270.5h0M386.1 175.0h0M367.9 242.5h0M335.1 205.9h0M350.7 185.6h0M286.8 285.9h0M298.1 213.8h0M361.2 208.7h0M354.8 181.9h0M312.3 252.3h0M300.6 173.9h0M310.4 181.5h0M359.8 171.8h0M314.6 270.7h0M278.6 299.2h0M266.3 289.8h0M345.6 262.2h0M328.7 275.1h0M236.9 311.1h0M363.3 241.5h0M329.7 144.1h0M306.4 139.6h0M276.6 238.8h0M355.6 248.5h0M376.0 262.9h0M273.8 221.1h0M237.3 185.9h0M339.8 154.7h0M263.4 197.4h0M269.9 293.5h0M455.7 194.1h0M378.1 154.1h0M317.8 229.6h0M220.0 276.3h0M437.5 150.3h0M321.4 247.4h0M295.8 262.0h0M265.4 278.3h0M395.4 115.8h0M377.9 188.4h0M274.6 224.1h0M347.2 173.6h0M387.8 211.8h0M374.1 140.1h0M400.8 180.9h0M311.9 135.9h0M313.5 242.3h0M338.4 148.8h0M337.7 207.6h0M298.6 243.1h0M354.0 146.2h0M324.4 173.3h0M317.9 236.5h0M313.0 245.5h0M358.1 172.6h0M310.3 268.1h0M387.7 208.4h0M348.5 246.1h0M397.9 209.3h0M348.5 195.8h0M263.0 238.8h0M279.8 222.2h0M379.8 221.3h0M396.4 177.1h0M305.3 239.2h0M322.8 242.1h0M336.1 154.4h0M368.8 227.6h0M316.2 244.1h0M354.4 142.5h0M351.4 174.8h0M231.4 242.8h0M348.3 193.5h0M268.2 292.8h0M298.4 193.9h0M347.3 227.5h0M268.5 165.7h0M266.5 272.9h0M316.6 326.9h0M241.7 198.1h0M279.4 251.2h0M215.8 318.6h0M292.8 260.0h0M377.9 162.9h0M385.6 171.2h0M350.0 225.7h0M227.4 242.8h0M395.9 172.3h0M343.6 183.2h0M250.5 202.9h0M389.4 267.3h0M242.5 276.6h0M267.6 229.9h0M271.5 308.7h0M264.6 266.5h0M367.0 207.6h0M343.6 166.8h0M391.7 277.4h0M339.4 225.7h0M330.4 244.3h0M340.7 169.9h0M348.5 165.9h0M288.1 303.6h0M284.4 236.8h0M404.4 141.1h0M281.5 287.4h0M326.1 195.8h0M388.8 171.6h0M333.2 232.9h0M325.3 267.1h0M269.2 296.7h0M326.8 282.3h0M343.8 157.9h0M261.1 299.7h0M385.9 151.3h0M326.6 177.3h0M346.9 166.9h0M350.1 175.0h0M322.2 248.3h0"/>
<path stroke="#7cc440" d="M360.8 201.9h0M375.0 117.2h0M387.6 235.5h0M453.1 123.0h0M398.0 92.8h0M380.2 218.4h0M428.3 148.1h0M366.8 319.1h0M397.1 213.3h0M379.0 111.6h0M449.1 246.4h0M399.0 177.9h0M383.6 244.3h0M384.3 174.9h0M413.8 225.1h0M421.3 203.3h0M395.0 132.6h0M401.4 173.8h0M420.8 112.9h0M398.9 121.7h0M387.6 158.1h0M405.9 129.3h0M399.5 96.3h0M410.6 154.5h0M423.3 100.1h0M432.0 237.0h0M375.1 175.2h0M441.0 208.7h0M398.0 251.5h0M384.4 151.3h0M433.9 152.8h0M415.8 117.1h0M440.0 159.2h0M397.7 195.6h0M403.0 141.3h0M403.0 75.8h0M399.9 142.3h0M405.1 196.4h0M445.7 126.5h0M402.7 162.6h0M428.2 189.0h0M418.6 170.6h0M400.9 103.8h0M355.3 222.8h0M429.1 141.0h0M398.7 129.0h0M434.1 242.1h0M347.9 230.5h0M393.6 129.8h0M430.6 135.2h0M437.6 135.2h0M430.2 130.3h0M439.1 106.7h0M411.3 139.1h0M394.5 133.4h0M392.8 159.9h0M419.1 160.1h0M421.9 138.9h0M413.2 210.4h0M406.5 174.5h0M393.5 163.1h0M434.2 218.8h0M458.4 218.1h0M415.9 127.3h0M439.5 131.1h0M434.1 208.9h0M384.0 170.9h0M411.5 122.1h0M394.6 161.6h0"/>
<path stroke="#4e8528" stroke-width="2.3" d="M471.3 72.7h0M416.0 195.7h0M431.0 124.0h0M394.6 131.3h0M395.4 138.9h0M426.4 192.5h0M374.1 141.3h0M403.7 165.8h0M408.0 164.2h0M448.4 167.0h0M413.4 133.8h0M421.6 184.3h0M428.0 121.8h0M368.0 235.0h0M437.0 106.3h0M432.8 161.6h0M416.7 165.7h0M433.8 149.5h0M383.3 132.3h0M415.3 217.8h0M430.5 222.9h0M407.7 203.1h0M441.9 111.5h0M412.9 135.3h0M453.3 164.2h0M402.6 206.4h0"/>
<path stroke="#1a1a1a" d="M168.0 260.2h0M252.4 246.5h0M170.2 298.8h0M201.4 277.9h0M148.7 290.5h0M193.9 217.6h0M227.7 242.5h0M198.0 312.0h0M164.8 229.0h0"/>
<path stroke="#808080" d="M239.9 273.0h0M238.3 259.4h0M234.2 299.4h0M238.6 178.6h0M316.6 250.4h0M292.4 193.1h0M241.1 262.1h0M404.2 123.1h0M407.0 153.8h0M223.9 290.6h0M261.8 273.5h0M211.3 255.0h0M274.4 291.8h0M235.4 282.8h0M233.7 297.6h0M152.5 240.8h0M207.1 267.2h0M399.1 144.6h0M219.0 274.2h0"/>
<path stroke="#a3f750" d="M330.3 295.7h0M366.4 155.0h0M254.7 231.4h0M326.0 250.4h0M273.7 276.9h0M320.7 196.2h0M331.0 147.6h0M336.5 204.6h0M318.3 204.6h0M283.9 236.3h0M371.7 144.6h0M311.8 158.6h0M287.7 241.5h0M324.3 248.9h0M299.0 225.7h0M420.3 199.6h0M392.5 172.3h0M404.9 199.2h0M412.4 185.1h0M316.2 103.8h0M355.2 190.2h0M292.4 275.7h0M283.1 247.1h0M297.5 192.4h0M378.6 196.9h0M344.7 222.8h0M345.0 272.9h0M341.4 168.8h0M229.2 282.9h0M283.4 307.7h0M299.1 253.2h0M330.5 206.4h0M351.8 159.5h0M349.6 153.0h0M398.5 155.7h0M335.3 165.9h0M346.2 138.2h0M309.3 206.6h0M203.3 289.2h0M287.5 265.9h0M356.1 248.3h0M331.1 177.0h0M163.3 220.9h0M325.3 200.6h0M308.1 287.0h0M317.0 182.8h0M322.4 206.4h0M258.2 228.1h0M170.1 298.4h0M297.9 243.8h0M355.6 121.4h0M289.8 255.2h0M309.6 282.1h0M255.2 270.0h0M321.9 204.5h0M309.1 252.4h0M254.2 285.5h0M391.4 173.0h0M293.5 235.8h0M303.4 263.5h0M301.4 284.0h0M379.8 221.0h0M292.8 300.0h0M261.1 232.2h0M323.2 248.3h0M307.1 258.7h0M338.3 273.9h0M381.6 167.5h0M282.4 285.3h0M349.3 162.9h0M281.4 232.2h0M328.2 191.1h0M288.4 188.7h0M300.0 212.6h0M331.1 255.3h0M294.2 253.3h0M304.1 208.7h0M258.1 244.9h0M391.8 122.2h0M314.5 267.7h0M316.0 239.3h0M356.7 152.7h0M313.6 206.6h0M299.0 228.8h0M315.0 235.2h0M328.5 282.1h0M384.0 185.8h0M305.2 199.5h0M391.6 126.9h0M397.5 125.7h0M377.8 172.3h0M285.5 249.7h0M376.4 178.6h0M303.1 213.4h0M190.9 241.8h0M360.0 238.6h0M356.4 238.0h0M302.2 235.5h0M366.5 168.8h0M298.9 291.4h0M332.2 223.8h0M347.2 136.2h0M340.9 234.1h0M433.4 101.2h0M351.4 209.6h0M284.3 190.4h0M299.0 312.9h0M328.5 206.3h0M245.6 183.6h0M358.0 146.9h0M386.9 123.5h0M303.2 192.8h0M350.0 206.7h0M337.3 287.3h0M414.8 185.5h0M340.5 190.3h0M369.2 235.6h0M279.3 294.2h0M354.2 266.7h0M366.1 161.1h0M341.9 240.9h0M269.5 233.2h0M321.6 179.5h0M336.6 194.5h0M245.4 272.0h0M276.5 291.9h0M274.5 211.0h0M279.7 237.0h0M344.8 259.5h0M404.6 152.5h0M305.1 178.3h0M316.8 172.8h0M320.7 235.2h0M358.0 120.9h0M292.7 235.3h0M407.2 131.9h0M272.6 239.1h0M345.4 203.5h0M298.3 186.3h0M407.8 214.5h0M375.6 229.3h0M381.8 183.2h0M362.8 210.7h0M390.5 139.9h0M386.8 178.7h0M388.0 272.7h0M399.1 161.7h0M336.9 235.1h0M355.2 182.9h0M258.4 272.0h0M428.2 168.8h0M399.2 161.6h0M341.1 243.7h0M303.0 237.6h0M263.5 174.0h0M318.0 168.4h0M347.5 237.1h0M277.2 297.1h0"/>
<path stroke="#7cc440" d="M366.4 171.2h0M426.2 154.4h0M407.4 217.3h0M382.7 257.0h0M429.8 198.0h0M410.9 168.0h0M378.8 174.2h0M395.5 178.4h0M413.1 180.1h0M447.4 125.0h0M406.6 223.6h0M422.2 141.7h0M381.8 213.1h0M411.8 132.2h0M408.5 185.8h0M380.9 235.4h0M418.3 140.7h0M389.3 202.2h0M430.3 135.0h0M398.3 245.1h0M401.4 216.4h0M429.5 187.5h0M424.6 155.3h0M442.0 175.1h0M385.1 222.8h0M398.2 210.5h0M379.8 189.8h0M397.9 142.5h0M366.5 190.3h0M400.7 115.1h0M388.0 140.6h0M423.2 169.0h0M380.1 187.6h0M425.8 153.3h0M379.3 148.2h0M415.2 206.0h0M435.7 221.1h0M396.0 125.8h0M399.5 113.1h0M408.4 201.1h0M387.9 111.1h0M423.7 107.2h0M413.0 133.9h0M449.2 178.5h0M407.4 199.5h0M424.6 179.0h0M426.8 170.1h0M419.8 198.8h0M394.1 241.6h0M422.9 128.8h0M439.5 186.1h0M411.8 176.8h0M440.6 154.2h0M410.7 238.9h0M475.5 248.0h0M400.8 135.3h0M430.0 204.2h0M447.2 184.7h0M396.2 201.7h0M436.1 115.9h0M406.9 261.2h0M416.4 189.5h0M376.3 246.4h0M421.4 142.3h0M396.8 227.9h0M359.4 180.1h0M430.4 124.1h0M440.0 98.6h0M415.9 148.7h0M450.9 107.8h0M407.7 86.9h0M412.5 132.7h0M408.2 198.6h0M407.5 177.9h0M405.8 249.5h0M390.8 155.7h0"/>
<path stroke="#4e8528" stroke-width="2.3" d="M416.8 159.6h0M388.9 174.2h0M436.0 138.2h0M407.5 162.6h0M382.7 195.4h0M399.9 211.0h0M410.5 105.5h0M409.0 205.4h0M429.3 188.7h0M437.7 108.7h0M437.8 86.0h0M411.8 137.6h0M405.6 132.2h0M439.1 95.3h0M389.4 192.1h0M399.3 112.3h0M426.1 147.4h0M418.6 188.6h0M398.6 188.9h0M422.8 145.1h0M393.7 210.2h0M404.8 187.0h0M438.9 149.1h0M423.9 56.2h0"/>
</g>
<line x1="278.6" y1="11.3" x2="278.6" y2="381.3" stroke="#444" stroke-width="0.9" stroke-dasharray="1.2 2.3"/>
<line x1="345.5" y1="11.3" x2="345.5" y2="381.3" stroke="#444" stroke-width="0.9" stroke-dasharray="1.2 2.3"/>
<line x1="384.6" y1="11.3" x2="384.6" y2="381.3" stroke="#444" stroke-width="0.9" stroke-dasharray="1.2 2.3"/>
<line x1="412.4" y1="11.3" x2="412.4" y2="381.3" stroke="#444" stroke-width="0.9" stroke-dasharray="1.2 2.3"/>
<line x1="490.7" y1="11.3" x2="490.7" y2="381.3" stroke="#444" stroke-width="0.9" stroke-dasharray="1.2 2.3"/>
<clipPath id="pc"><rect x="67.2" y="11.3" width="469.0" height="370.0"/></clipPath>
<path d="M67.2 251.2 L70.5 251.1 L73.9 251.0 L77.2 250.9 L80.6 250.7 L83.9 250.6 L87.3 250.5 L90.6 250.4 L94.0 250.2 L97.3 250.1 L100.6 249.9 L104.0 249.8 L107.3 249.6 L110.7 249.5 L114.0 249.3 L117.4 249.1 L120.7 248.9 L124.0 248.8 L127.4 248.6 L130.7 248.4 L134.1 248.2 L137.4 248.0 L140.8 247.7 L144.1 247.5 L147.5 247.3 L150.8 247.0 L154.1 246.8 L157.5 246.5 L160.8 246.3 L164.2 246.0 L167.5 245.7 L170.9 245.4 L174.2 245.1 L177.5 244.8 L180.9 244.4 L184.2 244.1 L187.6 243.7 L190.9 243.4 L194.3 243.0 L197.6 242.6 L201.0 242.2 L204.3 241.8 L207.6 241.4 L211.0 240.9 L214.3 240.5 L217.7 240.0 L221.0 239.5 L224.4 239.0 L227.7 238.5 L231.1 237.9 L234.4 237.4 L237.7 236.8 L241.1 236.2 L244.4 235.6 L247.8 234.9 L251.1 234.3 L254.5 233.6 L257.8 232.9 L261.1 232.1 L264.5 231.4 L267.8 230.6 L271.2 229.8 L274.5 229.0 L277.9 228.1 L281.2 227.2 L284.6 226.3 L287.9 225.4 L291.2 224.4 L294.6 223.4 L297.9 222.3 L301.3 221.3 L304.6 220.2 L308.0 219.0 L311.3 217.8 L314.6 216.6 L318.0 215.4 L321.3 214.1 L324.7 212.7 L328.0 211.4 L331.4 209.9 L334.7 208.5 L338.1 207.0 L341.4 205.4 L344.7 203.8 L348.1 202.2 L351.4 200.5 L354.8 198.7 L358.1 196.9 L361.5 195.0 L364.8 193.1 L368.1 191.1 L371.5 189.1 L374.8 187.0 L378.2 184.9 L381.5 182.7 L384.9 180.4 L388.2 178.1 L391.6 175.7 L394.9 173.2 L398.2 170.6 L401.6 168.0 L404.9 165.3 L408.3 162.6 L411.6 159.8 L415.0 156.8 L418.3 153.9 L421.7 150.8 L425.0 147.7 L428.3 144.4 L431.7 141.1 L435.0 137.7 L438.4 134.3 L441.7 130.7 L445.1 127.0 L448.4 123.3 L451.7 119.5 L455.1 115.5 L458.4 111.5 L461.8 107.4 L465.1 103.2 L468.5 98.9 L471.8 94.5 L475.2 90.0 L478.5 85.4 L481.8 80.8 L485.2 76.0 L488.5 71.1 L491.9 66.1 L495.2 61.0 L498.6 55.8 L501.9 50.5 L505.2 45.1 L508.6 39.6 L511.9 34.0 L515.3 28.3 L518.6 22.4 L522.0 16.5 L525.3 10.5 L528.7 4.3 L532.0 -1.9" fill="none" stroke="#e2281e" stroke-width="1.3" clip-path="url(#pc)"/>
<rect x="67.2" y="11.3" width="469.0" height="370.0" fill="none" stroke="#b4b4b4" stroke-width="1.5"/>
<line x1="62.3" y1="367.7" x2="66.5" y2="367.7" stroke="#444" stroke-width="1"/>
<text transform="translate(58.3 374.0) scale(0.868 1)" font-size="16.0" text-anchor="end" fill="#1a1a1a" font-weight="normal" stroke="#1a1a1a" stroke-width="0.35">30</text>
<line x1="62.3" y1="267.0" x2="66.5" y2="267.0" stroke="#444" stroke-width="1"/>
<text transform="translate(58.3 273.3) scale(0.868 1)" font-size="16.0" text-anchor="end" fill="#1a1a1a" font-weight="normal" stroke="#1a1a1a" stroke-width="0.35">40</text>
<line x1="62.3" y1="188.9" x2="66.5" y2="188.9" stroke="#444" stroke-width="1"/>
<text transform="translate(58.3 195.2) scale(0.868 1)" font-size="16.0" text-anchor="end" fill="#1a1a1a" font-weight="normal" stroke="#1a1a1a" stroke-width="0.35">50</text>
<line x1="62.3" y1="125.1" x2="66.5" y2="125.1" stroke="#444" stroke-width="1"/>
<text transform="translate(58.3 131.4) scale(0.868 1)" font-size="16.0" text-anchor="end" fill="#1a1a1a" font-weight="normal" stroke="#1a1a1a" stroke-width="0.35">60</text>
<line x1="62.3" y1="71.1" x2="66.5" y2="71.1" stroke="#444" stroke-width="1"/>
<text transform="translate(58.3 77.4) scale(0.868 1)" font-size="16.0" text-anchor="end" fill="#1a1a1a" font-weight="normal" stroke="#1a1a1a" stroke-width="0.35">70</text>
<line x1="62.3" y1="24.4" x2="66.5" y2="24.4" stroke="#444" stroke-width="1"/>
<text transform="translate(58.3 30.7) scale(0.868 1)" font-size="16.0" text-anchor="end" fill="#1a1a1a" font-weight="normal" stroke="#1a1a1a" stroke-width="0.35">80</text>
<line x1="84.2" y1="382.0" x2="84.2" y2="386.2" stroke="#444" stroke-width="1"/>
<text transform="translate(84.2 397.2) scale(0.868 1)" font-size="16.0" text-anchor="middle" fill="#1a1a1a" font-weight="normal" stroke="#1a1a1a" stroke-width="0.35">2</text>
<line x1="172.6" y1="382.0" x2="172.6" y2="386.2" stroke="#444" stroke-width="1"/>
<text transform="translate(172.6 397.2) scale(0.868 1)" font-size="16.0" text-anchor="middle" fill="#1a1a1a" font-weight="normal" stroke="#1a1a1a" stroke-width="0.35">5</text>
<line x1="239.5" y1="382.0" x2="239.5" y2="386.2" stroke="#444" stroke-width="1"/>
<text transform="translate(239.5 397.2) scale(0.868 1)" font-size="16.0" text-anchor="middle" fill="#1a1a1a" font-weight="normal" stroke="#1a1a1a" stroke-width="0.35">10</text>
<line x1="306.4" y1="382.0" x2="306.4" y2="386.2" stroke="#444" stroke-width="1"/>
<text transform="translate(306.4 397.2) scale(0.868 1)" font-size="16.0" text-anchor="middle" fill="#1a1a1a" font-weight="normal" stroke="#1a1a1a" stroke-width="0.35">20</text>
<line x1="394.8" y1="382.0" x2="394.8" y2="386.2" stroke="#444" stroke-width="1"/>
<text transform="translate(394.8 397.2) scale(0.868 1)" font-size="16.0" text-anchor="middle" fill="#1a1a1a" font-weight="normal" stroke="#1a1a1a" stroke-width="0.35">50</text>
<line x1="461.7" y1="382.0" x2="461.7" y2="386.2" stroke="#444" stroke-width="1"/>
<text transform="translate(461.7 397.2) scale(0.868 1)" font-size="16.0" text-anchor="middle" fill="#1a1a1a" font-weight="normal" stroke="#1a1a1a" stroke-width="0.35">100</text>
<line x1="528.6" y1="382.0" x2="528.6" y2="386.2" stroke="#444" stroke-width="1"/>
<text transform="translate(527.6 397.2) scale(0.868 1)" font-size="16.0" text-anchor="middle" fill="#1a1a1a" font-weight="normal" stroke="#1a1a1a" stroke-width="0.35">200</text>
<rect x="82.1" y="26.4" width="12.8" height="9.8" fill="#4e8528"/>
<text transform="translate(109.9 38.1) scale(0.868 1)" font-size="16.0" text-anchor="start" fill="#1a1a1a" font-weight="normal" stroke="#1a1a1a" stroke-width="0.35">Extreme rural</text>
<rect x="82.1" y="46.8" width="12.8" height="9.8" fill="#7cc440"/>
<text transform="translate(109.9 58.6) scale(0.868 1)" font-size="16.0" text-anchor="start" fill="#1a1a1a" font-weight="normal" stroke="#1a1a1a" stroke-width="0.35">Intense rural</text>
<rect x="82.1" y="67.2" width="12.8" height="9.8" fill="#a3f750"/>
<text transform="translate(109.9 79.1) scale(0.868 1)" font-size="16.0" text-anchor="start" fill="#1a1a1a" font-weight="normal" stroke="#1a1a1a" stroke-width="0.35">Rural and semi-rural</text>
<rect x="82.1" y="87.6" width="12.8" height="9.8" fill="#808080"/>
<text transform="translate(109.9 99.6) scale(0.868 1)" font-size="16.0" text-anchor="start" fill="#1a1a1a" font-weight="normal" stroke="#1a1a1a" stroke-width="0.35">Semi-urban</text>
<rect x="82.1" y="108.0" width="12.8" height="9.8" fill="#1a1a1a"/>
<text transform="translate(109.9 120.1) scale(0.868 1)" font-size="16.0" text-anchor="start" fill="#1a1a1a" font-weight="normal" stroke="#1a1a1a" stroke-width="0.35">Urban</text>
<text transform="translate(226.3 444.3) scale(0.868 1)" font-size="16.0" text-anchor="start" fill="#1a1a1a" font-weight="normal" stroke="#1a1a1a" stroke-width="0.35">Road accessibility index</text>
<text transform="translate(22.2 286.0) rotate(-90) scale(0.868 1)" font-size="16.0" text-anchor="start" fill="#1a1a1a" font-weight="normal" stroke="#1a1a1a" stroke-width="0.35">Population mean age (years)</text>
<text transform="translate(164.0 414.8) scale(0.850 1)" font-size="13.6" text-anchor="start" fill="#006400" font-weight="bold" stroke="#006400" stroke-width="0.35">Very high</text>
<text transform="translate(300.6 414.8) scale(0.850 1)" font-size="13.6" text-anchor="start" fill="#6ba81e" font-weight="bold" stroke="#6ba81e" stroke-width="0.35">High</text>
<text transform="translate(341.4 414.8) scale(0.850 1)" font-size="13.6" text-anchor="start" fill="#111" font-weight="bold" stroke="#111" stroke-width="0.35">Medium</text>
<text transform="translate(388.4 414.8) scale(0.850 1)" font-size="13.6" text-anchor="start" fill="#ff8c00" font-weight="bold" stroke="#ff8c00" stroke-width="0.35">Low</text>
<text transform="translate(431.0 414.8) scale(0.850 1)" font-size="13.6" text-anchor="start" fill="#ff2200" font-weight="bold" stroke="#ff2200" stroke-width="0.35">Very low</text>
</svg>
</body></html>
